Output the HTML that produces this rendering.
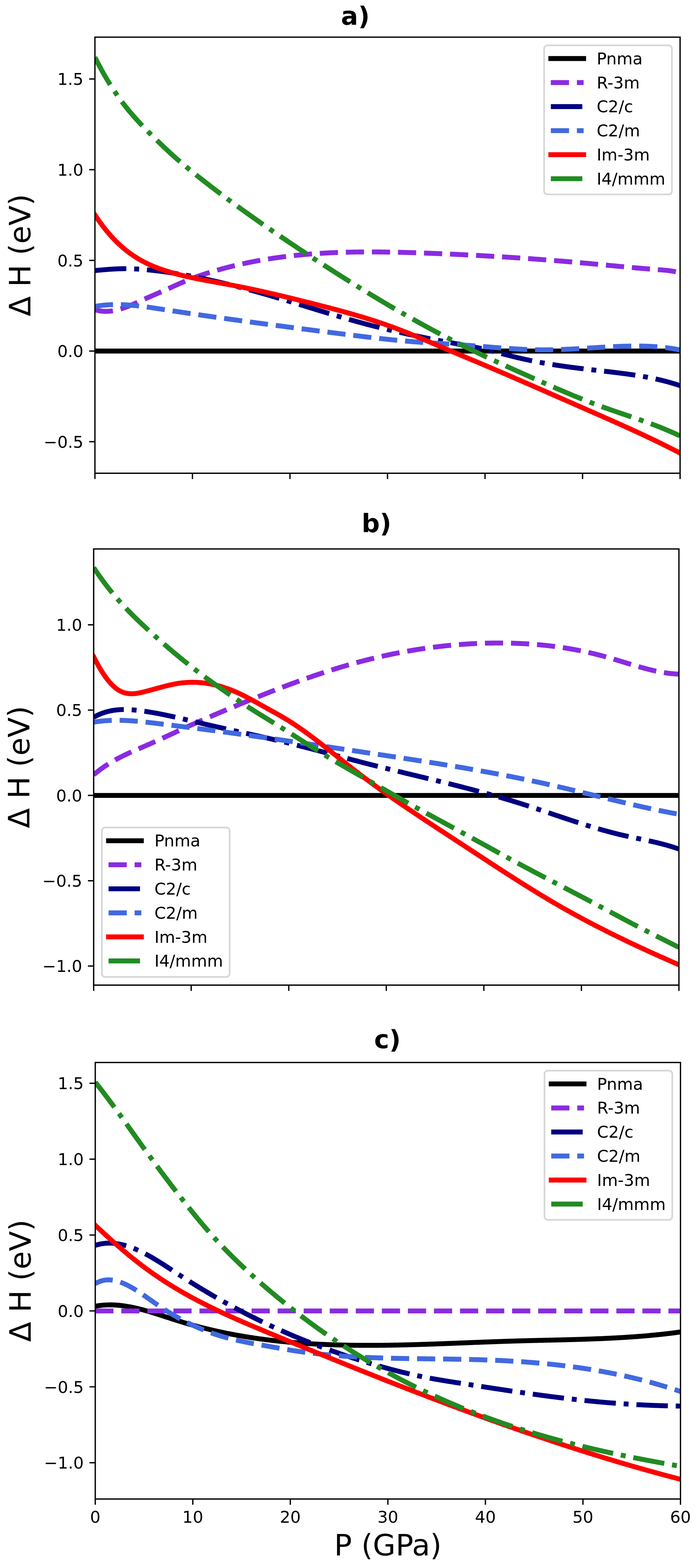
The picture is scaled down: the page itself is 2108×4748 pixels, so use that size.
<!DOCTYPE html><html><head><meta charset="utf-8"><title>Delta H vs P</title><style>html,body{margin:0;padding:0;background:#fff}svg{display:block}text{font-family:"DejaVu Sans","Liberation Sans",sans-serif}</style></head><body>
<svg width="2108" height="4748" viewBox="0 0 2108 4748">
<rect width="2108" height="4748" fill="#fff"/>
<defs><clipPath id="clipa"><rect x="287.50" y="112.50" width="1772.30" height="1320.50"/></clipPath><clipPath id="clipb"><rect x="283.70" y="1662.30" width="1772.60" height="1320.70"/></clipPath><clipPath id="clipc"><rect x="288.50" y="3217.30" width="1772.50" height="1321.80"/></clipPath></defs>
<g clip-path="url(#clipa)" fill="none" stroke-width="14.89" stroke-linejoin="round">
<path d="M287.50 1063.00 L2059.80 1063.00" stroke="#000000" stroke-linecap="square"/>
<path d="M287.50 937.67 L290.46 938.58 L293.42 939.40 L296.38 940.12 L299.34 940.75 L302.29 941.29 L305.25 941.74 L308.21 942.11 L311.17 942.40 L314.13 942.61 L317.09 942.74 L320.05 942.79 L323.01 942.77 L325.96 942.68 L328.92 942.51 L331.88 942.28 L334.84 941.98 L337.80 941.62 L340.76 941.19 L343.72 940.71 L346.68 940.16 L349.63 939.56 L352.59 938.91 L355.55 938.20 L358.51 937.45 L361.47 936.64 L364.43 935.79 L367.39 934.90 L370.35 933.96 L373.30 932.99 L376.26 931.98 L379.22 930.93 L382.18 929.84 L385.14 928.73 L388.10 927.58 L391.06 926.41 L394.02 925.21 L396.97 923.99 L399.93 922.75 L402.89 921.49 L405.85 920.21 L408.81 918.91 L411.77 917.60 L414.73 916.28 L417.69 914.95 L420.64 913.61 L423.60 912.27 L426.56 910.93 L429.52 909.58 L432.48 908.23 L435.44 906.89 L438.40 905.55 L441.36 904.22 L444.31 902.89 L447.27 901.57 L450.23 900.25 L453.19 898.94 L456.15 897.64 L459.11 896.33 L462.07 895.03 L465.03 893.74 L467.98 892.44 L470.94 891.15 L473.90 889.86 L476.86 888.56 L479.82 887.27 L482.78 885.98 L485.74 884.69 L488.70 883.39 L491.65 882.09 L494.61 880.79 L497.57 879.49 L500.53 878.19 L503.49 876.87 L506.45 875.56 L509.41 874.24 L512.37 872.91 L515.32 871.58 L518.28 870.24 L521.24 868.91 L524.20 867.57 L527.16 866.23 L530.12 864.89 L533.08 863.55 L536.04 862.22 L538.99 860.90 L541.95 859.58 L544.91 858.27 L547.87 856.97 L550.83 855.67 L553.79 854.40 L556.75 853.13 L559.71 851.88 L562.67 850.65 L565.62 849.43 L568.58 848.23 L571.54 847.04 L574.50 845.87 L577.46 844.72 L580.42 843.58 L583.38 842.45 L586.34 841.35 L589.29 840.25 L592.25 839.17 L595.21 838.10 L598.17 837.05 L601.13 836.01 L604.09 834.98 L607.05 833.96 L610.01 832.96 L612.96 831.97 L615.92 830.99 L618.88 830.02 L621.84 829.06 L624.80 828.12 L627.76 827.18 L630.72 826.26 L633.68 825.34 L636.63 824.43 L639.59 823.53 L642.55 822.64 L645.51 821.76 L648.47 820.89 L651.43 820.03 L654.39 819.17 L657.35 818.32 L660.30 817.48 L663.26 816.65 L666.22 815.83 L669.18 815.01 L672.14 814.20 L675.10 813.40 L678.06 812.61 L681.02 811.82 L683.97 811.05 L686.93 810.28 L689.89 809.51 L692.85 808.76 L695.81 808.01 L698.77 807.27 L701.73 806.54 L704.69 805.82 L707.64 805.10 L710.60 804.39 L713.56 803.69 L716.52 802.99 L719.48 802.31 L722.44 801.63 L725.40 800.95 L728.36 800.29 L731.31 799.63 L734.27 798.98 L737.23 798.33 L740.19 797.70 L743.15 797.07 L746.11 796.44 L749.07 795.83 L752.03 795.22 L754.98 794.61 L757.94 794.02 L760.90 793.43 L763.86 792.85 L766.82 792.27 L769.78 791.71 L772.74 791.14 L775.70 790.59 L778.65 790.04 L781.61 789.50 L784.57 788.97 L787.53 788.44 L790.49 787.92 L793.45 787.40 L796.41 786.89 L799.37 786.39 L802.33 785.89 L805.28 785.40 L808.24 784.92 L811.20 784.44 L814.16 783.97 L817.12 783.51 L820.08 783.05 L823.04 782.60 L826.00 782.15 L828.95 781.71 L831.91 781.28 L834.87 780.85 L837.83 780.43 L840.79 780.01 L843.75 779.60 L846.71 779.20 L849.67 778.80 L852.62 778.41 L855.58 778.02 L858.54 777.64 L861.50 777.27 L864.46 776.90 L867.42 776.53 L870.38 776.18 L873.34 775.82 L876.29 775.48 L879.25 775.14 L882.21 774.80 L885.17 774.47 L888.13 774.15 L891.09 773.83 L894.05 773.51 L897.01 773.20 L899.96 772.90 L902.92 772.60 L905.88 772.31 L908.84 772.02 L911.80 771.74 L914.76 771.46 L917.72 771.19 L920.68 770.92 L923.63 770.66 L926.59 770.40 L929.55 770.15 L932.51 769.90 L935.47 769.66 L938.43 769.42 L941.39 769.19 L944.35 768.96 L947.30 768.74 L950.26 768.52 L953.22 768.31 L956.18 768.10 L959.14 767.90 L962.10 767.70 L965.06 767.50 L968.02 767.31 L970.97 767.13 L973.93 766.94 L976.89 766.77 L979.85 766.59 L982.81 766.43 L985.77 766.26 L988.73 766.10 L991.69 765.95 L994.64 765.80 L997.60 765.65 L1000.56 765.51 L1003.52 765.37 L1006.48 765.23 L1009.44 765.10 L1012.40 764.98 L1015.36 764.86 L1018.31 764.74 L1021.27 764.62 L1024.23 764.51 L1027.19 764.41 L1030.15 764.31 L1033.11 764.21 L1036.07 764.11 L1039.03 764.02 L1041.98 763.93 L1044.94 763.85 L1047.90 763.77 L1050.86 763.69 L1053.82 763.62 L1056.78 763.55 L1059.74 763.48 L1062.70 763.42 L1065.66 763.36 L1068.61 763.31 L1071.57 763.26 L1074.53 763.21 L1077.49 763.16 L1080.45 763.12 L1083.41 763.08 L1086.37 763.05 L1089.33 763.01 L1092.28 762.98 L1095.24 762.96 L1098.20 762.94 L1101.16 762.92 L1104.12 762.90 L1107.08 762.89 L1110.04 762.87 L1113.00 762.87 L1115.95 762.86 L1118.91 762.86 L1121.87 762.86 L1124.83 762.86 L1127.79 762.87 L1130.75 762.88 L1133.71 762.89 L1136.67 762.90 L1139.62 762.92 L1142.58 762.94 L1145.54 762.96 L1148.50 762.99 L1151.46 763.02 L1154.42 763.04 L1157.38 763.08 L1160.34 763.11 L1163.29 763.15 L1166.25 763.19 L1169.21 763.23 L1172.17 763.27 L1175.13 763.32 L1178.09 763.37 L1181.05 763.42 L1184.01 763.47 L1186.96 763.52 L1189.92 763.58 L1192.88 763.64 L1195.84 763.70 L1198.80 763.76 L1201.76 763.83 L1204.72 763.90 L1207.68 763.96 L1210.63 764.03 L1213.59 764.11 L1216.55 764.18 L1219.51 764.26 L1222.47 764.33 L1225.43 764.41 L1228.39 764.49 L1231.35 764.58 L1234.30 764.66 L1237.26 764.74 L1240.22 764.83 L1243.18 764.92 L1246.14 765.01 L1249.10 765.10 L1252.06 765.19 L1255.02 765.29 L1257.97 765.38 L1260.93 765.48 L1263.89 765.58 L1266.85 765.68 L1269.81 765.78 L1272.77 765.88 L1275.73 765.98 L1278.69 766.09 L1281.64 766.19 L1284.60 766.30 L1287.56 766.40 L1290.52 766.51 L1293.48 766.62 L1296.44 766.73 L1299.40 766.84 L1302.36 766.95 L1305.32 767.06 L1308.27 767.18 L1311.23 767.29 L1314.19 767.41 L1317.15 767.52 L1320.11 767.64 L1323.07 767.76 L1326.03 767.88 L1328.99 768.00 L1331.94 768.12 L1334.90 768.24 L1337.86 768.36 L1340.82 768.48 L1343.78 768.61 L1346.74 768.73 L1349.70 768.86 L1352.66 768.99 L1355.61 769.12 L1358.57 769.25 L1361.53 769.38 L1364.49 769.51 L1367.45 769.64 L1370.41 769.77 L1373.37 769.91 L1376.33 770.04 L1379.28 770.18 L1382.24 770.31 L1385.20 770.45 L1388.16 770.59 L1391.12 770.73 L1394.08 770.87 L1397.04 771.01 L1400.00 771.15 L1402.95 771.30 L1405.91 771.44 L1408.87 771.59 L1411.83 771.73 L1414.79 771.88 L1417.75 772.03 L1420.71 772.18 L1423.67 772.33 L1426.62 772.48 L1429.58 772.63 L1432.54 772.79 L1435.50 772.94 L1438.46 773.09 L1441.42 773.25 L1444.38 773.41 L1447.34 773.56 L1450.29 773.72 L1453.25 773.88 L1456.21 774.04 L1459.17 774.21 L1462.13 774.37 L1465.09 774.53 L1468.05 774.70 L1471.01 774.86 L1473.96 775.03 L1476.92 775.20 L1479.88 775.36 L1482.84 775.53 L1485.80 775.70 L1488.76 775.88 L1491.72 776.05 L1494.68 776.22 L1497.63 776.40 L1500.59 776.57 L1503.55 776.75 L1506.51 776.92 L1509.47 777.10 L1512.43 777.28 L1515.39 777.46 L1518.35 777.64 L1521.30 777.82 L1524.26 778.01 L1527.22 778.19 L1530.18 778.38 L1533.14 778.56 L1536.10 778.75 L1539.06 778.94 L1542.02 779.13 L1544.97 779.32 L1547.93 779.51 L1550.89 779.70 L1553.85 779.89 L1556.81 780.08 L1559.77 780.28 L1562.73 780.47 L1565.69 780.67 L1568.65 780.87 L1571.60 781.07 L1574.56 781.27 L1577.52 781.47 L1580.48 781.67 L1583.44 781.87 L1586.40 782.08 L1589.36 782.28 L1592.32 782.49 L1595.27 782.69 L1598.23 782.90 L1601.19 783.11 L1604.15 783.32 L1607.11 783.53 L1610.07 783.74 L1613.03 783.95 L1615.99 784.16 L1618.94 784.38 L1621.90 784.59 L1624.86 784.81 L1627.82 785.03 L1630.78 785.25 L1633.74 785.47 L1636.70 785.69 L1639.66 785.91 L1642.61 786.13 L1645.57 786.35 L1648.53 786.58 L1651.49 786.80 L1654.45 787.03 L1657.41 787.26 L1660.37 787.48 L1663.33 787.71 L1666.28 787.94 L1669.24 788.18 L1672.20 788.41 L1675.16 788.64 L1678.12 788.87 L1681.08 789.11 L1684.04 789.35 L1687.00 789.58 L1689.95 789.82 L1692.91 790.06 L1695.87 790.30 L1698.83 790.54 L1701.79 790.79 L1704.75 791.03 L1707.71 791.27 L1710.67 791.52 L1713.62 791.76 L1716.58 792.01 L1719.54 792.26 L1722.50 792.51 L1725.46 792.76 L1728.42 793.01 L1731.38 793.26 L1734.34 793.52 L1737.29 793.77 L1740.25 794.03 L1743.21 794.28 L1746.17 794.54 L1749.13 794.80 L1752.09 795.06 L1755.05 795.32 L1758.01 795.58 L1760.96 795.84 L1763.92 796.11 L1766.88 796.37 L1769.84 796.64 L1772.80 796.90 L1775.76 797.17 L1778.72 797.44 L1781.68 797.71 L1784.63 797.98 L1787.59 798.25 L1790.55 798.52 L1793.51 798.80 L1796.47 799.07 L1799.43 799.35 L1802.39 799.62 L1805.35 799.90 L1808.31 800.18 L1811.26 800.45 L1814.22 800.73 L1817.18 801.01 L1820.14 801.29 L1823.10 801.57 L1826.06 801.85 L1829.02 802.13 L1831.98 802.41 L1834.93 802.69 L1837.89 802.97 L1840.85 803.26 L1843.81 803.54 L1846.77 803.82 L1849.73 804.10 L1852.69 804.38 L1855.65 804.66 L1858.60 804.94 L1861.56 805.22 L1864.52 805.50 L1867.48 805.78 L1870.44 806.06 L1873.40 806.34 L1876.36 806.62 L1879.32 806.90 L1882.27 807.17 L1885.23 807.45 L1888.19 807.73 L1891.15 808.00 L1894.11 808.27 L1897.07 808.55 L1900.03 808.82 L1902.99 809.09 L1905.94 809.36 L1908.90 809.63 L1911.86 809.90 L1914.82 810.17 L1917.78 810.43 L1920.74 810.70 L1923.70 810.96 L1926.66 811.22 L1929.61 811.48 L1932.57 811.74 L1935.53 812.00 L1938.49 812.25 L1941.45 812.51 L1944.41 812.76 L1947.37 813.01 L1950.33 813.26 L1953.28 813.51 L1956.24 813.75 L1959.20 813.99 L1962.16 814.23 L1965.12 814.47 L1968.08 814.71 L1971.04 814.94 L1974.00 815.18 L1976.95 815.41 L1979.91 815.64 L1982.87 815.86 L1985.83 816.08 L1988.79 816.31 L1991.75 816.52 L1994.71 816.74 L1997.67 816.95 L2000.62 817.17 L2003.58 817.39 L2006.54 817.61 L2009.50 817.85 L2012.46 818.10 L2015.42 818.37 L2018.38 818.66 L2021.34 818.97 L2024.29 819.32 L2027.25 819.69 L2030.21 820.09 L2033.17 820.54 L2036.13 821.02 L2039.09 821.55 L2042.05 822.13 L2045.01 822.75 L2047.96 823.43 L2050.92 824.17 L2053.88 824.97 L2056.84 825.83 L2059.80 826.76" stroke="#8a2be2" stroke-linecap="butt" stroke-dasharray="55.09,23.82"/>
<path d="M287.50 819.27 L290.46 818.98 L293.42 818.69 L296.38 818.41 L299.34 818.13 L302.29 817.86 L305.25 817.59 L308.21 817.32 L311.17 817.06 L314.13 816.81 L317.09 816.56 L320.05 816.32 L323.01 816.09 L325.96 815.87 L328.92 815.65 L331.88 815.44 L334.84 815.25 L337.80 815.06 L340.76 814.88 L343.72 814.71 L346.68 814.55 L349.63 814.40 L352.59 814.27 L355.55 814.14 L358.51 814.03 L361.47 813.93 L364.43 813.84 L367.39 813.77 L370.35 813.71 L373.30 813.67 L376.26 813.64 L379.22 813.63 L382.18 813.63 L385.14 813.64 L388.10 813.68 L391.06 813.72 L394.02 813.79 L396.97 813.87 L399.93 813.96 L402.89 814.06 L405.85 814.18 L408.81 814.32 L411.77 814.46 L414.73 814.62 L417.69 814.79 L420.64 814.98 L423.60 815.17 L426.56 815.38 L429.52 815.60 L432.48 815.83 L435.44 816.07 L438.40 816.32 L441.36 816.58 L444.31 816.84 L447.27 817.12 L450.23 817.41 L453.19 817.71 L456.15 818.01 L459.11 818.32 L462.07 818.64 L465.03 818.97 L467.98 819.30 L470.94 819.64 L473.90 819.99 L476.86 820.34 L479.82 820.70 L482.78 821.07 L485.74 821.44 L488.70 821.82 L491.65 822.21 L494.61 822.60 L497.57 823.00 L500.53 823.40 L503.49 823.81 L506.45 824.23 L509.41 824.65 L512.37 825.08 L515.32 825.52 L518.28 825.96 L521.24 826.40 L524.20 826.86 L527.16 827.32 L530.12 827.78 L533.08 828.25 L536.04 828.73 L538.99 829.21 L541.95 829.70 L544.91 830.19 L547.87 830.69 L550.83 831.20 L553.79 831.71 L556.75 832.22 L559.71 832.74 L562.67 833.27 L565.62 833.80 L568.58 834.34 L571.54 834.88 L574.50 835.43 L577.46 835.98 L580.42 836.54 L583.38 837.11 L586.34 837.68 L589.29 838.25 L592.25 838.83 L595.21 839.41 L598.17 840.00 L601.13 840.60 L604.09 841.20 L607.05 841.80 L610.01 842.41 L612.96 843.03 L615.92 843.64 L618.88 844.27 L621.84 844.90 L624.80 845.53 L627.76 846.17 L630.72 846.81 L633.68 847.46 L636.63 848.11 L639.59 848.76 L642.55 849.42 L645.51 850.09 L648.47 850.76 L651.43 851.43 L654.39 852.11 L657.35 852.79 L660.30 853.48 L663.26 854.17 L666.22 854.86 L669.18 855.56 L672.14 856.27 L675.10 856.97 L678.06 857.68 L681.02 858.40 L683.97 859.12 L686.93 859.84 L689.89 860.57 L692.85 861.30 L695.81 862.03 L698.77 862.77 L701.73 863.52 L704.69 864.26 L707.64 865.01 L710.60 865.76 L713.56 866.52 L716.52 867.28 L719.48 868.04 L722.44 868.81 L725.40 869.58 L728.36 870.36 L731.31 871.13 L734.27 871.92 L737.23 872.70 L740.19 873.49 L743.15 874.28 L746.11 875.07 L749.07 875.87 L752.03 876.67 L754.98 877.47 L757.94 878.28 L760.90 879.09 L763.86 879.90 L766.82 880.71 L769.78 881.53 L772.74 882.35 L775.70 883.18 L778.65 884.00 L781.61 884.83 L784.57 885.66 L787.53 886.50 L790.49 887.34 L793.45 888.18 L796.41 889.02 L799.37 889.86 L802.33 890.71 L805.28 891.56 L808.24 892.41 L811.20 893.27 L814.16 894.12 L817.12 894.98 L820.08 895.84 L823.04 896.71 L826.00 897.57 L828.95 898.44 L831.91 899.31 L834.87 900.19 L837.83 901.06 L840.79 901.94 L843.75 902.81 L846.71 903.69 L849.67 904.58 L852.62 905.46 L855.58 906.35 L858.54 907.23 L861.50 908.12 L864.46 909.01 L867.42 909.91 L870.38 910.80 L873.34 911.69 L876.29 912.59 L879.25 913.49 L882.21 914.38 L885.17 915.28 L888.13 916.18 L891.09 917.08 L894.05 917.99 L897.01 918.89 L899.96 919.79 L902.92 920.70 L905.88 921.60 L908.84 922.51 L911.80 923.41 L914.76 924.32 L917.72 925.23 L920.68 926.13 L923.63 927.04 L926.59 927.95 L929.55 928.85 L932.51 929.76 L935.47 930.67 L938.43 931.58 L941.39 932.48 L944.35 933.39 L947.30 934.30 L950.26 935.20 L953.22 936.11 L956.18 937.01 L959.14 937.92 L962.10 938.82 L965.06 939.72 L968.02 940.63 L970.97 941.53 L973.93 942.43 L976.89 943.33 L979.85 944.23 L982.81 945.12 L985.77 946.02 L988.73 946.91 L991.69 947.81 L994.64 948.70 L997.60 949.59 L1000.56 950.48 L1003.52 951.37 L1006.48 952.25 L1009.44 953.14 L1012.40 954.02 L1015.36 954.90 L1018.31 955.78 L1021.27 956.66 L1024.23 957.53 L1027.19 958.41 L1030.15 959.28 L1033.11 960.14 L1036.07 961.01 L1039.03 961.87 L1041.98 962.74 L1044.94 963.59 L1047.90 964.45 L1050.86 965.30 L1053.82 966.16 L1056.78 967.00 L1059.74 967.85 L1062.70 968.69 L1065.66 969.53 L1068.61 970.37 L1071.57 971.20 L1074.53 972.03 L1077.49 972.86 L1080.45 973.68 L1083.41 974.50 L1086.37 975.32 L1089.33 976.13 L1092.28 976.94 L1095.24 977.75 L1098.20 978.55 L1101.16 979.35 L1104.12 980.15 L1107.08 980.94 L1110.04 981.73 L1113.00 982.51 L1115.95 983.29 L1118.91 984.07 L1121.87 984.84 L1124.83 985.61 L1127.79 986.37 L1130.75 987.13 L1133.71 987.89 L1136.67 988.64 L1139.62 989.39 L1142.58 990.14 L1145.54 990.88 L1148.50 991.62 L1151.46 992.36 L1154.42 993.09 L1157.38 993.82 L1160.34 994.54 L1163.29 995.26 L1166.25 995.98 L1169.21 996.70 L1172.17 997.41 L1175.13 998.12 L1178.09 998.82 L1181.05 999.52 L1184.01 1000.22 L1186.96 1000.91 L1189.92 1001.61 L1192.88 1002.29 L1195.84 1002.98 L1198.80 1003.66 L1201.76 1004.34 L1204.72 1005.02 L1207.68 1005.69 L1210.63 1006.36 L1213.59 1007.02 L1216.55 1007.69 L1219.51 1008.35 L1222.47 1009.00 L1225.43 1009.66 L1228.39 1010.31 L1231.35 1010.96 L1234.30 1011.60 L1237.26 1012.25 L1240.22 1012.89 L1243.18 1013.52 L1246.14 1014.16 L1249.10 1014.79 L1252.06 1015.42 L1255.02 1016.05 L1257.97 1016.67 L1260.93 1017.29 L1263.89 1017.91 L1266.85 1018.52 L1269.81 1019.14 L1272.77 1019.75 L1275.73 1020.36 L1278.69 1020.96 L1281.64 1021.57 L1284.60 1022.17 L1287.56 1022.76 L1290.52 1023.36 L1293.48 1023.95 L1296.44 1024.54 L1299.40 1025.13 L1302.36 1025.72 L1305.32 1026.30 L1308.27 1026.88 L1311.23 1027.46 L1314.19 1028.04 L1317.15 1028.62 L1320.11 1029.19 L1323.07 1029.76 L1326.03 1030.33 L1328.99 1030.90 L1331.94 1031.46 L1334.90 1032.02 L1337.86 1032.58 L1340.82 1033.14 L1343.78 1033.70 L1346.74 1034.25 L1349.70 1034.81 L1352.66 1035.36 L1355.61 1035.90 L1358.57 1036.45 L1361.53 1037.00 L1364.49 1037.54 L1367.45 1038.08 L1370.41 1038.62 L1373.37 1039.16 L1376.33 1039.70 L1379.28 1040.23 L1382.24 1040.77 L1385.20 1041.31 L1388.16 1041.84 L1391.12 1042.38 L1394.08 1042.92 L1397.04 1043.46 L1400.00 1044.00 L1402.95 1044.54 L1405.91 1045.09 L1408.87 1045.64 L1411.83 1046.19 L1414.79 1046.74 L1417.75 1047.30 L1420.71 1047.86 L1423.67 1048.43 L1426.62 1049.01 L1429.58 1049.58 L1432.54 1050.17 L1435.50 1050.76 L1438.46 1051.36 L1441.42 1051.96 L1444.38 1052.57 L1447.34 1053.19 L1450.29 1053.81 L1453.25 1054.45 L1456.21 1055.09 L1459.17 1055.74 L1462.13 1056.40 L1465.09 1057.07 L1468.05 1057.75 L1471.01 1058.44 L1473.96 1059.15 L1476.92 1059.86 L1479.88 1060.58 L1482.84 1061.31 L1485.80 1062.04 L1488.76 1062.79 L1491.72 1063.54 L1494.68 1064.29 L1497.63 1065.05 L1500.59 1065.82 L1503.55 1066.59 L1506.51 1067.36 L1509.47 1068.14 L1512.43 1068.92 L1515.39 1069.69 L1518.35 1070.47 L1521.30 1071.25 L1524.26 1072.03 L1527.22 1072.81 L1530.18 1073.58 L1533.14 1074.35 L1536.10 1075.12 L1539.06 1075.89 L1542.02 1076.65 L1544.97 1077.40 L1547.93 1078.15 L1550.89 1078.89 L1553.85 1079.62 L1556.81 1080.35 L1559.77 1081.07 L1562.73 1081.79 L1565.69 1082.49 L1568.65 1083.19 L1571.60 1083.89 L1574.56 1084.57 L1577.52 1085.26 L1580.48 1085.93 L1583.44 1086.60 L1586.40 1087.26 L1589.36 1087.91 L1592.32 1088.56 L1595.27 1089.20 L1598.23 1089.83 L1601.19 1090.46 L1604.15 1091.08 L1607.11 1091.70 L1610.07 1092.31 L1613.03 1092.91 L1615.99 1093.51 L1618.94 1094.10 L1621.90 1094.68 L1624.86 1095.26 L1627.82 1095.83 L1630.78 1096.40 L1633.74 1096.96 L1636.70 1097.51 L1639.66 1098.06 L1642.61 1098.60 L1645.57 1099.14 L1648.53 1099.67 L1651.49 1100.19 L1654.45 1100.71 L1657.41 1101.22 L1660.37 1101.73 L1663.33 1102.23 L1666.28 1102.72 L1669.24 1103.21 L1672.20 1103.69 L1675.16 1104.17 L1678.12 1104.64 L1681.08 1105.11 L1684.04 1105.57 L1687.00 1106.03 L1689.95 1106.48 L1692.91 1106.92 L1695.87 1107.36 L1698.83 1107.80 L1701.79 1108.23 L1704.75 1108.65 L1707.71 1109.07 L1710.67 1109.49 L1713.62 1109.90 L1716.58 1110.31 L1719.54 1110.71 L1722.50 1111.11 L1725.46 1111.51 L1728.42 1111.90 L1731.38 1112.29 L1734.34 1112.68 L1737.29 1113.06 L1740.25 1113.44 L1743.21 1113.81 L1746.17 1114.19 L1749.13 1114.56 L1752.09 1114.92 L1755.05 1115.29 L1758.01 1115.65 L1760.96 1116.01 L1763.92 1116.37 L1766.88 1116.72 L1769.84 1117.08 L1772.80 1117.43 L1775.76 1117.78 L1778.72 1118.13 L1781.68 1118.47 L1784.63 1118.82 L1787.59 1119.16 L1790.55 1119.50 L1793.51 1119.85 L1796.47 1120.19 L1799.43 1120.53 L1802.39 1120.87 L1805.35 1121.21 L1808.31 1121.54 L1811.26 1121.88 L1814.22 1122.22 L1817.18 1122.56 L1820.14 1122.90 L1823.10 1123.23 L1826.06 1123.57 L1829.02 1123.91 L1831.98 1124.25 L1834.93 1124.59 L1837.89 1124.93 L1840.85 1125.27 L1843.81 1125.61 L1846.77 1125.96 L1849.73 1126.30 L1852.69 1126.65 L1855.65 1127.00 L1858.60 1127.35 L1861.56 1127.71 L1864.52 1128.06 L1867.48 1128.42 L1870.44 1128.78 L1873.40 1129.15 L1876.36 1129.52 L1879.32 1129.89 L1882.27 1130.27 L1885.23 1130.65 L1888.19 1131.03 L1891.15 1131.42 L1894.11 1131.82 L1897.07 1132.22 L1900.03 1132.62 L1902.99 1133.03 L1905.94 1133.44 L1908.90 1133.86 L1911.86 1134.29 L1914.82 1134.72 L1917.78 1135.16 L1920.74 1135.61 L1923.70 1136.06 L1926.66 1136.52 L1929.61 1136.98 L1932.57 1137.46 L1935.53 1137.94 L1938.49 1138.43 L1941.45 1138.92 L1944.41 1139.43 L1947.37 1139.94 L1950.33 1140.46 L1953.28 1140.99 L1956.24 1141.53 L1959.20 1142.08 L1962.16 1142.64 L1965.12 1143.21 L1968.08 1143.79 L1971.04 1144.37 L1974.00 1144.97 L1976.95 1145.58 L1979.91 1146.20 L1982.87 1146.83 L1985.83 1147.47 L1988.79 1148.13 L1991.75 1148.79 L1994.71 1149.47 L1997.67 1150.15 L2000.62 1150.85 L2003.58 1151.57 L2006.54 1152.29 L2009.50 1153.03 L2012.46 1153.78 L2015.42 1154.54 L2018.38 1155.32 L2021.34 1156.11 L2024.29 1156.92 L2027.25 1157.73 L2030.21 1158.57 L2033.17 1159.41 L2036.13 1160.28 L2039.09 1161.15 L2042.05 1162.04 L2045.01 1162.95 L2047.96 1163.87 L2050.92 1164.81 L2053.88 1165.77 L2056.84 1166.74 L2059.80 1167.72" stroke="#000080" stroke-linecap="butt" stroke-dasharray="95.30,23.82,14.89,23.82"/>
<path d="M287.50 927.86 L290.46 927.33 L293.42 926.83 L296.38 926.36 L299.34 925.92 L302.29 925.51 L305.25 925.12 L308.21 924.77 L311.17 924.43 L314.13 924.13 L317.09 923.85 L320.05 923.59 L323.01 923.36 L325.96 923.15 L328.92 922.97 L331.88 922.81 L334.84 922.67 L337.80 922.56 L340.76 922.47 L343.72 922.40 L346.68 922.35 L349.63 922.32 L352.59 922.31 L355.55 922.32 L358.51 922.34 L361.47 922.39 L364.43 922.46 L367.39 922.54 L370.35 922.64 L373.30 922.76 L376.26 922.89 L379.22 923.04 L382.18 923.21 L385.14 923.39 L388.10 923.59 L391.06 923.80 L394.02 924.02 L396.97 924.26 L399.93 924.51 L402.89 924.77 L405.85 925.05 L408.81 925.34 L411.77 925.64 L414.73 925.95 L417.69 926.27 L420.64 926.60 L423.60 926.95 L426.56 927.30 L429.52 927.66 L432.48 928.03 L435.44 928.41 L438.40 928.79 L441.36 929.18 L444.31 929.58 L447.27 929.99 L450.23 930.40 L453.19 930.82 L456.15 931.25 L459.11 931.68 L462.07 932.11 L465.03 932.55 L467.98 932.99 L470.94 933.44 L473.90 933.89 L476.86 934.34 L479.82 934.79 L482.78 935.24 L485.74 935.70 L488.70 936.16 L491.65 936.62 L494.61 937.07 L497.57 937.53 L500.53 937.99 L503.49 938.44 L506.45 938.90 L509.41 939.35 L512.37 939.81 L515.32 940.26 L518.28 940.71 L521.24 941.16 L524.20 941.61 L527.16 942.06 L530.12 942.51 L533.08 942.96 L536.04 943.40 L538.99 943.85 L541.95 944.30 L544.91 944.74 L547.87 945.18 L550.83 945.63 L553.79 946.07 L556.75 946.51 L559.71 946.95 L562.67 947.39 L565.62 947.83 L568.58 948.27 L571.54 948.71 L574.50 949.14 L577.46 949.58 L580.42 950.02 L583.38 950.45 L586.34 950.88 L589.29 951.32 L592.25 951.75 L595.21 952.18 L598.17 952.61 L601.13 953.04 L604.09 953.47 L607.05 953.90 L610.01 954.33 L612.96 954.76 L615.92 955.19 L618.88 955.61 L621.84 956.04 L624.80 956.46 L627.76 956.89 L630.72 957.31 L633.68 957.73 L636.63 958.16 L639.59 958.58 L642.55 959.00 L645.51 959.42 L648.47 959.84 L651.43 960.26 L654.39 960.68 L657.35 961.10 L660.30 961.51 L663.26 961.93 L666.22 962.35 L669.18 962.76 L672.14 963.18 L675.10 963.59 L678.06 964.01 L681.02 964.42 L683.97 964.83 L686.93 965.24 L689.89 965.66 L692.85 966.07 L695.81 966.48 L698.77 966.89 L701.73 967.30 L704.69 967.71 L707.64 968.11 L710.60 968.52 L713.56 968.93 L716.52 969.34 L719.48 969.74 L722.44 970.15 L725.40 970.55 L728.36 970.96 L731.31 971.36 L734.27 971.77 L737.23 972.17 L740.19 972.57 L743.15 972.98 L746.11 973.38 L749.07 973.78 L752.03 974.18 L754.98 974.58 L757.94 974.98 L760.90 975.38 L763.86 975.78 L766.82 976.18 L769.78 976.58 L772.74 976.97 L775.70 977.37 L778.65 977.77 L781.61 978.16 L784.57 978.56 L787.53 978.96 L790.49 979.35 L793.45 979.75 L796.41 980.14 L799.37 980.54 L802.33 980.93 L805.28 981.32 L808.24 981.72 L811.20 982.11 L814.16 982.50 L817.12 982.89 L820.08 983.29 L823.04 983.68 L826.00 984.07 L828.95 984.46 L831.91 984.85 L834.87 985.24 L837.83 985.63 L840.79 986.02 L843.75 986.41 L846.71 986.79 L849.67 987.18 L852.62 987.57 L855.58 987.96 L858.54 988.35 L861.50 988.73 L864.46 989.12 L867.42 989.51 L870.38 989.89 L873.34 990.28 L876.29 990.66 L879.25 991.05 L882.21 991.44 L885.17 991.82 L888.13 992.20 L891.09 992.59 L894.05 992.97 L897.01 993.36 L899.96 993.74 L902.92 994.12 L905.88 994.51 L908.84 994.89 L911.80 995.27 L914.76 995.66 L917.72 996.04 L920.68 996.42 L923.63 996.80 L926.59 997.19 L929.55 997.57 L932.51 997.95 L935.47 998.33 L938.43 998.71 L941.39 999.09 L944.35 999.47 L947.30 999.85 L950.26 1000.23 L953.22 1000.61 L956.18 1001.00 L959.14 1001.38 L962.10 1001.76 L965.06 1002.14 L968.02 1002.51 L970.97 1002.89 L973.93 1003.27 L976.89 1003.65 L979.85 1004.03 L982.81 1004.41 L985.77 1004.79 L988.73 1005.17 L991.69 1005.55 L994.64 1005.93 L997.60 1006.31 L1000.56 1006.69 L1003.52 1007.06 L1006.48 1007.44 L1009.44 1007.82 L1012.40 1008.20 L1015.36 1008.58 L1018.31 1008.95 L1021.27 1009.33 L1024.23 1009.71 L1027.19 1010.09 L1030.15 1010.46 L1033.11 1010.84 L1036.07 1011.21 L1039.03 1011.59 L1041.98 1011.96 L1044.94 1012.34 L1047.90 1012.71 L1050.86 1013.08 L1053.82 1013.45 L1056.78 1013.82 L1059.74 1014.19 L1062.70 1014.56 L1065.66 1014.93 L1068.61 1015.30 L1071.57 1015.67 L1074.53 1016.03 L1077.49 1016.40 L1080.45 1016.76 L1083.41 1017.12 L1086.37 1017.48 L1089.33 1017.85 L1092.28 1018.20 L1095.24 1018.56 L1098.20 1018.92 L1101.16 1019.27 L1104.12 1019.63 L1107.08 1019.98 L1110.04 1020.33 L1113.00 1020.68 L1115.95 1021.03 L1118.91 1021.37 L1121.87 1021.72 L1124.83 1022.06 L1127.79 1022.40 L1130.75 1022.74 L1133.71 1023.08 L1136.67 1023.42 L1139.62 1023.75 L1142.58 1024.09 L1145.54 1024.42 L1148.50 1024.74 L1151.46 1025.07 L1154.42 1025.40 L1157.38 1025.72 L1160.34 1026.04 L1163.29 1026.36 L1166.25 1026.67 L1169.21 1026.99 L1172.17 1027.30 L1175.13 1027.61 L1178.09 1027.92 L1181.05 1028.22 L1184.01 1028.53 L1186.96 1028.83 L1189.92 1029.12 L1192.88 1029.42 L1195.84 1029.71 L1198.80 1030.00 L1201.76 1030.29 L1204.72 1030.57 L1207.68 1030.85 L1210.63 1031.13 L1213.59 1031.41 L1216.55 1031.68 L1219.51 1031.96 L1222.47 1032.22 L1225.43 1032.49 L1228.39 1032.75 L1231.35 1033.01 L1234.30 1033.27 L1237.26 1033.52 L1240.22 1033.77 L1243.18 1034.01 L1246.14 1034.26 L1249.10 1034.50 L1252.06 1034.74 L1255.02 1034.97 L1257.97 1035.20 L1260.93 1035.43 L1263.89 1035.65 L1266.85 1035.87 L1269.81 1036.09 L1272.77 1036.30 L1275.73 1036.51 L1278.69 1036.72 L1281.64 1036.92 L1284.60 1037.12 L1287.56 1037.32 L1290.52 1037.52 L1293.48 1037.72 L1296.44 1037.91 L1299.40 1038.10 L1302.36 1038.29 L1305.32 1038.48 L1308.27 1038.66 L1311.23 1038.85 L1314.19 1039.03 L1317.15 1039.21 L1320.11 1039.40 L1323.07 1039.58 L1326.03 1039.76 L1328.99 1039.94 L1331.94 1040.12 L1334.90 1040.30 L1337.86 1040.47 L1340.82 1040.65 L1343.78 1040.83 L1346.74 1041.01 L1349.70 1041.19 L1352.66 1041.37 L1355.61 1041.55 L1358.57 1041.74 L1361.53 1041.92 L1364.49 1042.11 L1367.45 1042.29 L1370.41 1042.48 L1373.37 1042.67 L1376.33 1042.86 L1379.28 1043.05 L1382.24 1043.25 L1385.20 1043.44 L1388.16 1043.64 L1391.12 1043.84 L1394.08 1044.05 L1397.04 1044.26 L1400.00 1044.47 L1402.95 1044.68 L1405.91 1044.89 L1408.87 1045.11 L1411.83 1045.33 L1414.79 1045.55 L1417.75 1045.77 L1420.71 1046.00 L1423.67 1046.22 L1426.62 1046.45 L1429.58 1046.68 L1432.54 1046.91 L1435.50 1047.14 L1438.46 1047.38 L1441.42 1047.61 L1444.38 1047.85 L1447.34 1048.08 L1450.29 1048.32 L1453.25 1048.56 L1456.21 1048.79 L1459.17 1049.03 L1462.13 1049.27 L1465.09 1049.51 L1468.05 1049.74 L1471.01 1049.98 L1473.96 1050.22 L1476.92 1050.46 L1479.88 1050.69 L1482.84 1050.93 L1485.80 1051.16 L1488.76 1051.40 L1491.72 1051.63 L1494.68 1051.86 L1497.63 1052.09 L1500.59 1052.32 L1503.55 1052.55 L1506.51 1052.77 L1509.47 1053.00 L1512.43 1053.22 L1515.39 1053.44 L1518.35 1053.66 L1521.30 1053.87 L1524.26 1054.09 L1527.22 1054.30 L1530.18 1054.50 L1533.14 1054.71 L1536.10 1054.91 L1539.06 1055.11 L1542.02 1055.31 L1544.97 1055.50 L1547.93 1055.69 L1550.89 1055.88 L1553.85 1056.06 L1556.81 1056.24 L1559.77 1056.42 L1562.73 1056.59 L1565.69 1056.76 L1568.65 1056.92 L1571.60 1057.08 L1574.56 1057.24 L1577.52 1057.39 L1580.48 1057.54 L1583.44 1057.68 L1586.40 1057.81 L1589.36 1057.94 L1592.32 1058.07 L1595.27 1058.19 L1598.23 1058.31 L1601.19 1058.42 L1604.15 1058.52 L1607.11 1058.62 L1610.07 1058.72 L1613.03 1058.80 L1615.99 1058.89 L1618.94 1058.96 L1621.90 1059.03 L1624.86 1059.09 L1627.82 1059.15 L1630.78 1059.20 L1633.74 1059.24 L1636.70 1059.28 L1639.66 1059.31 L1642.61 1059.33 L1645.57 1059.34 L1648.53 1059.35 L1651.49 1059.35 L1654.45 1059.34 L1657.41 1059.33 L1660.37 1059.30 L1663.33 1059.27 L1666.28 1059.24 L1669.24 1059.19 L1672.20 1059.14 L1675.16 1059.08 L1678.12 1059.02 L1681.08 1058.95 L1684.04 1058.87 L1687.00 1058.79 L1689.95 1058.70 L1692.91 1058.61 L1695.87 1058.51 L1698.83 1058.41 L1701.79 1058.30 L1704.75 1058.18 L1707.71 1058.06 L1710.67 1057.94 L1713.62 1057.81 L1716.58 1057.68 L1719.54 1057.54 L1722.50 1057.40 L1725.46 1057.26 L1728.42 1057.11 L1731.38 1056.96 L1734.34 1056.80 L1737.29 1056.65 L1740.25 1056.48 L1743.21 1056.32 L1746.17 1056.16 L1749.13 1055.99 L1752.09 1055.82 L1755.05 1055.64 L1758.01 1055.47 L1760.96 1055.29 L1763.92 1055.12 L1766.88 1054.94 L1769.84 1054.76 L1772.80 1054.58 L1775.76 1054.39 L1778.72 1054.21 L1781.68 1054.03 L1784.63 1053.84 L1787.59 1053.66 L1790.55 1053.48 L1793.51 1053.29 L1796.47 1053.11 L1799.43 1052.93 L1802.39 1052.74 L1805.35 1052.56 L1808.31 1052.38 L1811.26 1052.20 L1814.22 1052.02 L1817.18 1051.85 L1820.14 1051.67 L1823.10 1051.50 L1826.06 1051.33 L1829.02 1051.16 L1831.98 1050.99 L1834.93 1050.82 L1837.89 1050.66 L1840.85 1050.50 L1843.81 1050.35 L1846.77 1050.20 L1849.73 1050.05 L1852.69 1049.90 L1855.65 1049.76 L1858.60 1049.62 L1861.56 1049.48 L1864.52 1049.35 L1867.48 1049.23 L1870.44 1049.11 L1873.40 1048.99 L1876.36 1048.88 L1879.32 1048.77 L1882.27 1048.67 L1885.23 1048.57 L1888.19 1048.48 L1891.15 1048.40 L1894.11 1048.32 L1897.07 1048.25 L1900.03 1048.18 L1902.99 1048.12 L1905.94 1048.06 L1908.90 1048.02 L1911.86 1047.98 L1914.82 1047.94 L1917.78 1047.92 L1920.74 1047.90 L1923.70 1047.89 L1926.66 1047.88 L1929.61 1047.89 L1932.57 1047.90 L1935.53 1047.92 L1938.49 1047.95 L1941.45 1047.98 L1944.41 1048.03 L1947.37 1048.09 L1950.33 1048.15 L1953.28 1048.22 L1956.24 1048.31 L1959.20 1048.40 L1962.16 1048.51 L1965.12 1048.62 L1968.08 1048.75 L1971.04 1048.89 L1974.00 1049.04 L1976.95 1049.20 L1979.91 1049.37 L1982.87 1049.56 L1985.83 1049.76 L1988.79 1049.97 L1991.75 1050.20 L1994.71 1050.44 L1997.67 1050.69 L2000.62 1050.96 L2003.58 1051.25 L2006.54 1051.54 L2009.50 1051.86 L2012.46 1052.19 L2015.42 1052.53 L2018.38 1052.89 L2021.34 1053.27 L2024.29 1053.67 L2027.25 1054.08 L2030.21 1054.51 L2033.17 1054.95 L2036.13 1055.42 L2039.09 1055.90 L2042.05 1056.40 L2045.01 1056.92 L2047.96 1057.46 L2050.92 1058.02 L2053.88 1058.60 L2056.84 1059.20 L2059.80 1059.82" stroke="#4169e1" stroke-linecap="butt" stroke-dasharray="55.09,23.82"/>
<path d="M287.50 650.69 L290.46 655.16 L293.42 659.56 L296.38 663.87 L299.34 668.11 L302.29 672.27 L305.25 676.35 L308.21 680.35 L311.17 684.28 L314.13 688.13 L317.09 691.91 L320.05 695.62 L323.01 699.25 L325.96 702.81 L328.92 706.31 L331.88 709.73 L334.84 713.08 L337.80 716.37 L340.76 719.59 L343.72 722.75 L346.68 725.84 L349.63 728.86 L352.59 731.83 L355.55 734.73 L358.51 737.57 L361.47 740.35 L364.43 743.07 L367.39 745.73 L370.35 748.33 L373.30 750.88 L376.26 753.37 L379.22 755.80 L382.18 758.19 L385.14 760.52 L388.10 762.79 L391.06 765.02 L394.02 767.19 L396.97 769.32 L399.93 771.40 L402.89 773.43 L405.85 775.41 L408.81 777.34 L411.77 779.24 L414.73 781.08 L417.69 782.89 L420.64 784.65 L423.60 786.37 L426.56 788.05 L429.52 789.69 L432.48 791.29 L435.44 792.86 L438.40 794.39 L441.36 795.88 L444.31 797.33 L447.27 798.76 L450.23 800.15 L453.19 801.50 L456.15 802.83 L459.11 804.12 L462.07 805.39 L465.03 806.63 L467.98 807.83 L470.94 809.02 L473.90 810.17 L476.86 811.30 L479.82 812.41 L482.78 813.49 L485.74 814.55 L488.70 815.59 L491.65 816.61 L494.61 817.61 L497.57 818.59 L500.53 819.55 L503.49 820.50 L506.45 821.43 L509.41 822.34 L512.37 823.24 L515.32 824.13 L518.28 825.00 L521.24 825.85 L524.20 826.70 L527.16 827.53 L530.12 828.35 L533.08 829.15 L536.04 829.95 L538.99 830.73 L541.95 831.50 L544.91 832.25 L547.87 833.00 L550.83 833.74 L553.79 834.46 L556.75 835.18 L559.71 835.88 L562.67 836.58 L565.62 837.26 L568.58 837.94 L571.54 838.61 L574.50 839.27 L577.46 839.92 L580.42 840.56 L583.38 841.19 L586.34 841.82 L589.29 842.44 L592.25 843.05 L595.21 843.66 L598.17 844.26 L601.13 844.85 L604.09 845.44 L607.05 846.03 L610.01 846.60 L612.96 847.18 L615.92 847.74 L618.88 848.31 L621.84 848.87 L624.80 849.42 L627.76 849.98 L630.72 850.52 L633.68 851.07 L636.63 851.61 L639.59 852.16 L642.55 852.69 L645.51 853.23 L648.47 853.77 L651.43 854.30 L654.39 854.83 L657.35 855.37 L660.30 855.90 L663.26 856.43 L666.22 856.96 L669.18 857.50 L672.14 858.03 L675.10 858.57 L678.06 859.10 L681.02 859.64 L683.97 860.18 L686.93 860.72 L689.89 861.26 L692.85 861.81 L695.81 862.36 L698.77 862.91 L701.73 863.47 L704.69 864.03 L707.64 864.59 L710.60 865.16 L713.56 865.73 L716.52 866.31 L719.48 866.88 L722.44 867.47 L725.40 868.05 L728.36 868.64 L731.31 869.23 L734.27 869.82 L737.23 870.42 L740.19 871.02 L743.15 871.63 L746.11 872.24 L749.07 872.85 L752.03 873.46 L754.98 874.08 L757.94 874.70 L760.90 875.32 L763.86 875.95 L766.82 876.58 L769.78 877.21 L772.74 877.84 L775.70 878.48 L778.65 879.12 L781.61 879.77 L784.57 880.41 L787.53 881.06 L790.49 881.71 L793.45 882.37 L796.41 883.03 L799.37 883.68 L802.33 884.35 L805.28 885.01 L808.24 885.68 L811.20 886.35 L814.16 887.02 L817.12 887.70 L820.08 888.37 L823.04 889.05 L826.00 889.74 L828.95 890.42 L831.91 891.11 L834.87 891.80 L837.83 892.49 L840.79 893.18 L843.75 893.88 L846.71 894.57 L849.67 895.27 L852.62 895.98 L855.58 896.68 L858.54 897.38 L861.50 898.09 L864.46 898.80 L867.42 899.51 L870.38 900.23 L873.34 900.94 L876.29 901.66 L879.25 902.38 L882.21 903.10 L885.17 903.82 L888.13 904.55 L891.09 905.27 L894.05 906.00 L897.01 906.73 L899.96 907.46 L902.92 908.19 L905.88 908.92 L908.84 909.66 L911.80 910.40 L914.76 911.13 L917.72 911.87 L920.68 912.61 L923.63 913.36 L926.59 914.10 L929.55 914.84 L932.51 915.59 L935.47 916.34 L938.43 917.08 L941.39 917.83 L944.35 918.58 L947.30 919.33 L950.26 920.09 L953.22 920.84 L956.18 921.59 L959.14 922.35 L962.10 923.11 L965.06 923.86 L968.02 924.62 L970.97 925.38 L973.93 926.14 L976.89 926.90 L979.85 927.67 L982.81 928.43 L985.77 929.20 L988.73 929.96 L991.69 930.73 L994.64 931.51 L997.60 932.28 L1000.56 933.05 L1003.52 933.83 L1006.48 934.61 L1009.44 935.39 L1012.40 936.18 L1015.36 936.96 L1018.31 937.75 L1021.27 938.55 L1024.23 939.34 L1027.19 940.14 L1030.15 940.94 L1033.11 941.74 L1036.07 942.55 L1039.03 943.36 L1041.98 944.17 L1044.94 944.98 L1047.90 945.80 L1050.86 946.63 L1053.82 947.45 L1056.78 948.28 L1059.74 949.12 L1062.70 949.95 L1065.66 950.80 L1068.61 951.64 L1071.57 952.49 L1074.53 953.35 L1077.49 954.20 L1080.45 955.07 L1083.41 955.93 L1086.37 956.80 L1089.33 957.68 L1092.28 958.56 L1095.24 959.45 L1098.20 960.34 L1101.16 961.23 L1104.12 962.13 L1107.08 963.04 L1110.04 963.95 L1113.00 964.86 L1115.95 965.79 L1118.91 966.71 L1121.87 967.64 L1124.83 968.58 L1127.79 969.53 L1130.75 970.48 L1133.71 971.43 L1136.67 972.39 L1139.62 973.36 L1142.58 974.34 L1145.54 975.32 L1148.50 976.30 L1151.46 977.30 L1154.42 978.30 L1157.38 979.30 L1160.34 980.31 L1163.29 981.33 L1166.25 982.36 L1169.21 983.39 L1172.17 984.44 L1175.13 985.48 L1178.09 986.54 L1181.05 987.60 L1184.01 988.67 L1186.96 989.75 L1189.92 990.83 L1192.88 991.93 L1195.84 993.02 L1198.80 994.13 L1201.76 995.24 L1204.72 996.36 L1207.68 997.49 L1210.63 998.62 L1213.59 999.76 L1216.55 1000.90 L1219.51 1002.05 L1222.47 1003.21 L1225.43 1004.37 L1228.39 1005.54 L1231.35 1006.71 L1234.30 1007.89 L1237.26 1009.07 L1240.22 1010.26 L1243.18 1011.45 L1246.14 1012.65 L1249.10 1013.85 L1252.06 1015.05 L1255.02 1016.26 L1257.97 1017.47 L1260.93 1018.69 L1263.89 1019.91 L1266.85 1021.13 L1269.81 1022.36 L1272.77 1023.59 L1275.73 1024.82 L1278.69 1026.06 L1281.64 1027.30 L1284.60 1028.54 L1287.56 1029.78 L1290.52 1031.02 L1293.48 1032.27 L1296.44 1033.52 L1299.40 1034.77 L1302.36 1036.02 L1305.32 1037.28 L1308.27 1038.53 L1311.23 1039.79 L1314.19 1041.04 L1317.15 1042.30 L1320.11 1043.56 L1323.07 1044.82 L1326.03 1046.08 L1328.99 1047.34 L1331.94 1048.60 L1334.90 1049.86 L1337.86 1051.12 L1340.82 1052.37 L1343.78 1053.63 L1346.74 1054.89 L1349.70 1056.15 L1352.66 1057.40 L1355.61 1058.66 L1358.57 1059.91 L1361.53 1061.16 L1364.49 1062.41 L1367.45 1063.66 L1370.41 1064.91 L1373.37 1066.16 L1376.33 1067.40 L1379.28 1068.65 L1382.24 1069.89 L1385.20 1071.14 L1388.16 1072.38 L1391.12 1073.63 L1394.08 1074.87 L1397.04 1076.11 L1400.00 1077.35 L1402.95 1078.59 L1405.91 1079.84 L1408.87 1081.08 L1411.83 1082.32 L1414.79 1083.56 L1417.75 1084.80 L1420.71 1086.04 L1423.67 1087.28 L1426.62 1088.52 L1429.58 1089.77 L1432.54 1091.01 L1435.50 1092.25 L1438.46 1093.49 L1441.42 1094.74 L1444.38 1095.98 L1447.34 1097.23 L1450.29 1098.47 L1453.25 1099.72 L1456.21 1100.96 L1459.17 1102.21 L1462.13 1103.46 L1465.09 1104.71 L1468.05 1105.96 L1471.01 1107.21 L1473.96 1108.46 L1476.92 1109.72 L1479.88 1110.97 L1482.84 1112.23 L1485.80 1113.48 L1488.76 1114.74 L1491.72 1116.00 L1494.68 1117.26 L1497.63 1118.52 L1500.59 1119.79 L1503.55 1121.05 L1506.51 1122.31 L1509.47 1123.58 L1512.43 1124.84 L1515.39 1126.11 L1518.35 1127.38 L1521.30 1128.65 L1524.26 1129.92 L1527.22 1131.19 L1530.18 1132.46 L1533.14 1133.73 L1536.10 1135.01 L1539.06 1136.28 L1542.02 1137.56 L1544.97 1138.83 L1547.93 1140.11 L1550.89 1141.39 L1553.85 1142.66 L1556.81 1143.94 L1559.77 1145.22 L1562.73 1146.50 L1565.69 1147.78 L1568.65 1149.07 L1571.60 1150.35 L1574.56 1151.63 L1577.52 1152.92 L1580.48 1154.20 L1583.44 1155.49 L1586.40 1156.77 L1589.36 1158.06 L1592.32 1159.35 L1595.27 1160.63 L1598.23 1161.92 L1601.19 1163.21 L1604.15 1164.50 L1607.11 1165.79 L1610.07 1167.08 L1613.03 1168.37 L1615.99 1169.66 L1618.94 1170.95 L1621.90 1172.24 L1624.86 1173.54 L1627.82 1174.83 L1630.78 1176.12 L1633.74 1177.42 L1636.70 1178.71 L1639.66 1180.01 L1642.61 1181.30 L1645.57 1182.60 L1648.53 1183.89 L1651.49 1185.19 L1654.45 1186.49 L1657.41 1187.78 L1660.37 1189.08 L1663.33 1190.38 L1666.28 1191.67 L1669.24 1192.97 L1672.20 1194.27 L1675.16 1195.57 L1678.12 1196.87 L1681.08 1198.16 L1684.04 1199.46 L1687.00 1200.76 L1689.95 1202.06 L1692.91 1203.36 L1695.87 1204.66 L1698.83 1205.96 L1701.79 1207.26 L1704.75 1208.56 L1707.71 1209.86 L1710.67 1211.16 L1713.62 1212.46 L1716.58 1213.75 L1719.54 1215.05 L1722.50 1216.35 L1725.46 1217.65 L1728.42 1218.95 L1731.38 1220.25 L1734.34 1221.55 L1737.29 1222.85 L1740.25 1224.15 L1743.21 1225.45 L1746.17 1226.75 L1749.13 1228.05 L1752.09 1229.35 L1755.05 1230.65 L1758.01 1231.94 L1760.96 1233.24 L1763.92 1234.54 L1766.88 1235.84 L1769.84 1237.14 L1772.80 1238.43 L1775.76 1239.73 L1778.72 1241.03 L1781.68 1242.33 L1784.63 1243.62 L1787.59 1244.92 L1790.55 1246.22 L1793.51 1247.52 L1796.47 1248.82 L1799.43 1250.11 L1802.39 1251.41 L1805.35 1252.71 L1808.31 1254.01 L1811.26 1255.31 L1814.22 1256.61 L1817.18 1257.92 L1820.14 1259.22 L1823.10 1260.52 L1826.06 1261.83 L1829.02 1263.13 L1831.98 1264.44 L1834.93 1265.74 L1837.89 1267.05 L1840.85 1268.36 L1843.81 1269.67 L1846.77 1270.98 L1849.73 1272.29 L1852.69 1273.61 L1855.65 1274.92 L1858.60 1276.24 L1861.56 1277.55 L1864.52 1278.87 L1867.48 1280.19 L1870.44 1281.52 L1873.40 1282.84 L1876.36 1284.17 L1879.32 1285.49 L1882.27 1286.82 L1885.23 1288.15 L1888.19 1289.48 L1891.15 1290.82 L1894.11 1292.16 L1897.07 1293.49 L1900.03 1294.83 L1902.99 1296.18 L1905.94 1297.52 L1908.90 1298.87 L1911.86 1300.22 L1914.82 1301.57 L1917.78 1302.92 L1920.74 1304.28 L1923.70 1305.64 L1926.66 1307.00 L1929.61 1308.37 L1932.57 1309.73 L1935.53 1311.10 L1938.49 1312.47 L1941.45 1313.85 L1944.41 1315.23 L1947.37 1316.61 L1950.33 1317.99 L1953.28 1319.38 L1956.24 1320.77 L1959.20 1322.16 L1962.16 1323.56 L1965.12 1324.96 L1968.08 1326.36 L1971.04 1327.77 L1974.00 1329.18 L1976.95 1330.60 L1979.91 1332.02 L1982.87 1333.44 L1985.83 1334.86 L1988.79 1336.29 L1991.75 1337.73 L1994.71 1339.17 L1997.67 1340.61 L2000.62 1342.06 L2003.58 1343.51 L2006.54 1344.97 L2009.50 1346.43 L2012.46 1347.89 L2015.42 1349.36 L2018.38 1350.84 L2021.34 1352.32 L2024.29 1353.80 L2027.25 1355.29 L2030.21 1356.79 L2033.17 1358.29 L2036.13 1359.80 L2039.09 1361.31 L2042.05 1362.82 L2045.01 1364.35 L2047.96 1365.87 L2050.92 1367.41 L2053.88 1368.95 L2056.84 1370.49 L2059.80 1372.04" stroke="#ff0000" stroke-linecap="square"/>
<path d="M287.50 173.29 L290.46 179.22 L293.42 185.06 L296.38 190.81 L299.34 196.48 L302.29 202.05 L305.25 207.54 L308.21 212.95 L311.17 218.28 L314.13 223.52 L317.09 228.68 L320.05 233.77 L323.01 238.77 L325.96 243.70 L328.92 248.56 L331.88 253.34 L334.84 258.06 L337.80 262.70 L340.76 267.27 L343.72 271.77 L346.68 276.21 L349.63 280.58 L352.59 284.89 L355.55 289.14 L358.51 293.32 L361.47 297.45 L364.43 301.52 L367.39 305.53 L370.35 309.49 L373.30 313.39 L376.26 317.24 L379.22 321.03 L382.18 324.78 L385.14 328.48 L388.10 332.13 L391.06 335.74 L394.02 339.30 L396.97 342.82 L399.93 346.29 L402.89 349.73 L405.85 353.12 L408.81 356.48 L411.77 359.81 L414.73 363.09 L417.69 366.35 L420.64 369.57 L423.60 372.76 L426.56 375.92 L429.52 379.05 L432.48 382.16 L435.44 385.24 L438.40 388.30 L441.36 391.33 L444.31 394.34 L447.27 397.34 L450.23 400.31 L453.19 403.27 L456.15 406.21 L459.11 409.13 L462.07 412.05 L465.03 414.95 L467.98 417.84 L470.94 420.72 L473.90 423.60 L476.86 426.46 L479.82 429.33 L482.78 432.18 L485.74 435.03 L488.70 437.87 L491.65 440.70 L494.61 443.53 L497.57 446.34 L500.53 449.14 L503.49 451.93 L506.45 454.70 L509.41 457.47 L512.37 460.21 L515.32 462.95 L518.28 465.66 L521.24 468.36 L524.20 471.04 L527.16 473.71 L530.12 476.35 L533.08 478.98 L536.04 481.58 L538.99 484.16 L541.95 486.73 L544.91 489.27 L547.87 491.79 L550.83 494.30 L553.79 496.79 L556.75 499.26 L559.71 501.72 L562.67 504.17 L565.62 506.61 L568.58 509.04 L571.54 511.46 L574.50 513.88 L577.46 516.28 L580.42 518.68 L583.38 521.08 L586.34 523.46 L589.29 525.84 L592.25 528.21 L595.21 530.58 L598.17 532.94 L601.13 535.29 L604.09 537.64 L607.05 539.98 L610.01 542.31 L612.96 544.64 L615.92 546.96 L618.88 549.27 L621.84 551.58 L624.80 553.88 L627.76 556.18 L630.72 558.47 L633.68 560.76 L636.63 563.03 L639.59 565.31 L642.55 567.58 L645.51 569.84 L648.47 572.10 L651.43 574.35 L654.39 576.60 L657.35 578.84 L660.30 581.08 L663.26 583.31 L666.22 585.54 L669.18 587.76 L672.14 589.98 L675.10 592.19 L678.06 594.40 L681.02 596.60 L683.97 598.80 L686.93 600.99 L689.89 603.18 L692.85 605.37 L695.81 607.55 L698.77 609.73 L701.73 611.90 L704.69 614.07 L707.64 616.24 L710.60 618.40 L713.56 620.56 L716.52 622.71 L719.48 624.86 L722.44 627.01 L725.40 629.15 L728.36 631.29 L731.31 633.42 L734.27 635.55 L737.23 637.68 L740.19 639.80 L743.15 641.92 L746.11 644.04 L749.07 646.15 L752.03 648.26 L754.98 650.36 L757.94 652.46 L760.90 654.56 L763.86 656.66 L766.82 658.75 L769.78 660.84 L772.74 662.92 L775.70 665.00 L778.65 667.08 L781.61 669.15 L784.57 671.22 L787.53 673.29 L790.49 675.35 L793.45 677.42 L796.41 679.47 L799.37 681.53 L802.33 683.58 L805.28 685.63 L808.24 687.68 L811.20 689.72 L814.16 691.76 L817.12 693.80 L820.08 695.83 L823.04 697.86 L826.00 699.89 L828.95 701.91 L831.91 703.94 L834.87 705.96 L837.83 707.97 L840.79 709.99 L843.75 712.00 L846.71 714.01 L849.67 716.02 L852.62 718.02 L855.58 720.02 L858.54 722.02 L861.50 724.02 L864.46 726.01 L867.42 728.00 L870.38 729.99 L873.34 731.98 L876.29 733.96 L879.25 735.95 L882.21 737.93 L885.17 739.90 L888.13 741.88 L891.09 743.85 L894.05 745.82 L897.01 747.79 L899.96 749.76 L902.92 751.72 L905.88 753.69 L908.84 755.65 L911.80 757.61 L914.76 759.56 L917.72 761.52 L920.68 763.47 L923.63 765.42 L926.59 767.37 L929.55 769.32 L932.51 771.26 L935.47 773.21 L938.43 775.15 L941.39 777.09 L944.35 779.03 L947.30 780.96 L950.26 782.90 L953.22 784.83 L956.18 786.76 L959.14 788.69 L962.10 790.61 L965.06 792.54 L968.02 794.46 L970.97 796.38 L973.93 798.30 L976.89 800.21 L979.85 802.13 L982.81 804.04 L985.77 805.95 L988.73 807.85 L991.69 809.76 L994.64 811.66 L997.60 813.56 L1000.56 815.46 L1003.52 817.36 L1006.48 819.25 L1009.44 821.14 L1012.40 823.03 L1015.36 824.92 L1018.31 826.80 L1021.27 828.69 L1024.23 830.57 L1027.19 832.45 L1030.15 834.32 L1033.11 836.19 L1036.07 838.07 L1039.03 839.93 L1041.98 841.80 L1044.94 843.66 L1047.90 845.53 L1050.86 847.38 L1053.82 849.24 L1056.78 851.09 L1059.74 852.95 L1062.70 854.80 L1065.66 856.64 L1068.61 858.49 L1071.57 860.33 L1074.53 862.17 L1077.49 864.00 L1080.45 865.84 L1083.41 867.67 L1086.37 869.50 L1089.33 871.32 L1092.28 873.15 L1095.24 874.97 L1098.20 876.78 L1101.16 878.60 L1104.12 880.41 L1107.08 882.22 L1110.04 884.03 L1113.00 885.83 L1115.95 887.64 L1118.91 889.43 L1121.87 891.23 L1124.83 893.02 L1127.79 894.81 L1130.75 896.60 L1133.71 898.39 L1136.67 900.17 L1139.62 901.95 L1142.58 903.73 L1145.54 905.50 L1148.50 907.27 L1151.46 909.04 L1154.42 910.80 L1157.38 912.56 L1160.34 914.32 L1163.29 916.08 L1166.25 917.83 L1169.21 919.58 L1172.17 921.33 L1175.13 923.07 L1178.09 924.81 L1181.05 926.55 L1184.01 928.28 L1186.96 930.02 L1189.92 931.74 L1192.88 933.47 L1195.84 935.19 L1198.80 936.91 L1201.76 938.63 L1204.72 940.34 L1207.68 942.05 L1210.63 943.76 L1213.59 945.46 L1216.55 947.16 L1219.51 948.86 L1222.47 950.55 L1225.43 952.24 L1228.39 953.93 L1231.35 955.61 L1234.30 957.29 L1237.26 958.97 L1240.22 960.64 L1243.18 962.31 L1246.14 963.98 L1249.10 965.64 L1252.06 967.30 L1255.02 968.96 L1257.97 970.61 L1260.93 972.26 L1263.89 973.91 L1266.85 975.55 L1269.81 977.19 L1272.77 978.82 L1275.73 980.46 L1278.69 982.09 L1281.64 983.71 L1284.60 985.33 L1287.56 986.95 L1290.52 988.57 L1293.48 990.18 L1296.44 991.78 L1299.40 993.39 L1302.36 994.99 L1305.32 996.58 L1308.27 998.18 L1311.23 999.77 L1314.19 1001.35 L1317.15 1002.93 L1320.11 1004.51 L1323.07 1006.09 L1326.03 1007.66 L1328.99 1009.22 L1331.94 1010.79 L1334.90 1012.35 L1337.86 1013.90 L1340.82 1015.45 L1343.78 1017.00 L1346.74 1018.55 L1349.70 1020.09 L1352.66 1021.62 L1355.61 1023.15 L1358.57 1024.68 L1361.53 1026.21 L1364.49 1027.73 L1367.45 1029.24 L1370.41 1030.76 L1373.37 1032.27 L1376.33 1033.77 L1379.28 1035.27 L1382.24 1036.77 L1385.20 1038.26 L1388.16 1039.75 L1391.12 1041.23 L1394.08 1042.71 L1397.04 1044.19 L1400.00 1045.66 L1402.95 1047.13 L1405.91 1048.60 L1408.87 1050.06 L1411.83 1051.51 L1414.79 1052.97 L1417.75 1054.42 L1420.71 1055.86 L1423.67 1057.31 L1426.62 1058.75 L1429.58 1060.18 L1432.54 1061.61 L1435.50 1063.04 L1438.46 1064.47 L1441.42 1065.89 L1444.38 1067.31 L1447.34 1068.73 L1450.29 1070.14 L1453.25 1071.55 L1456.21 1072.95 L1459.17 1074.36 L1462.13 1075.76 L1465.09 1077.16 L1468.05 1078.55 L1471.01 1079.94 L1473.96 1081.33 L1476.92 1082.72 L1479.88 1084.10 L1482.84 1085.48 L1485.80 1086.86 L1488.76 1088.24 L1491.72 1089.61 L1494.68 1090.98 L1497.63 1092.35 L1500.59 1093.72 L1503.55 1095.08 L1506.51 1096.44 L1509.47 1097.80 L1512.43 1099.16 L1515.39 1100.51 L1518.35 1101.87 L1521.30 1103.22 L1524.26 1104.57 L1527.22 1105.91 L1530.18 1107.26 L1533.14 1108.60 L1536.10 1109.94 L1539.06 1111.28 L1542.02 1112.62 L1544.97 1113.96 L1547.93 1115.29 L1550.89 1116.63 L1553.85 1117.96 L1556.81 1119.29 L1559.77 1120.62 L1562.73 1121.95 L1565.69 1123.27 L1568.65 1124.60 L1571.60 1125.92 L1574.56 1127.24 L1577.52 1128.57 L1580.48 1129.89 L1583.44 1131.21 L1586.40 1132.52 L1589.36 1133.84 L1592.32 1135.16 L1595.27 1136.48 L1598.23 1137.79 L1601.19 1139.10 L1604.15 1140.42 L1607.11 1141.73 L1610.07 1143.04 L1613.03 1144.36 L1615.99 1145.67 L1618.94 1146.98 L1621.90 1148.29 L1624.86 1149.60 L1627.82 1150.91 L1630.78 1152.21 L1633.74 1153.52 L1636.70 1154.83 L1639.66 1156.13 L1642.61 1157.44 L1645.57 1158.74 L1648.53 1160.04 L1651.49 1161.34 L1654.45 1162.64 L1657.41 1163.94 L1660.37 1165.23 L1663.33 1166.53 L1666.28 1167.82 L1669.24 1169.11 L1672.20 1170.40 L1675.16 1171.69 L1678.12 1172.97 L1681.08 1174.25 L1684.04 1175.53 L1687.00 1176.81 L1689.95 1178.08 L1692.91 1179.36 L1695.87 1180.63 L1698.83 1181.89 L1701.79 1183.16 L1704.75 1184.42 L1707.71 1185.68 L1710.67 1186.93 L1713.62 1188.18 L1716.58 1189.43 L1719.54 1190.68 L1722.50 1191.92 L1725.46 1193.16 L1728.42 1194.39 L1731.38 1195.63 L1734.34 1196.85 L1737.29 1198.08 L1740.25 1199.30 L1743.21 1200.51 L1746.17 1201.72 L1749.13 1202.93 L1752.09 1204.14 L1755.05 1205.33 L1758.01 1206.53 L1760.96 1207.72 L1763.92 1208.90 L1766.88 1210.08 L1769.84 1211.26 L1772.80 1212.43 L1775.76 1213.60 L1778.72 1214.76 L1781.68 1215.92 L1784.63 1217.07 L1787.59 1218.21 L1790.55 1219.35 L1793.51 1220.49 L1796.47 1221.62 L1799.43 1222.74 L1802.39 1223.86 L1805.35 1224.97 L1808.31 1226.08 L1811.26 1227.18 L1814.22 1228.27 L1817.18 1229.36 L1820.14 1230.44 L1823.10 1231.52 L1826.06 1232.59 L1829.02 1233.65 L1831.98 1234.71 L1834.93 1235.76 L1837.89 1236.81 L1840.85 1237.85 L1843.81 1238.89 L1846.77 1239.92 L1849.73 1240.95 L1852.69 1241.98 L1855.65 1243.00 L1858.60 1244.02 L1861.56 1245.04 L1864.52 1246.05 L1867.48 1247.06 L1870.44 1248.07 L1873.40 1249.08 L1876.36 1250.09 L1879.32 1251.09 L1882.27 1252.09 L1885.23 1253.10 L1888.19 1254.10 L1891.15 1255.10 L1894.11 1256.10 L1897.07 1257.10 L1900.03 1258.10 L1902.99 1259.11 L1905.94 1260.11 L1908.90 1261.11 L1911.86 1262.12 L1914.82 1263.13 L1917.78 1264.14 L1920.74 1265.15 L1923.70 1266.17 L1926.66 1267.18 L1929.61 1268.20 L1932.57 1269.23 L1935.53 1270.26 L1938.49 1271.29 L1941.45 1272.32 L1944.41 1273.36 L1947.37 1274.41 L1950.33 1275.46 L1953.28 1276.51 L1956.24 1277.57 L1959.20 1278.64 L1962.16 1279.71 L1965.12 1280.79 L1968.08 1281.87 L1971.04 1282.97 L1974.00 1284.06 L1976.95 1285.17 L1979.91 1286.28 L1982.87 1287.40 L1985.83 1288.53 L1988.79 1289.67 L1991.75 1290.82 L1994.71 1291.97 L1997.67 1293.13 L2000.62 1294.31 L2003.58 1295.49 L2006.54 1296.68 L2009.50 1297.89 L2012.46 1299.10 L2015.42 1300.32 L2018.38 1301.56 L2021.34 1302.81 L2024.29 1304.06 L2027.25 1305.33 L2030.21 1306.61 L2033.17 1307.91 L2036.13 1309.21 L2039.09 1310.53 L2042.05 1311.86 L2045.01 1313.21 L2047.96 1314.57 L2050.92 1315.94 L2053.88 1317.33 L2056.84 1318.73 L2059.80 1320.15" stroke="#228b22" stroke-linecap="butt" stroke-dasharray="95.30,23.82,14.89,23.82"/>
</g>
<rect x="287.50" y="112.50" width="1772.30" height="1320.50" fill="none" stroke="#000" stroke-width="3.97" stroke-linejoin="miter"/>
<path d="M287.50 1433.00 V1450.40 M582.88 1433.00 V1450.40 M878.27 1433.00 V1450.40 M1173.65 1433.00 V1450.40 M1469.03 1433.00 V1450.40 M1764.42 1433.00 V1450.40 M2059.80 1433.00 V1450.40 M287.50 1337.60 H270.10 M287.50 1063.00 H270.10 M287.50 788.40 H270.10 M287.50 513.80 H270.10 M287.50 239.20 H270.10" stroke="#000" stroke-width="3.97" fill="none"/>
<text x="252.70" y="1355.75" font-size="49.63" text-anchor="end">−0.5</text>
<text x="252.70" y="1081.15" font-size="49.63" text-anchor="end">0.0</text>
<text x="252.70" y="806.55" font-size="49.63" text-anchor="end">0.5</text>
<text x="252.70" y="531.95" font-size="49.63" text-anchor="end">1.0</text>
<text x="252.70" y="257.35" font-size="49.63" text-anchor="end">1.5</text>
<text transform="translate(92.10 772.75) rotate(-90)" font-size="89.3" text-anchor="middle">Δ H (eV)</text>
<text x="1076.30" y="74.60" font-size="76.8" font-weight="bold" text-anchor="middle">a)</text>
<rect x="1648.05" y="137.20" width="387.00" height="451.60" rx="9.93" ry="9.93" fill="#fff" fill-opacity="0.8" stroke="#ccc" stroke-opacity="0.8" stroke-width="4.96"/>
<path d="M1668.35 177.25 H1767.65" stroke="#000000" stroke-width="14.89" stroke-linecap="square" fill="none"/>
<text x="1807.20" y="194.80" font-size="49.63">Pnma</text>
<path d="M1668.35 250.03 H1767.65" stroke="#8a2be2" stroke-width="14.89" stroke-dasharray="55.09,23.82" fill="none"/>
<text x="1807.20" y="267.58" font-size="49.63">R-3m</text>
<path d="M1668.35 322.81 H1767.65" stroke="#000080" stroke-width="14.89" stroke-dasharray="95.30,23.82,14.89,23.82" fill="none"/>
<text x="1807.20" y="340.36" font-size="49.63">C2/c</text>
<path d="M1668.35 395.59 H1767.65" stroke="#4169e1" stroke-width="14.89" stroke-dasharray="55.09,23.82" fill="none"/>
<text x="1807.20" y="413.14" font-size="49.63">C2/m</text>
<path d="M1668.35 468.37 H1767.65" stroke="#ff0000" stroke-width="14.89" stroke-linecap="square" fill="none"/>
<text x="1807.20" y="485.92" font-size="49.63">Im-3m</text>
<path d="M1668.35 541.15 H1767.65" stroke="#228b22" stroke-width="14.89" stroke-dasharray="95.30,23.82,14.89,23.82" fill="none"/>
<text x="1807.20" y="558.70" font-size="49.63">I4/mmm</text>
<g clip-path="url(#clipb)" fill="none" stroke-width="14.89" stroke-linejoin="round">
<path d="M283.70 2408.60 L2056.30 2408.60" stroke="#000000" stroke-linecap="square"/>
<path d="M283.70 2346.03 L286.66 2343.54 L289.62 2341.10 L292.58 2338.71 L295.54 2336.36 L298.50 2334.06 L301.46 2331.81 L304.41 2329.61 L307.37 2327.45 L310.33 2325.33 L313.29 2323.25 L316.25 2321.21 L319.21 2319.22 L322.17 2317.26 L325.13 2315.34 L328.09 2313.45 L331.05 2311.60 L334.01 2309.79 L336.97 2308.01 L339.93 2306.26 L342.89 2304.54 L345.84 2302.85 L348.80 2301.19 L351.76 2299.56 L354.72 2297.96 L357.68 2296.38 L360.64 2294.83 L363.60 2293.30 L366.56 2291.79 L369.52 2290.31 L372.48 2288.85 L375.44 2287.40 L378.40 2285.98 L381.36 2284.57 L384.32 2283.18 L387.27 2281.80 L390.23 2280.44 L393.19 2279.09 L396.15 2277.76 L399.11 2276.43 L402.07 2275.12 L405.03 2273.81 L407.99 2272.52 L410.95 2271.23 L413.91 2269.94 L416.87 2268.66 L419.83 2267.39 L422.79 2266.12 L425.74 2264.85 L428.70 2263.58 L431.66 2262.31 L434.62 2261.04 L437.58 2259.76 L440.54 2258.48 L443.50 2257.20 L446.46 2255.92 L449.42 2254.62 L452.38 2253.32 L455.34 2252.02 L458.30 2250.71 L461.26 2249.39 L464.22 2248.07 L467.17 2246.75 L470.13 2245.42 L473.09 2244.08 L476.05 2242.75 L479.01 2241.40 L481.97 2240.06 L484.93 2238.71 L487.89 2237.36 L490.85 2236.00 L493.81 2234.64 L496.77 2233.28 L499.73 2231.92 L502.69 2230.56 L505.64 2229.19 L508.60 2227.82 L511.56 2226.45 L514.52 2225.08 L517.48 2223.71 L520.44 2222.34 L523.40 2220.97 L526.36 2219.60 L529.32 2218.23 L532.28 2216.85 L535.24 2215.48 L538.20 2214.11 L541.16 2212.74 L544.12 2211.38 L547.07 2210.01 L550.03 2208.64 L552.99 2207.28 L555.95 2205.92 L558.91 2204.56 L561.87 2203.20 L564.83 2201.85 L567.79 2200.50 L570.75 2199.15 L573.71 2197.81 L576.67 2196.47 L579.63 2195.13 L582.59 2193.80 L585.55 2192.48 L588.50 2191.15 L591.46 2189.83 L594.42 2188.52 L597.38 2187.21 L600.34 2185.91 L603.30 2184.60 L606.26 2183.31 L609.22 2182.01 L612.18 2180.72 L615.14 2179.44 L618.10 2178.15 L621.06 2176.87 L624.02 2175.60 L626.97 2174.32 L629.93 2173.05 L632.89 2171.78 L635.85 2170.51 L638.81 2169.25 L641.77 2167.98 L644.73 2166.72 L647.69 2165.46 L650.65 2164.21 L653.61 2162.95 L656.57 2161.70 L659.53 2160.44 L662.49 2159.19 L665.45 2157.94 L668.40 2156.69 L671.36 2155.44 L674.32 2154.19 L677.28 2152.94 L680.24 2151.70 L683.20 2150.45 L686.16 2149.21 L689.12 2147.97 L692.08 2146.72 L695.04 2145.48 L698.00 2144.24 L700.96 2143.01 L703.92 2141.77 L706.87 2140.54 L709.83 2139.30 L712.79 2138.07 L715.75 2136.84 L718.71 2135.61 L721.67 2134.38 L724.63 2133.15 L727.59 2131.93 L730.55 2130.71 L733.51 2129.48 L736.47 2128.26 L739.43 2127.05 L742.39 2125.83 L745.35 2124.61 L748.30 2123.40 L751.26 2122.19 L754.22 2120.98 L757.18 2119.77 L760.14 2118.57 L763.10 2117.36 L766.06 2116.16 L769.02 2114.96 L771.98 2113.77 L774.94 2112.57 L777.90 2111.38 L780.86 2110.19 L783.82 2109.00 L786.78 2107.81 L789.73 2106.63 L792.69 2105.45 L795.65 2104.27 L798.61 2103.09 L801.57 2101.91 L804.53 2100.74 L807.49 2099.57 L810.45 2098.40 L813.41 2097.24 L816.37 2096.07 L819.33 2094.91 L822.29 2093.76 L825.25 2092.60 L828.20 2091.45 L831.16 2090.30 L834.12 2089.15 L837.08 2088.01 L840.04 2086.87 L843.00 2085.73 L845.96 2084.59 L848.92 2083.46 L851.88 2082.33 L854.84 2081.20 L857.80 2080.08 L860.76 2078.96 L863.72 2077.84 L866.68 2076.73 L869.63 2075.61 L872.59 2074.51 L875.55 2073.40 L878.51 2072.30 L881.47 2071.20 L884.43 2070.10 L887.39 2069.01 L890.35 2067.92 L893.31 2066.84 L896.27 2065.75 L899.23 2064.67 L902.19 2063.60 L905.15 2062.53 L908.11 2061.46 L911.06 2060.39 L914.02 2059.33 L916.98 2058.27 L919.94 2057.22 L922.90 2056.17 L925.86 2055.12 L928.82 2054.08 L931.78 2053.04 L934.74 2052.01 L937.70 2050.97 L940.66 2049.95 L943.62 2048.92 L946.58 2047.90 L949.53 2046.89 L952.49 2045.87 L955.45 2044.87 L958.41 2043.86 L961.37 2042.86 L964.33 2041.87 L967.29 2040.88 L970.25 2039.89 L973.21 2038.91 L976.17 2037.93 L979.13 2036.95 L982.09 2035.98 L985.05 2035.02 L988.01 2034.06 L990.96 2033.10 L993.92 2032.15 L996.88 2031.20 L999.84 2030.25 L1002.80 2029.31 L1005.76 2028.38 L1008.72 2027.45 L1011.68 2026.53 L1014.64 2025.60 L1017.60 2024.69 L1020.56 2023.78 L1023.52 2022.87 L1026.48 2021.97 L1029.43 2021.07 L1032.39 2020.18 L1035.35 2019.29 L1038.31 2018.41 L1041.27 2017.53 L1044.23 2016.66 L1047.19 2015.79 L1050.15 2014.93 L1053.11 2014.07 L1056.07 2013.22 L1059.03 2012.38 L1061.99 2011.53 L1064.95 2010.70 L1067.91 2009.87 L1070.86 2009.04 L1073.82 2008.22 L1076.78 2007.40 L1079.74 2006.59 L1082.70 2005.79 L1085.66 2004.99 L1088.62 2004.20 L1091.58 2003.41 L1094.54 2002.62 L1097.50 2001.85 L1100.46 2001.07 L1103.42 2000.31 L1106.38 1999.55 L1109.34 1998.79 L1112.29 1998.04 L1115.25 1997.29 L1118.21 1996.55 L1121.17 1995.82 L1124.13 1995.09 L1127.09 1994.36 L1130.05 1993.65 L1133.01 1992.93 L1135.97 1992.22 L1138.93 1991.52 L1141.89 1990.83 L1144.85 1990.13 L1147.81 1989.45 L1150.76 1988.77 L1153.72 1988.09 L1156.68 1987.42 L1159.64 1986.76 L1162.60 1986.10 L1165.56 1985.44 L1168.52 1984.80 L1171.48 1984.15 L1174.44 1983.52 L1177.40 1982.88 L1180.36 1982.26 L1183.32 1981.64 L1186.28 1981.02 L1189.24 1980.41 L1192.19 1979.81 L1195.15 1979.21 L1198.11 1978.61 L1201.07 1978.02 L1204.03 1977.44 L1206.99 1976.86 L1209.95 1976.29 L1212.91 1975.73 L1215.87 1975.16 L1218.83 1974.61 L1221.79 1974.06 L1224.75 1973.51 L1227.71 1972.97 L1230.66 1972.44 L1233.62 1971.91 L1236.58 1971.39 L1239.54 1970.87 L1242.50 1970.36 L1245.46 1969.85 L1248.42 1969.35 L1251.38 1968.86 L1254.34 1968.37 L1257.30 1967.88 L1260.26 1967.41 L1263.22 1966.93 L1266.18 1966.46 L1269.14 1966.00 L1272.09 1965.55 L1275.05 1965.09 L1278.01 1964.65 L1280.97 1964.21 L1283.93 1963.77 L1286.89 1963.34 L1289.85 1962.92 L1292.81 1962.50 L1295.77 1962.09 L1298.73 1961.68 L1301.69 1961.28 L1304.65 1960.89 L1307.61 1960.50 L1310.57 1960.11 L1313.52 1959.73 L1316.48 1959.36 L1319.44 1958.99 L1322.40 1958.63 L1325.36 1958.27 L1328.32 1957.92 L1331.28 1957.57 L1334.24 1957.23 L1337.20 1956.90 L1340.16 1956.57 L1343.12 1956.25 L1346.08 1955.93 L1349.04 1955.61 L1351.99 1955.31 L1354.95 1955.01 L1357.91 1954.71 L1360.87 1954.42 L1363.83 1954.14 L1366.79 1953.86 L1369.75 1953.58 L1372.71 1953.32 L1375.67 1953.05 L1378.63 1952.80 L1381.59 1952.55 L1384.55 1952.30 L1387.51 1952.06 L1390.47 1951.83 L1393.42 1951.60 L1396.38 1951.38 L1399.34 1951.16 L1402.30 1950.95 L1405.26 1950.74 L1408.22 1950.54 L1411.18 1950.35 L1414.14 1950.16 L1417.10 1949.97 L1420.06 1949.80 L1423.02 1949.62 L1425.98 1949.46 L1428.94 1949.30 L1431.89 1949.14 L1434.85 1948.99 L1437.81 1948.85 L1440.77 1948.71 L1443.73 1948.58 L1446.69 1948.45 L1449.65 1948.33 L1452.61 1948.21 L1455.57 1948.10 L1458.53 1948.00 L1461.49 1947.90 L1464.45 1947.81 L1467.41 1947.72 L1470.37 1947.64 L1473.32 1947.56 L1476.28 1947.49 L1479.24 1947.43 L1482.20 1947.37 L1485.16 1947.32 L1488.12 1947.27 L1491.08 1947.23 L1494.04 1947.19 L1497.00 1947.16 L1499.96 1947.14 L1502.92 1947.12 L1505.88 1947.10 L1508.84 1947.10 L1511.80 1947.09 L1514.75 1947.10 L1517.71 1947.11 L1520.67 1947.13 L1523.63 1947.15 L1526.59 1947.18 L1529.55 1947.21 L1532.51 1947.25 L1535.47 1947.30 L1538.43 1947.35 L1541.39 1947.41 L1544.35 1947.47 L1547.31 1947.54 L1550.27 1947.62 L1553.22 1947.70 L1556.18 1947.79 L1559.14 1947.89 L1562.10 1947.99 L1565.06 1948.10 L1568.02 1948.21 L1570.98 1948.33 L1573.94 1948.46 L1576.90 1948.60 L1579.86 1948.74 L1582.82 1948.89 L1585.78 1949.04 L1588.74 1949.20 L1591.70 1949.37 L1594.65 1949.54 L1597.61 1949.72 L1600.57 1949.91 L1603.53 1950.11 L1606.49 1950.31 L1609.45 1950.52 L1612.41 1950.73 L1615.37 1950.95 L1618.33 1951.18 L1621.29 1951.42 L1624.25 1951.66 L1627.21 1951.91 L1630.17 1952.17 L1633.13 1952.43 L1636.08 1952.70 L1639.04 1952.98 L1642.00 1953.27 L1644.96 1953.56 L1647.92 1953.86 L1650.88 1954.17 L1653.84 1954.48 L1656.80 1954.80 L1659.76 1955.13 L1662.72 1955.47 L1665.68 1955.82 L1668.64 1956.17 L1671.60 1956.53 L1674.55 1956.89 L1677.51 1957.27 L1680.47 1957.65 L1683.43 1958.04 L1686.39 1958.44 L1689.35 1958.84 L1692.31 1959.26 L1695.27 1959.68 L1698.23 1960.11 L1701.19 1960.54 L1704.15 1960.99 L1707.11 1961.44 L1710.07 1961.90 L1713.03 1962.37 L1715.98 1962.84 L1718.94 1963.33 L1721.90 1963.82 L1724.86 1964.32 L1727.82 1964.83 L1730.78 1965.34 L1733.74 1965.87 L1736.70 1966.40 L1739.66 1966.94 L1742.62 1967.49 L1745.58 1968.05 L1748.54 1968.62 L1751.50 1969.19 L1754.45 1969.77 L1757.41 1970.36 L1760.37 1970.96 L1763.33 1971.57 L1766.29 1972.19 L1769.25 1972.81 L1772.21 1973.45 L1775.17 1974.09 L1778.13 1974.74 L1781.09 1975.40 L1784.05 1976.07 L1787.01 1976.75 L1789.97 1977.43 L1792.93 1978.13 L1795.88 1978.83 L1798.84 1979.54 L1801.80 1980.26 L1804.76 1980.99 L1807.72 1981.73 L1810.68 1982.48 L1813.64 1983.24 L1816.60 1984.01 L1819.56 1984.78 L1822.52 1985.57 L1825.48 1986.36 L1828.44 1987.16 L1831.40 1987.98 L1834.36 1988.80 L1837.31 1989.63 L1840.27 1990.47 L1843.23 1991.31 L1846.19 1992.17 L1849.15 1993.03 L1852.11 1993.90 L1855.07 1994.77 L1858.03 1995.65 L1860.99 1996.54 L1863.95 1997.43 L1866.91 1998.32 L1869.87 1999.22 L1872.83 2000.12 L1875.78 2001.02 L1878.74 2001.93 L1881.70 2002.84 L1884.66 2003.74 L1887.62 2004.65 L1890.58 2005.56 L1893.54 2006.47 L1896.50 2007.38 L1899.46 2008.28 L1902.42 2009.19 L1905.38 2010.09 L1908.34 2010.99 L1911.30 2011.89 L1914.26 2012.78 L1917.21 2013.66 L1920.17 2014.55 L1923.13 2015.43 L1926.09 2016.30 L1929.05 2017.16 L1932.01 2018.02 L1934.97 2018.87 L1937.93 2019.71 L1940.89 2020.55 L1943.85 2021.38 L1946.81 2022.19 L1949.77 2023.00 L1952.73 2023.80 L1955.68 2024.58 L1958.64 2025.36 L1961.60 2026.12 L1964.56 2026.87 L1967.52 2027.61 L1970.48 2028.33 L1973.44 2029.04 L1976.40 2029.74 L1979.36 2030.42 L1982.32 2031.08 L1985.28 2031.73 L1988.24 2032.37 L1991.20 2032.99 L1994.16 2033.59 L1997.11 2034.17 L2000.07 2034.73 L2003.03 2035.28 L2005.99 2035.80 L2008.95 2036.31 L2011.91 2036.79 L2014.87 2037.26 L2017.83 2037.70 L2020.79 2038.12 L2023.75 2038.52 L2026.71 2038.90 L2029.67 2039.25 L2032.63 2039.58 L2035.59 2039.89 L2038.54 2040.17 L2041.50 2040.42 L2044.46 2040.65 L2047.42 2040.86 L2050.38 2041.03 L2053.34 2041.18 L2056.30 2041.31" stroke="#8a2be2" stroke-linecap="butt" stroke-dasharray="55.09,23.82"/>
<path d="M283.70 2171.97 L286.66 2170.30 L289.62 2168.70 L292.58 2167.18 L295.54 2165.73 L298.50 2164.35 L301.46 2163.04 L304.41 2161.80 L307.37 2160.62 L310.33 2159.51 L313.29 2158.46 L316.25 2157.47 L319.21 2156.54 L322.17 2155.67 L325.13 2154.86 L328.09 2154.11 L331.05 2153.41 L334.01 2152.76 L336.97 2152.17 L339.93 2151.62 L342.89 2151.13 L345.84 2150.68 L348.80 2150.28 L351.76 2149.93 L354.72 2149.62 L357.68 2149.35 L360.64 2149.12 L363.60 2148.93 L366.56 2148.79 L369.52 2148.67 L372.48 2148.60 L375.44 2148.56 L378.40 2148.55 L381.36 2148.58 L384.32 2148.64 L387.27 2148.72 L390.23 2148.84 L393.19 2148.99 L396.15 2149.16 L399.11 2149.36 L402.07 2149.58 L405.03 2149.82 L407.99 2150.09 L410.95 2150.38 L413.91 2150.69 L416.87 2151.02 L419.83 2151.36 L422.79 2151.72 L425.74 2152.10 L428.70 2152.49 L431.66 2152.89 L434.62 2153.31 L437.58 2153.74 L440.54 2154.17 L443.50 2154.62 L446.46 2155.08 L449.42 2155.55 L452.38 2156.03 L455.34 2156.51 L458.30 2157.01 L461.26 2157.52 L464.22 2158.03 L467.17 2158.56 L470.13 2159.09 L473.09 2159.63 L476.05 2160.18 L479.01 2160.74 L481.97 2161.31 L484.93 2161.88 L487.89 2162.46 L490.85 2163.05 L493.81 2163.64 L496.77 2164.25 L499.73 2164.85 L502.69 2165.47 L505.64 2166.09 L508.60 2166.72 L511.56 2167.35 L514.52 2167.98 L517.48 2168.63 L520.44 2169.27 L523.40 2169.93 L526.36 2170.58 L529.32 2171.25 L532.28 2171.91 L535.24 2172.58 L538.20 2173.25 L541.16 2173.93 L544.12 2174.61 L547.07 2175.29 L550.03 2175.98 L552.99 2176.67 L555.95 2177.36 L558.91 2178.05 L561.87 2178.75 L564.83 2179.44 L567.79 2180.14 L570.75 2180.84 L573.71 2181.54 L576.67 2182.25 L579.63 2182.95 L582.59 2183.65 L585.55 2184.36 L588.50 2185.06 L591.46 2185.76 L594.42 2186.47 L597.38 2187.17 L600.34 2187.87 L603.30 2188.57 L606.26 2189.27 L609.22 2189.97 L612.18 2190.67 L615.14 2191.36 L618.10 2192.05 L621.06 2192.74 L624.02 2193.43 L626.97 2194.12 L629.93 2194.80 L632.89 2195.49 L635.85 2196.17 L638.81 2196.84 L641.77 2197.52 L644.73 2198.20 L647.69 2198.87 L650.65 2199.54 L653.61 2200.21 L656.57 2200.88 L659.53 2201.55 L662.49 2202.22 L665.45 2202.88 L668.40 2203.54 L671.36 2204.21 L674.32 2204.87 L677.28 2205.53 L680.24 2206.19 L683.20 2206.85 L686.16 2207.51 L689.12 2208.16 L692.08 2208.82 L695.04 2209.47 L698.00 2210.13 L700.96 2210.78 L703.92 2211.44 L706.87 2212.09 L709.83 2212.74 L712.79 2213.40 L715.75 2214.05 L718.71 2214.70 L721.67 2215.35 L724.63 2216.00 L727.59 2216.66 L730.55 2217.31 L733.51 2217.96 L736.47 2218.61 L739.43 2219.26 L742.39 2219.92 L745.35 2220.57 L748.30 2221.22 L751.26 2221.88 L754.22 2222.53 L757.18 2223.18 L760.14 2223.84 L763.10 2224.50 L766.06 2225.15 L769.02 2225.81 L771.98 2226.47 L774.94 2227.13 L777.90 2227.79 L780.86 2228.45 L783.82 2229.11 L786.78 2229.78 L789.73 2230.44 L792.69 2231.11 L795.65 2231.77 L798.61 2232.44 L801.57 2233.11 L804.53 2233.79 L807.49 2234.46 L810.45 2235.13 L813.41 2235.81 L816.37 2236.49 L819.33 2237.17 L822.29 2237.85 L825.25 2238.54 L828.20 2239.22 L831.16 2239.91 L834.12 2240.60 L837.08 2241.29 L840.04 2241.99 L843.00 2242.68 L845.96 2243.38 L848.92 2244.08 L851.88 2244.79 L854.84 2245.50 L857.80 2246.20 L860.76 2246.92 L863.72 2247.63 L866.68 2248.35 L869.63 2249.07 L872.59 2249.79 L875.55 2250.52 L878.51 2251.25 L881.47 2251.98 L884.43 2252.71 L887.39 2253.45 L890.35 2254.19 L893.31 2254.93 L896.27 2255.67 L899.23 2256.42 L902.19 2257.17 L905.15 2257.92 L908.11 2258.68 L911.06 2259.43 L914.02 2260.19 L916.98 2260.95 L919.94 2261.71 L922.90 2262.47 L925.86 2263.24 L928.82 2264.01 L931.78 2264.78 L934.74 2265.55 L937.70 2266.32 L940.66 2267.09 L943.62 2267.87 L946.58 2268.65 L949.53 2269.42 L952.49 2270.20 L955.45 2270.98 L958.41 2271.77 L961.37 2272.55 L964.33 2273.33 L967.29 2274.12 L970.25 2274.90 L973.21 2275.69 L976.17 2276.48 L979.13 2277.27 L982.09 2278.05 L985.05 2278.84 L988.01 2279.63 L990.96 2280.42 L993.92 2281.22 L996.88 2282.01 L999.84 2282.80 L1002.80 2283.59 L1005.76 2284.38 L1008.72 2285.17 L1011.68 2285.97 L1014.64 2286.76 L1017.60 2287.55 L1020.56 2288.34 L1023.52 2289.13 L1026.48 2289.92 L1029.43 2290.72 L1032.39 2291.51 L1035.35 2292.30 L1038.31 2293.09 L1041.27 2293.87 L1044.23 2294.66 L1047.19 2295.45 L1050.15 2296.24 L1053.11 2297.02 L1056.07 2297.81 L1059.03 2298.59 L1061.99 2299.38 L1064.95 2300.16 L1067.91 2300.94 L1070.86 2301.72 L1073.82 2302.50 L1076.78 2303.27 L1079.74 2304.05 L1082.70 2304.82 L1085.66 2305.60 L1088.62 2306.37 L1091.58 2307.14 L1094.54 2307.91 L1097.50 2308.67 L1100.46 2309.44 L1103.42 2310.20 L1106.38 2310.96 L1109.34 2311.72 L1112.29 2312.47 L1115.25 2313.23 L1118.21 2313.98 L1121.17 2314.73 L1124.13 2315.48 L1127.09 2316.23 L1130.05 2316.98 L1133.01 2317.72 L1135.97 2318.47 L1138.93 2319.21 L1141.89 2319.95 L1144.85 2320.69 L1147.81 2321.43 L1150.76 2322.16 L1153.72 2322.90 L1156.68 2323.63 L1159.64 2324.37 L1162.60 2325.10 L1165.56 2325.83 L1168.52 2326.56 L1171.48 2327.28 L1174.44 2328.01 L1177.40 2328.74 L1180.36 2329.46 L1183.32 2330.19 L1186.28 2330.91 L1189.24 2331.63 L1192.19 2332.35 L1195.15 2333.07 L1198.11 2333.80 L1201.07 2334.51 L1204.03 2335.23 L1206.99 2335.95 L1209.95 2336.67 L1212.91 2337.39 L1215.87 2338.10 L1218.83 2338.82 L1221.79 2339.53 L1224.75 2340.25 L1227.71 2340.96 L1230.66 2341.68 L1233.62 2342.39 L1236.58 2343.11 L1239.54 2343.82 L1242.50 2344.53 L1245.46 2345.25 L1248.42 2345.96 L1251.38 2346.67 L1254.34 2347.38 L1257.30 2348.10 L1260.26 2348.81 L1263.22 2349.52 L1266.18 2350.24 L1269.14 2350.95 L1272.09 2351.66 L1275.05 2352.38 L1278.01 2353.09 L1280.97 2353.81 L1283.93 2354.52 L1286.89 2355.24 L1289.85 2355.95 L1292.81 2356.67 L1295.77 2357.39 L1298.73 2358.10 L1301.69 2358.82 L1304.65 2359.54 L1307.61 2360.26 L1310.57 2360.98 L1313.52 2361.70 L1316.48 2362.42 L1319.44 2363.14 L1322.40 2363.86 L1325.36 2364.59 L1328.32 2365.31 L1331.28 2366.04 L1334.24 2366.76 L1337.20 2367.49 L1340.16 2368.22 L1343.12 2368.95 L1346.08 2369.68 L1349.04 2370.41 L1351.99 2371.14 L1354.95 2371.88 L1357.91 2372.61 L1360.87 2373.35 L1363.83 2374.09 L1366.79 2374.83 L1369.75 2375.57 L1372.71 2376.31 L1375.67 2377.06 L1378.63 2377.80 L1381.59 2378.55 L1384.55 2379.30 L1387.51 2380.05 L1390.47 2380.80 L1393.42 2381.55 L1396.38 2382.31 L1399.34 2383.07 L1402.30 2383.83 L1405.26 2384.59 L1408.22 2385.35 L1411.18 2386.12 L1414.14 2386.88 L1417.10 2387.65 L1420.06 2388.42 L1423.02 2389.20 L1425.98 2389.97 L1428.94 2390.75 L1431.89 2391.53 L1434.85 2392.31 L1437.81 2393.10 L1440.77 2393.88 L1443.73 2394.67 L1446.69 2395.46 L1449.65 2396.26 L1452.61 2397.05 L1455.57 2397.85 L1458.53 2398.65 L1461.49 2399.46 L1464.45 2400.26 L1467.41 2401.07 L1470.37 2401.88 L1473.32 2402.70 L1476.28 2403.52 L1479.24 2404.34 L1482.20 2405.16 L1485.16 2405.99 L1488.12 2406.82 L1491.08 2407.65 L1494.04 2408.48 L1497.00 2409.32 L1499.96 2410.16 L1502.92 2411.01 L1505.88 2411.85 L1508.84 2412.70 L1511.80 2413.56 L1514.75 2414.41 L1517.71 2415.27 L1520.67 2416.14 L1523.63 2417.01 L1526.59 2417.88 L1529.55 2418.75 L1532.51 2419.63 L1535.47 2420.51 L1538.43 2421.39 L1541.39 2422.28 L1544.35 2423.17 L1547.31 2424.07 L1550.27 2424.97 L1553.22 2425.87 L1556.18 2426.78 L1559.14 2427.69 L1562.10 2428.60 L1565.06 2429.52 L1568.02 2430.44 L1570.98 2431.37 L1573.94 2432.30 L1576.90 2433.23 L1579.86 2434.17 L1582.82 2435.11 L1585.78 2436.06 L1588.74 2437.01 L1591.70 2437.96 L1594.65 2438.91 L1597.61 2439.87 L1600.57 2440.83 L1603.53 2441.79 L1606.49 2442.76 L1609.45 2443.73 L1612.41 2444.70 L1615.37 2445.68 L1618.33 2446.65 L1621.29 2447.63 L1624.25 2448.61 L1627.21 2449.59 L1630.17 2450.58 L1633.13 2451.56 L1636.08 2452.55 L1639.04 2453.54 L1642.00 2454.53 L1644.96 2455.52 L1647.92 2456.51 L1650.88 2457.50 L1653.84 2458.50 L1656.80 2459.49 L1659.76 2460.49 L1662.72 2461.48 L1665.68 2462.48 L1668.64 2463.47 L1671.60 2464.47 L1674.55 2465.47 L1677.51 2466.46 L1680.47 2467.46 L1683.43 2468.45 L1686.39 2469.45 L1689.35 2470.44 L1692.31 2471.43 L1695.27 2472.43 L1698.23 2473.42 L1701.19 2474.41 L1704.15 2475.40 L1707.11 2476.39 L1710.07 2477.37 L1713.03 2478.36 L1715.98 2479.34 L1718.94 2480.32 L1721.90 2481.30 L1724.86 2482.28 L1727.82 2483.26 L1730.78 2484.23 L1733.74 2485.20 L1736.70 2486.17 L1739.66 2487.14 L1742.62 2488.10 L1745.58 2489.06 L1748.54 2490.02 L1751.50 2490.97 L1754.45 2491.92 L1757.41 2492.87 L1760.37 2493.81 L1763.33 2494.75 L1766.29 2495.69 L1769.25 2496.62 L1772.21 2497.55 L1775.17 2498.48 L1778.13 2499.40 L1781.09 2500.31 L1784.05 2501.23 L1787.01 2502.13 L1789.97 2503.04 L1792.93 2503.94 L1795.88 2504.83 L1798.84 2505.72 L1801.80 2506.60 L1804.76 2507.48 L1807.72 2508.35 L1810.68 2509.22 L1813.64 2510.08 L1816.60 2510.94 L1819.56 2511.79 L1822.52 2512.63 L1825.48 2513.47 L1828.44 2514.30 L1831.40 2515.13 L1834.36 2515.95 L1837.31 2516.76 L1840.27 2517.57 L1843.23 2518.37 L1846.19 2519.16 L1849.15 2519.95 L1852.11 2520.72 L1855.07 2521.50 L1858.03 2522.26 L1860.99 2523.02 L1863.95 2523.76 L1866.91 2524.51 L1869.87 2525.24 L1872.83 2525.96 L1875.78 2526.68 L1878.74 2527.39 L1881.70 2528.09 L1884.66 2528.78 L1887.62 2529.47 L1890.58 2530.14 L1893.54 2530.81 L1896.50 2531.47 L1899.46 2532.13 L1902.42 2532.77 L1905.38 2533.42 L1908.34 2534.05 L1911.30 2534.69 L1914.26 2535.32 L1917.21 2535.94 L1920.17 2536.56 L1923.13 2537.18 L1926.09 2537.80 L1929.05 2538.42 L1932.01 2539.03 L1934.97 2539.65 L1937.93 2540.27 L1940.89 2540.88 L1943.85 2541.50 L1946.81 2542.12 L1949.77 2542.74 L1952.73 2543.37 L1955.68 2544.00 L1958.64 2544.63 L1961.60 2545.26 L1964.56 2545.91 L1967.52 2546.55 L1970.48 2547.20 L1973.44 2547.86 L1976.40 2548.53 L1979.36 2549.20 L1982.32 2549.89 L1985.28 2550.58 L1988.24 2551.28 L1991.20 2551.99 L1994.16 2552.71 L1997.11 2553.44 L2000.07 2554.18 L2003.03 2554.93 L2005.99 2555.70 L2008.95 2556.48 L2011.91 2557.27 L2014.87 2558.07 L2017.83 2558.89 L2020.79 2559.73 L2023.75 2560.58 L2026.71 2561.45 L2029.67 2562.33 L2032.63 2563.23 L2035.59 2564.15 L2038.54 2565.08 L2041.50 2566.04 L2044.46 2567.01 L2047.42 2568.00 L2050.38 2569.02 L2053.34 2570.05 L2056.30 2571.10" stroke="#000080" stroke-linecap="butt" stroke-dasharray="95.30,23.82,14.89,23.82"/>
<path d="M283.70 2186.75 L286.66 2186.26 L289.62 2185.79 L292.58 2185.35 L295.54 2184.93 L298.50 2184.54 L301.46 2184.17 L304.41 2183.82 L307.37 2183.50 L310.33 2183.20 L313.29 2182.92 L316.25 2182.66 L319.21 2182.42 L322.17 2182.21 L325.13 2182.01 L328.09 2181.84 L331.05 2181.68 L334.01 2181.55 L336.97 2181.43 L339.93 2181.33 L342.89 2181.25 L345.84 2181.19 L348.80 2181.14 L351.76 2181.12 L354.72 2181.11 L357.68 2181.11 L360.64 2181.14 L363.60 2181.18 L366.56 2181.23 L369.52 2181.30 L372.48 2181.38 L375.44 2181.48 L378.40 2181.59 L381.36 2181.71 L384.32 2181.85 L387.27 2182.00 L390.23 2182.17 L393.19 2182.34 L396.15 2182.53 L399.11 2182.73 L402.07 2182.94 L405.03 2183.16 L407.99 2183.39 L410.95 2183.63 L413.91 2183.88 L416.87 2184.14 L419.83 2184.41 L422.79 2184.68 L425.74 2184.97 L428.70 2185.26 L431.66 2185.56 L434.62 2185.86 L437.58 2186.18 L440.54 2186.49 L443.50 2186.82 L446.46 2187.15 L449.42 2187.48 L452.38 2187.82 L455.34 2188.17 L458.30 2188.52 L461.26 2188.87 L464.22 2189.22 L467.17 2189.58 L470.13 2189.94 L473.09 2190.30 L476.05 2190.67 L479.01 2191.03 L481.97 2191.40 L484.93 2191.77 L487.89 2192.14 L490.85 2192.50 L493.81 2192.87 L496.77 2193.24 L499.73 2193.61 L502.69 2193.98 L505.64 2194.35 L508.60 2194.72 L511.56 2195.09 L514.52 2195.46 L517.48 2195.83 L520.44 2196.20 L523.40 2196.57 L526.36 2196.94 L529.32 2197.31 L532.28 2197.68 L535.24 2198.05 L538.20 2198.42 L541.16 2198.80 L544.12 2199.17 L547.07 2199.54 L550.03 2199.92 L552.99 2200.29 L555.95 2200.66 L558.91 2201.04 L561.87 2201.41 L564.83 2201.79 L567.79 2202.16 L570.75 2202.54 L573.71 2202.92 L576.67 2203.29 L579.63 2203.67 L582.59 2204.05 L585.55 2204.43 L588.50 2204.81 L591.46 2205.18 L594.42 2205.56 L597.38 2205.94 L600.34 2206.32 L603.30 2206.70 L606.26 2207.09 L609.22 2207.47 L612.18 2207.85 L615.14 2208.23 L618.10 2208.62 L621.06 2209.00 L624.02 2209.38 L626.97 2209.77 L629.93 2210.15 L632.89 2210.54 L635.85 2210.93 L638.81 2211.31 L641.77 2211.70 L644.73 2212.09 L647.69 2212.48 L650.65 2212.87 L653.61 2213.25 L656.57 2213.65 L659.53 2214.04 L662.49 2214.43 L665.45 2214.82 L668.40 2215.21 L671.36 2215.61 L674.32 2216.00 L677.28 2216.39 L680.24 2216.79 L683.20 2217.19 L686.16 2217.58 L689.12 2217.98 L692.08 2218.38 L695.04 2218.78 L698.00 2219.17 L700.96 2219.57 L703.92 2219.97 L706.87 2220.38 L709.83 2220.78 L712.79 2221.18 L715.75 2221.58 L718.71 2221.99 L721.67 2222.39 L724.63 2222.80 L727.59 2223.20 L730.55 2223.61 L733.51 2224.02 L736.47 2224.42 L739.43 2224.83 L742.39 2225.24 L745.35 2225.65 L748.30 2226.06 L751.26 2226.47 L754.22 2226.88 L757.18 2227.29 L760.14 2227.71 L763.10 2228.12 L766.06 2228.53 L769.02 2228.95 L771.98 2229.36 L774.94 2229.78 L777.90 2230.19 L780.86 2230.61 L783.82 2231.03 L786.78 2231.44 L789.73 2231.86 L792.69 2232.28 L795.65 2232.70 L798.61 2233.12 L801.57 2233.54 L804.53 2233.96 L807.49 2234.38 L810.45 2234.80 L813.41 2235.22 L816.37 2235.65 L819.33 2236.07 L822.29 2236.49 L825.25 2236.92 L828.20 2237.34 L831.16 2237.76 L834.12 2238.19 L837.08 2238.61 L840.04 2239.04 L843.00 2239.47 L845.96 2239.89 L848.92 2240.32 L851.88 2240.75 L854.84 2241.18 L857.80 2241.61 L860.76 2242.03 L863.72 2242.46 L866.68 2242.89 L869.63 2243.32 L872.59 2243.75 L875.55 2244.18 L878.51 2244.62 L881.47 2245.05 L884.43 2245.48 L887.39 2245.91 L890.35 2246.34 L893.31 2246.78 L896.27 2247.21 L899.23 2247.64 L902.19 2248.08 L905.15 2248.51 L908.11 2248.95 L911.06 2249.38 L914.02 2249.82 L916.98 2250.25 L919.94 2250.69 L922.90 2251.12 L925.86 2251.56 L928.82 2252.00 L931.78 2252.43 L934.74 2252.87 L937.70 2253.31 L940.66 2253.75 L943.62 2254.18 L946.58 2254.62 L949.53 2255.06 L952.49 2255.50 L955.45 2255.94 L958.41 2256.38 L961.37 2256.82 L964.33 2257.26 L967.29 2257.70 L970.25 2258.14 L973.21 2258.58 L976.17 2259.02 L979.13 2259.46 L982.09 2259.90 L985.05 2260.34 L988.01 2260.78 L990.96 2261.22 L993.92 2261.66 L996.88 2262.10 L999.84 2262.55 L1002.80 2262.99 L1005.76 2263.43 L1008.72 2263.87 L1011.68 2264.31 L1014.64 2264.76 L1017.60 2265.20 L1020.56 2265.64 L1023.52 2266.09 L1026.48 2266.53 L1029.43 2266.97 L1032.39 2267.41 L1035.35 2267.86 L1038.31 2268.30 L1041.27 2268.74 L1044.23 2269.19 L1047.19 2269.63 L1050.15 2270.07 L1053.11 2270.52 L1056.07 2270.96 L1059.03 2271.41 L1061.99 2271.85 L1064.95 2272.29 L1067.91 2272.74 L1070.86 2273.18 L1073.82 2273.63 L1076.78 2274.07 L1079.74 2274.51 L1082.70 2274.96 L1085.66 2275.40 L1088.62 2275.85 L1091.58 2276.29 L1094.54 2276.73 L1097.50 2277.18 L1100.46 2277.62 L1103.42 2278.06 L1106.38 2278.51 L1109.34 2278.95 L1112.29 2279.40 L1115.25 2279.84 L1118.21 2280.28 L1121.17 2280.73 L1124.13 2281.17 L1127.09 2281.62 L1130.05 2282.06 L1133.01 2282.50 L1135.97 2282.95 L1138.93 2283.39 L1141.89 2283.84 L1144.85 2284.28 L1147.81 2284.73 L1150.76 2285.17 L1153.72 2285.62 L1156.68 2286.06 L1159.64 2286.51 L1162.60 2286.95 L1165.56 2287.40 L1168.52 2287.85 L1171.48 2288.29 L1174.44 2288.74 L1177.40 2289.19 L1180.36 2289.63 L1183.32 2290.08 L1186.28 2290.53 L1189.24 2290.98 L1192.19 2291.43 L1195.15 2291.87 L1198.11 2292.32 L1201.07 2292.77 L1204.03 2293.22 L1206.99 2293.67 L1209.95 2294.13 L1212.91 2294.58 L1215.87 2295.03 L1218.83 2295.48 L1221.79 2295.93 L1224.75 2296.39 L1227.71 2296.84 L1230.66 2297.29 L1233.62 2297.75 L1236.58 2298.20 L1239.54 2298.66 L1242.50 2299.12 L1245.46 2299.57 L1248.42 2300.03 L1251.38 2300.49 L1254.34 2300.95 L1257.30 2301.41 L1260.26 2301.87 L1263.22 2302.33 L1266.18 2302.79 L1269.14 2303.25 L1272.09 2303.71 L1275.05 2304.18 L1278.01 2304.64 L1280.97 2305.11 L1283.93 2305.57 L1286.89 2306.04 L1289.85 2306.50 L1292.81 2306.97 L1295.77 2307.44 L1298.73 2307.91 L1301.69 2308.38 L1304.65 2308.85 L1307.61 2309.32 L1310.57 2309.80 L1313.52 2310.27 L1316.48 2310.74 L1319.44 2311.22 L1322.40 2311.70 L1325.36 2312.17 L1328.32 2312.65 L1331.28 2313.13 L1334.24 2313.61 L1337.20 2314.09 L1340.16 2314.57 L1343.12 2315.05 L1346.08 2315.54 L1349.04 2316.02 L1351.99 2316.51 L1354.95 2317.00 L1357.91 2317.48 L1360.87 2317.97 L1363.83 2318.46 L1366.79 2318.95 L1369.75 2319.45 L1372.71 2319.94 L1375.67 2320.43 L1378.63 2320.93 L1381.59 2321.43 L1384.55 2321.92 L1387.51 2322.42 L1390.47 2322.92 L1393.42 2323.43 L1396.38 2323.93 L1399.34 2324.43 L1402.30 2324.94 L1405.26 2325.44 L1408.22 2325.95 L1411.18 2326.46 L1414.14 2326.97 L1417.10 2327.48 L1420.06 2328.00 L1423.02 2328.51 L1425.98 2329.03 L1428.94 2329.54 L1431.89 2330.06 L1434.85 2330.58 L1437.81 2331.10 L1440.77 2331.62 L1443.73 2332.15 L1446.69 2332.67 L1449.65 2333.20 L1452.61 2333.73 L1455.57 2334.26 L1458.53 2334.79 L1461.49 2335.32 L1464.45 2335.86 L1467.41 2336.39 L1470.37 2336.93 L1473.32 2337.47 L1476.28 2338.01 L1479.24 2338.55 L1482.20 2339.09 L1485.16 2339.64 L1488.12 2340.19 L1491.08 2340.73 L1494.04 2341.28 L1497.00 2341.84 L1499.96 2342.39 L1502.92 2342.94 L1505.88 2343.50 L1508.84 2344.06 L1511.80 2344.62 L1514.75 2345.18 L1517.71 2345.74 L1520.67 2346.31 L1523.63 2346.88 L1526.59 2347.45 L1529.55 2348.02 L1532.51 2348.59 L1535.47 2349.16 L1538.43 2349.74 L1541.39 2350.32 L1544.35 2350.90 L1547.31 2351.48 L1550.27 2352.06 L1553.22 2352.65 L1556.18 2353.23 L1559.14 2353.82 L1562.10 2354.41 L1565.06 2355.01 L1568.02 2355.60 L1570.98 2356.20 L1573.94 2356.80 L1576.90 2357.40 L1579.86 2358.00 L1582.82 2358.61 L1585.78 2359.21 L1588.74 2359.82 L1591.70 2360.43 L1594.65 2361.05 L1597.61 2361.66 L1600.57 2362.28 L1603.53 2362.90 L1606.49 2363.52 L1609.45 2364.14 L1612.41 2364.77 L1615.37 2365.40 L1618.33 2366.03 L1621.29 2366.66 L1624.25 2367.29 L1627.21 2367.93 L1630.17 2368.57 L1633.13 2369.21 L1636.08 2369.85 L1639.04 2370.50 L1642.00 2371.14 L1644.96 2371.79 L1647.92 2372.45 L1650.88 2373.10 L1653.84 2373.76 L1656.80 2374.42 L1659.76 2375.08 L1662.72 2375.74 L1665.68 2376.41 L1668.64 2377.08 L1671.60 2377.75 L1674.55 2378.42 L1677.51 2379.10 L1680.47 2379.78 L1683.43 2380.46 L1686.39 2381.14 L1689.35 2381.83 L1692.31 2382.51 L1695.27 2383.20 L1698.23 2383.89 L1701.19 2384.59 L1704.15 2385.28 L1707.11 2385.98 L1710.07 2386.68 L1713.03 2387.38 L1715.98 2388.08 L1718.94 2388.79 L1721.90 2389.49 L1724.86 2390.20 L1727.82 2390.91 L1730.78 2391.62 L1733.74 2392.33 L1736.70 2393.04 L1739.66 2393.76 L1742.62 2394.47 L1745.58 2395.19 L1748.54 2395.91 L1751.50 2396.63 L1754.45 2397.35 L1757.41 2398.07 L1760.37 2398.79 L1763.33 2399.51 L1766.29 2400.23 L1769.25 2400.96 L1772.21 2401.68 L1775.17 2402.41 L1778.13 2403.13 L1781.09 2403.86 L1784.05 2404.59 L1787.01 2405.31 L1789.97 2406.04 L1792.93 2406.77 L1795.88 2407.49 L1798.84 2408.22 L1801.80 2408.95 L1804.76 2409.68 L1807.72 2410.40 L1810.68 2411.13 L1813.64 2411.86 L1816.60 2412.58 L1819.56 2413.31 L1822.52 2414.04 L1825.48 2414.76 L1828.44 2415.49 L1831.40 2416.21 L1834.36 2416.94 L1837.31 2417.66 L1840.27 2418.39 L1843.23 2419.11 L1846.19 2419.83 L1849.15 2420.55 L1852.11 2421.27 L1855.07 2421.99 L1858.03 2422.71 L1860.99 2423.43 L1863.95 2424.14 L1866.91 2424.86 L1869.87 2425.57 L1872.83 2426.28 L1875.78 2426.99 L1878.74 2427.70 L1881.70 2428.41 L1884.66 2429.12 L1887.62 2429.82 L1890.58 2430.52 L1893.54 2431.23 L1896.50 2431.93 L1899.46 2432.62 L1902.42 2433.32 L1905.38 2434.01 L1908.34 2434.71 L1911.30 2435.40 L1914.26 2436.08 L1917.21 2436.77 L1920.17 2437.45 L1923.13 2438.14 L1926.09 2438.81 L1929.05 2439.49 L1932.01 2440.17 L1934.97 2440.84 L1937.93 2441.51 L1940.89 2442.17 L1943.85 2442.84 L1946.81 2443.50 L1949.77 2444.16 L1952.73 2444.81 L1955.68 2445.47 L1958.64 2446.12 L1961.60 2446.76 L1964.56 2447.41 L1967.52 2448.05 L1970.48 2448.69 L1973.44 2449.32 L1976.40 2449.95 L1979.36 2450.58 L1982.32 2451.20 L1985.28 2451.82 L1988.24 2452.44 L1991.20 2453.06 L1994.16 2453.67 L1997.11 2454.27 L2000.07 2454.88 L2003.03 2455.47 L2005.99 2456.07 L2008.95 2456.66 L2011.91 2457.25 L2014.87 2457.83 L2017.83 2458.41 L2020.79 2458.99 L2023.75 2459.56 L2026.71 2460.12 L2029.67 2460.69 L2032.63 2461.24 L2035.59 2461.80 L2038.54 2462.35 L2041.50 2462.89 L2044.46 2463.43 L2047.42 2463.97 L2050.38 2464.50 L2053.34 2465.02 L2056.30 2465.55" stroke="#4169e1" stroke-linecap="butt" stroke-dasharray="55.09,23.82"/>
<path d="M283.70 1988.71 L286.66 1994.54 L289.62 2000.24 L292.58 2005.80 L295.54 2011.23 L298.50 2016.52 L301.46 2021.67 L304.41 2026.67 L307.37 2031.52 L310.33 2036.22 L313.29 2040.76 L316.25 2045.14 L319.21 2049.36 L322.17 2053.42 L325.13 2057.31 L328.09 2061.03 L331.05 2064.58 L334.01 2067.96 L336.97 2071.17 L339.93 2074.20 L342.89 2077.07 L345.84 2079.77 L348.80 2082.29 L351.76 2084.64 L354.72 2086.82 L357.68 2088.82 L360.64 2090.65 L363.60 2092.31 L366.56 2093.80 L369.52 2095.12 L372.48 2096.28 L375.44 2097.30 L378.40 2098.17 L381.36 2098.89 L384.32 2099.49 L387.27 2099.96 L390.23 2100.31 L393.19 2100.55 L396.15 2100.67 L399.11 2100.70 L402.07 2100.63 L405.03 2100.47 L407.99 2100.23 L410.95 2099.91 L413.91 2099.53 L416.87 2099.07 L419.83 2098.56 L422.79 2098.00 L425.74 2097.39 L428.70 2096.74 L431.66 2096.06 L434.62 2095.35 L437.58 2094.63 L440.54 2093.88 L443.50 2093.12 L446.46 2092.35 L449.42 2091.57 L452.38 2090.78 L455.34 2089.98 L458.30 2089.17 L461.26 2088.36 L464.22 2087.54 L467.17 2086.73 L470.13 2085.90 L473.09 2085.08 L476.05 2084.26 L479.01 2083.44 L481.97 2082.63 L484.93 2081.82 L487.89 2081.02 L490.85 2080.22 L493.81 2079.43 L496.77 2078.66 L499.73 2077.89 L502.69 2077.14 L505.64 2076.40 L508.60 2075.68 L511.56 2074.98 L514.52 2074.29 L517.48 2073.62 L520.44 2072.98 L523.40 2072.35 L526.36 2071.75 L529.32 2071.18 L532.28 2070.63 L535.24 2070.11 L538.20 2069.62 L541.16 2069.16 L544.12 2068.73 L547.07 2068.33 L550.03 2067.96 L552.99 2067.63 L555.95 2067.33 L558.91 2067.05 L561.87 2066.82 L564.83 2066.61 L567.79 2066.43 L570.75 2066.29 L573.71 2066.17 L576.67 2066.09 L579.63 2066.04 L582.59 2066.02 L585.55 2066.03 L588.50 2066.07 L591.46 2066.15 L594.42 2066.25 L597.38 2066.38 L600.34 2066.55 L603.30 2066.74 L606.26 2066.97 L609.22 2067.22 L612.18 2067.51 L615.14 2067.83 L618.10 2068.17 L621.06 2068.55 L624.02 2068.95 L626.97 2069.39 L629.93 2069.85 L632.89 2070.35 L635.85 2070.87 L638.81 2071.43 L641.77 2072.01 L644.73 2072.62 L647.69 2073.26 L650.65 2073.93 L653.61 2074.63 L656.57 2075.36 L659.53 2076.12 L662.49 2076.90 L665.45 2077.72 L668.40 2078.56 L671.36 2079.43 L674.32 2080.33 L677.28 2081.26 L680.24 2082.22 L683.20 2083.20 L686.16 2084.21 L689.12 2085.25 L692.08 2086.32 L695.04 2087.42 L698.00 2088.54 L700.96 2089.69 L703.92 2090.87 L706.87 2092.08 L709.83 2093.31 L712.79 2094.58 L715.75 2095.86 L718.71 2097.18 L721.67 2098.52 L724.63 2099.89 L727.59 2101.29 L730.55 2102.71 L733.51 2104.15 L736.47 2105.62 L739.43 2107.10 L742.39 2108.61 L745.35 2110.13 L748.30 2111.67 L751.26 2113.23 L754.22 2114.80 L757.18 2116.39 L760.14 2117.99 L763.10 2119.60 L766.06 2121.21 L769.02 2122.84 L771.98 2124.48 L774.94 2126.12 L777.90 2127.77 L780.86 2129.42 L783.82 2131.07 L786.78 2132.72 L789.73 2134.38 L792.69 2136.03 L795.65 2137.68 L798.61 2139.33 L801.57 2140.97 L804.53 2142.61 L807.49 2144.24 L810.45 2145.87 L813.41 2147.50 L816.37 2149.13 L819.33 2150.76 L822.29 2152.39 L825.25 2154.02 L828.20 2155.66 L831.16 2157.30 L834.12 2158.95 L837.08 2160.60 L840.04 2162.26 L843.00 2163.93 L845.96 2165.62 L848.92 2167.31 L851.88 2169.01 L854.84 2170.73 L857.80 2172.47 L860.76 2174.22 L863.72 2175.98 L866.68 2177.76 L869.63 2179.57 L872.59 2181.39 L875.55 2183.23 L878.51 2185.10 L881.47 2186.98 L884.43 2188.88 L887.39 2190.81 L890.35 2192.75 L893.31 2194.71 L896.27 2196.68 L899.23 2198.68 L902.19 2200.69 L905.15 2202.72 L908.11 2204.76 L911.06 2206.82 L914.02 2208.89 L916.98 2210.99 L919.94 2213.09 L922.90 2215.21 L925.86 2217.34 L928.82 2219.49 L931.78 2221.65 L934.74 2223.82 L937.70 2226.00 L940.66 2228.20 L943.62 2230.40 L946.58 2232.62 L949.53 2234.85 L952.49 2237.08 L955.45 2239.33 L958.41 2241.59 L961.37 2243.85 L964.33 2246.13 L967.29 2248.41 L970.25 2250.70 L973.21 2252.99 L976.17 2255.30 L979.13 2257.61 L982.09 2259.92 L985.05 2262.24 L988.01 2264.57 L990.96 2266.90 L993.92 2269.24 L996.88 2271.58 L999.84 2273.92 L1002.80 2276.26 L1005.76 2278.61 L1008.72 2280.96 L1011.68 2283.32 L1014.64 2285.67 L1017.60 2288.03 L1020.56 2290.38 L1023.52 2292.74 L1026.48 2295.09 L1029.43 2297.45 L1032.39 2299.80 L1035.35 2302.16 L1038.31 2304.51 L1041.27 2306.86 L1044.23 2309.20 L1047.19 2311.54 L1050.15 2313.88 L1053.11 2316.22 L1056.07 2318.55 L1059.03 2320.88 L1061.99 2323.20 L1064.95 2325.52 L1067.91 2327.83 L1070.86 2330.13 L1073.82 2332.43 L1076.78 2334.72 L1079.74 2337.00 L1082.70 2339.27 L1085.66 2341.54 L1088.62 2343.80 L1091.58 2346.06 L1094.54 2348.30 L1097.50 2350.54 L1100.46 2352.78 L1103.42 2355.00 L1106.38 2357.22 L1109.34 2359.44 L1112.29 2361.64 L1115.25 2363.84 L1118.21 2366.04 L1121.17 2368.22 L1124.13 2370.41 L1127.09 2372.58 L1130.05 2374.75 L1133.01 2376.91 L1135.97 2379.07 L1138.93 2381.22 L1141.89 2383.37 L1144.85 2385.51 L1147.81 2387.64 L1150.76 2389.77 L1153.72 2391.89 L1156.68 2394.01 L1159.64 2396.12 L1162.60 2398.23 L1165.56 2400.33 L1168.52 2402.43 L1171.48 2404.52 L1174.44 2406.61 L1177.40 2408.69 L1180.36 2410.77 L1183.32 2412.84 L1186.28 2414.91 L1189.24 2416.97 L1192.19 2419.03 L1195.15 2421.09 L1198.11 2423.14 L1201.07 2425.18 L1204.03 2427.23 L1206.99 2429.26 L1209.95 2431.30 L1212.91 2433.33 L1215.87 2435.35 L1218.83 2437.38 L1221.79 2439.40 L1224.75 2441.41 L1227.71 2443.42 L1230.66 2445.43 L1233.62 2447.44 L1236.58 2449.44 L1239.54 2451.44 L1242.50 2453.43 L1245.46 2455.43 L1248.42 2457.42 L1251.38 2459.40 L1254.34 2461.39 L1257.30 2463.37 L1260.26 2465.34 L1263.22 2467.32 L1266.18 2469.29 L1269.14 2471.26 L1272.09 2473.23 L1275.05 2475.20 L1278.01 2477.16 L1280.97 2479.12 L1283.93 2481.08 L1286.89 2483.04 L1289.85 2485.00 L1292.81 2486.95 L1295.77 2488.90 L1298.73 2490.85 L1301.69 2492.80 L1304.65 2494.75 L1307.61 2496.70 L1310.57 2498.64 L1313.52 2500.59 L1316.48 2502.53 L1319.44 2504.47 L1322.40 2506.41 L1325.36 2508.35 L1328.32 2510.29 L1331.28 2512.22 L1334.24 2514.16 L1337.20 2516.10 L1340.16 2518.03 L1343.12 2519.97 L1346.08 2521.90 L1349.04 2523.83 L1351.99 2525.77 L1354.95 2527.70 L1357.91 2529.64 L1360.87 2531.57 L1363.83 2533.50 L1366.79 2535.44 L1369.75 2537.37 L1372.71 2539.30 L1375.67 2541.24 L1378.63 2543.17 L1381.59 2545.11 L1384.55 2547.04 L1387.51 2548.98 L1390.47 2550.92 L1393.42 2552.86 L1396.38 2554.79 L1399.34 2556.73 L1402.30 2558.67 L1405.26 2560.61 L1408.22 2562.56 L1411.18 2564.50 L1414.14 2566.44 L1417.10 2568.38 L1420.06 2570.32 L1423.02 2572.27 L1425.98 2574.21 L1428.94 2576.15 L1431.89 2578.10 L1434.85 2580.04 L1437.81 2581.98 L1440.77 2583.92 L1443.73 2585.87 L1446.69 2587.81 L1449.65 2589.75 L1452.61 2591.69 L1455.57 2593.63 L1458.53 2595.57 L1461.49 2597.51 L1464.45 2599.45 L1467.41 2601.39 L1470.37 2603.33 L1473.32 2605.26 L1476.28 2607.20 L1479.24 2609.14 L1482.20 2611.07 L1485.16 2613.00 L1488.12 2614.93 L1491.08 2616.87 L1494.04 2618.80 L1497.00 2620.72 L1499.96 2622.65 L1502.92 2624.58 L1505.88 2626.50 L1508.84 2628.42 L1511.80 2630.34 L1514.75 2632.26 L1517.71 2634.18 L1520.67 2636.09 L1523.63 2638.01 L1526.59 2639.92 L1529.55 2641.83 L1532.51 2643.74 L1535.47 2645.64 L1538.43 2647.55 L1541.39 2649.45 L1544.35 2651.35 L1547.31 2653.24 L1550.27 2655.14 L1553.22 2657.03 L1556.18 2658.92 L1559.14 2660.81 L1562.10 2662.69 L1565.06 2664.57 L1568.02 2666.45 L1570.98 2668.33 L1573.94 2670.20 L1576.90 2672.07 L1579.86 2673.94 L1582.82 2675.80 L1585.78 2677.66 L1588.74 2679.52 L1591.70 2681.37 L1594.65 2683.22 L1597.61 2685.07 L1600.57 2686.92 L1603.53 2688.76 L1606.49 2690.60 L1609.45 2692.43 L1612.41 2694.26 L1615.37 2696.09 L1618.33 2697.91 L1621.29 2699.73 L1624.25 2701.54 L1627.21 2703.35 L1630.17 2705.16 L1633.13 2706.96 L1636.08 2708.76 L1639.04 2710.56 L1642.00 2712.35 L1644.96 2714.13 L1647.92 2715.92 L1650.88 2717.69 L1653.84 2719.47 L1656.80 2721.23 L1659.76 2723.00 L1662.72 2724.76 L1665.68 2726.51 L1668.64 2728.26 L1671.60 2730.00 L1674.55 2731.74 L1677.51 2733.48 L1680.47 2735.21 L1683.43 2736.93 L1686.39 2738.65 L1689.35 2740.37 L1692.31 2742.08 L1695.27 2743.78 L1698.23 2745.48 L1701.19 2747.17 L1704.15 2748.86 L1707.11 2750.54 L1710.07 2752.22 L1713.03 2753.89 L1715.98 2755.56 L1718.94 2757.22 L1721.90 2758.88 L1724.86 2760.53 L1727.82 2762.18 L1730.78 2763.82 L1733.74 2765.46 L1736.70 2767.09 L1739.66 2768.72 L1742.62 2770.34 L1745.58 2771.96 L1748.54 2773.57 L1751.50 2775.18 L1754.45 2776.78 L1757.41 2778.38 L1760.37 2779.98 L1763.33 2781.57 L1766.29 2783.15 L1769.25 2784.73 L1772.21 2786.31 L1775.17 2787.88 L1778.13 2789.45 L1781.09 2791.01 L1784.05 2792.57 L1787.01 2794.13 L1789.97 2795.68 L1792.93 2797.22 L1795.88 2798.77 L1798.84 2800.30 L1801.80 2801.84 L1804.76 2803.37 L1807.72 2804.89 L1810.68 2806.41 L1813.64 2807.93 L1816.60 2809.44 L1819.56 2810.95 L1822.52 2812.46 L1825.48 2813.96 L1828.44 2815.45 L1831.40 2816.95 L1834.36 2818.44 L1837.31 2819.92 L1840.27 2821.41 L1843.23 2822.88 L1846.19 2824.36 L1849.15 2825.83 L1852.11 2827.30 L1855.07 2828.76 L1858.03 2830.22 L1860.99 2831.68 L1863.95 2833.13 L1866.91 2834.58 L1869.87 2836.03 L1872.83 2837.47 L1875.78 2838.91 L1878.74 2840.34 L1881.70 2841.78 L1884.66 2843.20 L1887.62 2844.63 L1890.58 2846.05 L1893.54 2847.47 L1896.50 2848.89 L1899.46 2850.30 L1902.42 2851.71 L1905.38 2853.12 L1908.34 2854.52 L1911.30 2855.92 L1914.26 2857.32 L1917.21 2858.72 L1920.17 2860.11 L1923.13 2861.50 L1926.09 2862.89 L1929.05 2864.27 L1932.01 2865.65 L1934.97 2867.03 L1937.93 2868.40 L1940.89 2869.78 L1943.85 2871.15 L1946.81 2872.51 L1949.77 2873.88 L1952.73 2875.24 L1955.68 2876.60 L1958.64 2877.96 L1961.60 2879.31 L1964.56 2880.66 L1967.52 2882.01 L1970.48 2883.36 L1973.44 2884.70 L1976.40 2886.05 L1979.36 2887.39 L1982.32 2888.72 L1985.28 2890.06 L1988.24 2891.39 L1991.20 2892.73 L1994.16 2894.05 L1997.11 2895.38 L2000.07 2896.71 L2003.03 2898.03 L2005.99 2899.35 L2008.95 2900.67 L2011.91 2901.99 L2014.87 2903.30 L2017.83 2904.61 L2020.79 2905.93 L2023.75 2907.24 L2026.71 2908.54 L2029.67 2909.85 L2032.63 2911.15 L2035.59 2912.46 L2038.54 2913.76 L2041.50 2915.06 L2044.46 2916.35 L2047.42 2917.65 L2050.38 2918.95 L2053.34 2920.24 L2056.30 2921.53" stroke="#ff0000" stroke-linecap="square"/>
<path d="M283.70 1718.53 L286.66 1723.02 L289.62 1727.45 L292.58 1731.83 L295.54 1736.15 L298.50 1740.42 L301.46 1744.63 L304.41 1748.79 L307.37 1752.91 L310.33 1756.97 L313.29 1760.98 L316.25 1764.95 L319.21 1768.87 L322.17 1772.74 L325.13 1776.57 L328.09 1780.35 L331.05 1784.08 L334.01 1787.78 L336.97 1791.43 L339.93 1795.04 L342.89 1798.62 L345.84 1802.15 L348.80 1805.64 L351.76 1809.10 L354.72 1812.52 L357.68 1815.90 L360.64 1819.25 L363.60 1822.56 L366.56 1825.85 L369.52 1829.10 L372.48 1832.31 L375.44 1835.50 L378.40 1838.66 L381.36 1841.79 L384.32 1844.89 L387.27 1847.96 L390.23 1851.01 L393.19 1854.04 L396.15 1857.04 L399.11 1860.01 L402.07 1862.96 L405.03 1865.90 L407.99 1868.81 L410.95 1871.70 L413.91 1874.57 L416.87 1877.42 L419.83 1880.26 L422.79 1883.08 L425.74 1885.89 L428.70 1888.68 L431.66 1891.46 L434.62 1894.22 L437.58 1896.97 L440.54 1899.71 L443.50 1902.45 L446.46 1905.17 L449.42 1907.88 L452.38 1910.59 L455.34 1913.29 L458.30 1915.98 L461.26 1918.66 L464.22 1921.34 L467.17 1924.01 L470.13 1926.67 L473.09 1929.32 L476.05 1931.96 L479.01 1934.60 L481.97 1937.23 L484.93 1939.85 L487.89 1942.46 L490.85 1945.06 L493.81 1947.65 L496.77 1950.24 L499.73 1952.82 L502.69 1955.38 L505.64 1957.94 L508.60 1960.49 L511.56 1963.03 L514.52 1965.57 L517.48 1968.09 L520.44 1970.60 L523.40 1973.11 L526.36 1975.60 L529.32 1978.09 L532.28 1980.57 L535.24 1983.03 L538.20 1985.49 L541.16 1987.94 L544.12 1990.38 L547.07 1992.81 L550.03 1995.22 L552.99 1997.63 L555.95 2000.03 L558.91 2002.42 L561.87 2004.80 L564.83 2007.16 L567.79 2009.52 L570.75 2011.87 L573.71 2014.21 L576.67 2016.53 L579.63 2018.85 L582.59 2021.15 L585.55 2023.45 L588.50 2025.74 L591.46 2028.01 L594.42 2030.28 L597.38 2032.54 L600.34 2034.79 L603.30 2037.03 L606.26 2039.26 L609.22 2041.49 L612.18 2043.70 L615.14 2045.91 L618.10 2048.11 L621.06 2050.30 L624.02 2052.48 L626.97 2054.65 L629.93 2056.82 L632.89 2058.98 L635.85 2061.13 L638.81 2063.28 L641.77 2065.42 L644.73 2067.55 L647.69 2069.67 L650.65 2071.79 L653.61 2073.90 L656.57 2076.01 L659.53 2078.11 L662.49 2080.20 L665.45 2082.29 L668.40 2084.38 L671.36 2086.45 L674.32 2088.52 L677.28 2090.59 L680.24 2092.65 L683.20 2094.71 L686.16 2096.76 L689.12 2098.81 L692.08 2100.85 L695.04 2102.89 L698.00 2104.93 L700.96 2106.96 L703.92 2108.98 L706.87 2111.00 L709.83 2113.02 L712.79 2115.03 L715.75 2117.03 L718.71 2119.03 L721.67 2121.02 L724.63 2123.01 L727.59 2124.99 L730.55 2126.96 L733.51 2128.93 L736.47 2130.89 L739.43 2132.84 L742.39 2134.78 L745.35 2136.71 L748.30 2138.64 L751.26 2140.55 L754.22 2142.46 L757.18 2144.36 L760.14 2146.25 L763.10 2148.13 L766.06 2150.01 L769.02 2151.88 L771.98 2153.74 L774.94 2155.60 L777.90 2157.45 L780.86 2159.30 L783.82 2161.14 L786.78 2162.98 L789.73 2164.81 L792.69 2166.64 L795.65 2168.47 L798.61 2170.29 L801.57 2172.12 L804.53 2173.94 L807.49 2175.76 L810.45 2177.57 L813.41 2179.39 L816.37 2181.21 L819.33 2183.03 L822.29 2184.85 L825.25 2186.67 L828.20 2188.49 L831.16 2190.32 L834.12 2192.14 L837.08 2193.97 L840.04 2195.80 L843.00 2197.64 L845.96 2199.48 L848.92 2201.32 L851.88 2203.16 L854.84 2205.01 L857.80 2206.86 L860.76 2208.72 L863.72 2210.58 L866.68 2212.45 L869.63 2214.31 L872.59 2216.19 L875.55 2218.06 L878.51 2219.94 L881.47 2221.82 L884.43 2223.70 L887.39 2225.58 L890.35 2227.47 L893.31 2229.35 L896.27 2231.24 L899.23 2233.13 L902.19 2235.02 L905.15 2236.91 L908.11 2238.80 L911.06 2240.69 L914.02 2242.58 L916.98 2244.47 L919.94 2246.36 L922.90 2248.25 L925.86 2250.14 L928.82 2252.02 L931.78 2253.91 L934.74 2255.79 L937.70 2257.67 L940.66 2259.55 L943.62 2261.42 L946.58 2263.30 L949.53 2265.16 L952.49 2267.03 L955.45 2268.89 L958.41 2270.75 L961.37 2272.60 L964.33 2274.45 L967.29 2276.30 L970.25 2278.14 L973.21 2279.97 L976.17 2281.80 L979.13 2283.63 L982.09 2285.44 L985.05 2287.26 L988.01 2289.06 L990.96 2290.86 L993.92 2292.65 L996.88 2294.44 L999.84 2296.22 L1002.80 2297.99 L1005.76 2299.76 L1008.72 2301.52 L1011.68 2303.27 L1014.64 2305.02 L1017.60 2306.77 L1020.56 2308.51 L1023.52 2310.24 L1026.48 2311.97 L1029.43 2313.70 L1032.39 2315.42 L1035.35 2317.14 L1038.31 2318.86 L1041.27 2320.57 L1044.23 2322.28 L1047.19 2323.98 L1050.15 2325.68 L1053.11 2327.38 L1056.07 2329.08 L1059.03 2330.78 L1061.99 2332.47 L1064.95 2334.16 L1067.91 2335.85 L1070.86 2337.54 L1073.82 2339.23 L1076.78 2340.92 L1079.74 2342.61 L1082.70 2344.30 L1085.66 2345.98 L1088.62 2347.67 L1091.58 2349.36 L1094.54 2351.05 L1097.50 2352.73 L1100.46 2354.42 L1103.42 2356.12 L1106.38 2357.81 L1109.34 2359.50 L1112.29 2361.20 L1115.25 2362.89 L1118.21 2364.59 L1121.17 2366.29 L1124.13 2367.98 L1127.09 2369.68 L1130.05 2371.38 L1133.01 2373.08 L1135.97 2374.78 L1138.93 2376.48 L1141.89 2378.18 L1144.85 2379.88 L1147.81 2381.58 L1150.76 2383.28 L1153.72 2384.98 L1156.68 2386.68 L1159.64 2388.37 L1162.60 2390.07 L1165.56 2391.77 L1168.52 2393.47 L1171.48 2395.16 L1174.44 2396.86 L1177.40 2398.55 L1180.36 2400.25 L1183.32 2401.94 L1186.28 2403.63 L1189.24 2405.32 L1192.19 2407.01 L1195.15 2408.70 L1198.11 2410.38 L1201.07 2412.07 L1204.03 2413.75 L1206.99 2415.43 L1209.95 2417.11 L1212.91 2418.79 L1215.87 2420.46 L1218.83 2422.13 L1221.79 2423.81 L1224.75 2425.47 L1227.71 2427.14 L1230.66 2428.80 L1233.62 2430.46 L1236.58 2432.12 L1239.54 2433.78 L1242.50 2435.43 L1245.46 2437.08 L1248.42 2438.73 L1251.38 2440.37 L1254.34 2442.02 L1257.30 2443.66 L1260.26 2445.29 L1263.22 2446.93 L1266.18 2448.56 L1269.14 2450.19 L1272.09 2451.82 L1275.05 2453.45 L1278.01 2455.08 L1280.97 2456.70 L1283.93 2458.32 L1286.89 2459.94 L1289.85 2461.56 L1292.81 2463.18 L1295.77 2464.79 L1298.73 2466.41 L1301.69 2468.02 L1304.65 2469.63 L1307.61 2471.24 L1310.57 2472.85 L1313.52 2474.46 L1316.48 2476.07 L1319.44 2477.68 L1322.40 2479.29 L1325.36 2480.89 L1328.32 2482.50 L1331.28 2484.11 L1334.24 2485.71 L1337.20 2487.32 L1340.16 2488.92 L1343.12 2490.53 L1346.08 2492.13 L1349.04 2493.74 L1351.99 2495.34 L1354.95 2496.95 L1357.91 2498.56 L1360.87 2500.16 L1363.83 2501.77 L1366.79 2503.38 L1369.75 2504.99 L1372.71 2506.60 L1375.67 2508.21 L1378.63 2509.82 L1381.59 2511.43 L1384.55 2513.04 L1387.51 2514.66 L1390.47 2516.27 L1393.42 2517.89 L1396.38 2519.51 L1399.34 2521.13 L1402.30 2522.75 L1405.26 2524.37 L1408.22 2525.99 L1411.18 2527.61 L1414.14 2529.24 L1417.10 2530.86 L1420.06 2532.49 L1423.02 2534.12 L1425.98 2535.75 L1428.94 2537.37 L1431.89 2539.00 L1434.85 2540.63 L1437.81 2542.26 L1440.77 2543.89 L1443.73 2545.52 L1446.69 2547.16 L1449.65 2548.79 L1452.61 2550.42 L1455.57 2552.05 L1458.53 2553.68 L1461.49 2555.31 L1464.45 2556.95 L1467.41 2558.58 L1470.37 2560.21 L1473.32 2561.84 L1476.28 2563.47 L1479.24 2565.10 L1482.20 2566.73 L1485.16 2568.36 L1488.12 2569.99 L1491.08 2571.62 L1494.04 2573.25 L1497.00 2574.87 L1499.96 2576.50 L1502.92 2578.12 L1505.88 2579.75 L1508.84 2581.37 L1511.80 2583.00 L1514.75 2584.62 L1517.71 2586.24 L1520.67 2587.86 L1523.63 2589.48 L1526.59 2591.09 L1529.55 2592.71 L1532.51 2594.32 L1535.47 2595.94 L1538.43 2597.55 L1541.39 2599.16 L1544.35 2600.76 L1547.31 2602.37 L1550.27 2603.98 L1553.22 2605.58 L1556.18 2607.18 L1559.14 2608.78 L1562.10 2610.38 L1565.06 2611.97 L1568.02 2613.56 L1570.98 2615.15 L1573.94 2616.74 L1576.90 2618.33 L1579.86 2619.91 L1582.82 2621.50 L1585.78 2623.08 L1588.74 2624.66 L1591.70 2626.23 L1594.65 2627.81 L1597.61 2629.38 L1600.57 2630.95 L1603.53 2632.52 L1606.49 2634.09 L1609.45 2635.66 L1612.41 2637.22 L1615.37 2638.79 L1618.33 2640.35 L1621.29 2641.91 L1624.25 2643.47 L1627.21 2645.03 L1630.17 2646.59 L1633.13 2648.14 L1636.08 2649.70 L1639.04 2651.25 L1642.00 2652.81 L1644.96 2654.36 L1647.92 2655.91 L1650.88 2657.46 L1653.84 2659.01 L1656.80 2660.56 L1659.76 2662.11 L1662.72 2663.65 L1665.68 2665.20 L1668.64 2666.75 L1671.60 2668.29 L1674.55 2669.84 L1677.51 2671.39 L1680.47 2672.93 L1683.43 2674.47 L1686.39 2676.02 L1689.35 2677.56 L1692.31 2679.11 L1695.27 2680.65 L1698.23 2682.19 L1701.19 2683.74 L1704.15 2685.28 L1707.11 2686.83 L1710.07 2688.37 L1713.03 2689.91 L1715.98 2691.46 L1718.94 2693.00 L1721.90 2694.55 L1724.86 2696.09 L1727.82 2697.64 L1730.78 2699.19 L1733.74 2700.73 L1736.70 2702.28 L1739.66 2703.83 L1742.62 2705.38 L1745.58 2706.93 L1748.54 2708.48 L1751.50 2710.03 L1754.45 2711.58 L1757.41 2713.14 L1760.37 2714.69 L1763.33 2716.25 L1766.29 2717.80 L1769.25 2719.36 L1772.21 2720.92 L1775.17 2722.48 L1778.13 2724.04 L1781.09 2725.60 L1784.05 2727.17 L1787.01 2728.73 L1789.97 2730.30 L1792.93 2731.87 L1795.88 2733.44 L1798.84 2735.01 L1801.80 2736.58 L1804.76 2738.16 L1807.72 2739.73 L1810.68 2741.31 L1813.64 2742.89 L1816.60 2744.47 L1819.56 2746.05 L1822.52 2747.63 L1825.48 2749.21 L1828.44 2750.79 L1831.40 2752.38 L1834.36 2753.96 L1837.31 2755.54 L1840.27 2757.13 L1843.23 2758.71 L1846.19 2760.30 L1849.15 2761.88 L1852.11 2763.46 L1855.07 2765.05 L1858.03 2766.63 L1860.99 2768.21 L1863.95 2769.79 L1866.91 2771.37 L1869.87 2772.95 L1872.83 2774.53 L1875.78 2776.11 L1878.74 2777.69 L1881.70 2779.26 L1884.66 2780.84 L1887.62 2782.41 L1890.58 2783.98 L1893.54 2785.55 L1896.50 2787.12 L1899.46 2788.68 L1902.42 2790.25 L1905.38 2791.81 L1908.34 2793.37 L1911.30 2794.93 L1914.26 2796.48 L1917.21 2798.03 L1920.17 2799.58 L1923.13 2801.13 L1926.09 2802.67 L1929.05 2804.21 L1932.01 2805.75 L1934.97 2807.29 L1937.93 2808.82 L1940.89 2810.35 L1943.85 2811.87 L1946.81 2813.40 L1949.77 2814.92 L1952.73 2816.43 L1955.68 2817.95 L1958.64 2819.46 L1961.60 2820.97 L1964.56 2822.48 L1967.52 2823.99 L1970.48 2825.50 L1973.44 2827.00 L1976.40 2828.50 L1979.36 2830.00 L1982.32 2831.50 L1985.28 2833.00 L1988.24 2834.50 L1991.20 2835.99 L1994.16 2837.49 L1997.11 2838.98 L2000.07 2840.48 L2003.03 2841.97 L2005.99 2843.47 L2008.95 2844.96 L2011.91 2846.45 L2014.87 2847.95 L2017.83 2849.44 L2020.79 2850.93 L2023.75 2852.43 L2026.71 2853.92 L2029.67 2855.42 L2032.63 2856.91 L2035.59 2858.41 L2038.54 2859.91 L2041.50 2861.41 L2044.46 2862.91 L2047.42 2864.41 L2050.38 2865.92 L2053.34 2867.42 L2056.30 2868.93" stroke="#228b22" stroke-linecap="butt" stroke-dasharray="95.30,23.82,14.89,23.82"/>
</g>
<rect x="283.70" y="1662.30" width="1772.60" height="1320.70" fill="none" stroke="#000" stroke-width="3.97" stroke-linejoin="miter"/>
<path d="M283.70 2983.00 V3000.40 M579.13 2983.00 V3000.40 M874.57 2983.00 V3000.40 M1170.00 2983.00 V3000.40 M1465.43 2983.00 V3000.40 M1760.87 2983.00 V3000.40 M2056.30 2983.00 V3000.40 M283.70 2925.20 H266.30 M283.70 2666.90 H266.30 M283.70 2408.60 H266.30 M283.70 2150.30 H266.30 M283.70 1892.00 H266.30" stroke="#000" stroke-width="3.97" fill="none"/>
<text x="248.90" y="2943.35" font-size="49.63" text-anchor="end">−1.0</text>
<text x="248.90" y="2685.05" font-size="49.63" text-anchor="end">−0.5</text>
<text x="248.90" y="2426.75" font-size="49.63" text-anchor="end">0.0</text>
<text x="248.90" y="2168.45" font-size="49.63" text-anchor="end">0.5</text>
<text x="248.90" y="1910.15" font-size="49.63" text-anchor="end">1.0</text>
<text transform="translate(88.50 2322.65) rotate(-90)" font-size="89.3" text-anchor="middle">Δ H (eV)</text>
<text x="1140.30" y="1611.10" font-size="76.8" font-weight="bold" text-anchor="middle">b)</text>
<rect x="308.50" y="2505.80" width="387.00" height="452.40" rx="9.93" ry="9.93" fill="#fff" fill-opacity="0.8" stroke="#ccc" stroke-opacity="0.8" stroke-width="4.96"/>
<path d="M328.80 2545.85 H428.10" stroke="#000000" stroke-width="14.89" stroke-linecap="square" fill="none"/>
<text x="467.65" y="2563.40" font-size="49.63">Pnma</text>
<path d="M328.80 2618.63 H428.10" stroke="#8a2be2" stroke-width="14.89" stroke-dasharray="55.09,23.82" fill="none"/>
<text x="467.65" y="2636.18" font-size="49.63">R-3m</text>
<path d="M328.80 2691.41 H428.10" stroke="#000080" stroke-width="14.89" stroke-dasharray="95.30,23.82,14.89,23.82" fill="none"/>
<text x="467.65" y="2708.96" font-size="49.63">C2/c</text>
<path d="M328.80 2764.19 H428.10" stroke="#4169e1" stroke-width="14.89" stroke-dasharray="55.09,23.82" fill="none"/>
<text x="467.65" y="2781.74" font-size="49.63">C2/m</text>
<path d="M328.80 2836.97 H428.10" stroke="#ff0000" stroke-width="14.89" stroke-linecap="square" fill="none"/>
<text x="467.65" y="2854.52" font-size="49.63">Im-3m</text>
<path d="M328.80 2909.75 H428.10" stroke="#228b22" stroke-width="14.89" stroke-dasharray="95.30,23.82,14.89,23.82" fill="none"/>
<text x="467.65" y="2927.30" font-size="49.63">I4/mmm</text>
<g clip-path="url(#clipc)" fill="none" stroke-width="14.89" stroke-linejoin="round">
<path d="M288.50 3955.43 L291.46 3954.88 L294.42 3954.38 L297.38 3953.91 L300.34 3953.48 L303.30 3953.09 L306.25 3952.74 L309.21 3952.43 L312.17 3952.16 L315.13 3951.92 L318.09 3951.72 L321.05 3951.56 L324.01 3951.43 L326.97 3951.34 L329.93 3951.28 L332.89 3951.26 L335.85 3951.27 L338.80 3951.31 L341.76 3951.39 L344.72 3951.49 L347.68 3951.63 L350.64 3951.80 L353.60 3951.99 L356.56 3952.22 L359.52 3952.48 L362.48 3952.76 L365.44 3953.07 L368.40 3953.41 L371.35 3953.78 L374.31 3954.17 L377.27 3954.58 L380.23 3955.02 L383.19 3955.49 L386.15 3955.98 L389.11 3956.49 L392.07 3957.02 L395.03 3957.58 L397.99 3958.16 L400.95 3958.75 L403.90 3959.37 L406.86 3960.01 L409.82 3960.67 L412.78 3961.34 L415.74 3962.04 L418.70 3962.75 L421.66 3963.47 L424.62 3964.22 L427.58 3964.98 L430.54 3965.75 L433.50 3966.54 L436.45 3967.34 L439.41 3968.16 L442.37 3968.99 L445.33 3969.83 L448.29 3970.68 L451.25 3971.54 L454.21 3972.42 L457.17 3973.30 L460.13 3974.19 L463.09 3975.10 L466.05 3976.01 L469.01 3976.92 L471.96 3977.85 L474.92 3978.78 L477.88 3979.72 L480.84 3980.66 L483.80 3981.61 L486.76 3982.56 L489.72 3983.51 L492.68 3984.47 L495.64 3985.43 L498.60 3986.39 L501.56 3987.36 L504.51 3988.32 L507.47 3989.28 L510.43 3990.25 L513.39 3991.21 L516.35 3992.17 L519.31 3993.13 L522.27 3994.09 L525.23 3995.04 L528.19 3995.99 L531.15 3996.94 L534.11 3997.88 L537.06 3998.81 L540.02 3999.74 L542.98 4000.66 L545.94 4001.58 L548.90 4002.49 L551.86 4003.39 L554.82 4004.28 L557.78 4005.16 L560.74 4006.04 L563.70 4006.92 L566.66 4007.78 L569.61 4008.64 L572.57 4009.49 L575.53 4010.33 L578.49 4011.17 L581.45 4012.00 L584.41 4012.82 L587.37 4013.63 L590.33 4014.44 L593.29 4015.24 L596.25 4016.04 L599.21 4016.83 L602.16 4017.61 L605.12 4018.38 L608.08 4019.15 L611.04 4019.91 L614.00 4020.67 L616.96 4021.41 L619.92 4022.15 L622.88 4022.89 L625.84 4023.62 L628.80 4024.34 L631.76 4025.05 L634.71 4025.76 L637.67 4026.46 L640.63 4027.16 L643.59 4027.85 L646.55 4028.53 L649.51 4029.21 L652.47 4029.88 L655.43 4030.54 L658.39 4031.20 L661.35 4031.85 L664.31 4032.49 L667.26 4033.13 L670.22 4033.76 L673.18 4034.39 L676.14 4035.01 L679.10 4035.63 L682.06 4036.23 L685.02 4036.84 L687.98 4037.43 L690.94 4038.02 L693.90 4038.60 L696.86 4039.18 L699.81 4039.76 L702.77 4040.32 L705.73 4040.88 L708.69 4041.44 L711.65 4041.98 L714.61 4042.53 L717.57 4043.06 L720.53 4043.60 L723.49 4044.12 L726.45 4044.64 L729.41 4045.16 L732.36 4045.67 L735.32 4046.17 L738.28 4046.67 L741.24 4047.16 L744.20 4047.64 L747.16 4048.13 L750.12 4048.60 L753.08 4049.07 L756.04 4049.54 L759.00 4050.00 L761.96 4050.45 L764.91 4050.90 L767.87 4051.34 L770.83 4051.78 L773.79 4052.21 L776.75 4052.64 L779.71 4053.06 L782.67 4053.48 L785.63 4053.89 L788.59 4054.30 L791.55 4054.70 L794.51 4055.10 L797.46 4055.49 L800.42 4055.88 L803.38 4056.26 L806.34 4056.64 L809.30 4057.01 L812.26 4057.37 L815.22 4057.74 L818.18 4058.09 L821.14 4058.45 L824.10 4058.79 L827.06 4059.14 L830.02 4059.48 L832.97 4059.81 L835.93 4060.14 L838.89 4060.46 L841.85 4060.78 L844.81 4061.10 L847.77 4061.41 L850.73 4061.71 L853.69 4062.01 L856.65 4062.31 L859.61 4062.60 L862.57 4062.89 L865.52 4063.17 L868.48 4063.45 L871.44 4063.73 L874.40 4064.00 L877.36 4064.26 L880.32 4064.52 L883.28 4064.78 L886.24 4065.03 L889.20 4065.28 L892.16 4065.53 L895.12 4065.77 L898.07 4066.00 L901.03 4066.23 L903.99 4066.46 L906.95 4066.69 L909.91 4066.91 L912.87 4067.12 L915.83 4067.33 L918.79 4067.54 L921.75 4067.75 L924.71 4067.95 L927.67 4068.14 L930.62 4068.34 L933.58 4068.52 L936.54 4068.71 L939.50 4068.89 L942.46 4069.07 L945.42 4069.24 L948.38 4069.41 L951.34 4069.58 L954.30 4069.74 L957.26 4069.90 L960.22 4070.05 L963.17 4070.21 L966.13 4070.35 L969.09 4070.50 L972.05 4070.64 L975.01 4070.78 L977.97 4070.91 L980.93 4071.04 L983.89 4071.17 L986.85 4071.30 L989.81 4071.42 L992.77 4071.54 L995.72 4071.65 L998.68 4071.76 L1001.64 4071.87 L1004.60 4071.97 L1007.56 4072.07 L1010.52 4072.17 L1013.48 4072.27 L1016.44 4072.36 L1019.40 4072.45 L1022.36 4072.54 L1025.32 4072.62 L1028.27 4072.70 L1031.23 4072.78 L1034.19 4072.85 L1037.15 4072.92 L1040.11 4072.99 L1043.07 4073.05 L1046.03 4073.12 L1048.99 4073.17 L1051.95 4073.23 L1054.91 4073.28 L1057.87 4073.34 L1060.82 4073.38 L1063.78 4073.43 L1066.74 4073.47 L1069.70 4073.51 L1072.66 4073.55 L1075.62 4073.58 L1078.58 4073.62 L1081.54 4073.64 L1084.50 4073.67 L1087.46 4073.70 L1090.42 4073.72 L1093.37 4073.74 L1096.33 4073.75 L1099.29 4073.77 L1102.25 4073.78 L1105.21 4073.79 L1108.17 4073.79 L1111.13 4073.80 L1114.09 4073.80 L1117.05 4073.80 L1120.01 4073.80 L1122.97 4073.79 L1125.92 4073.79 L1128.88 4073.78 L1131.84 4073.77 L1134.80 4073.75 L1137.76 4073.74 L1140.72 4073.72 L1143.68 4073.70 L1146.64 4073.68 L1149.60 4073.65 L1152.56 4073.63 L1155.52 4073.60 L1158.47 4073.57 L1161.43 4073.53 L1164.39 4073.50 L1167.35 4073.46 L1170.31 4073.43 L1173.27 4073.38 L1176.23 4073.34 L1179.19 4073.30 L1182.15 4073.25 L1185.11 4073.21 L1188.07 4073.16 L1191.03 4073.11 L1193.98 4073.05 L1196.94 4073.00 L1199.90 4072.94 L1202.86 4072.88 L1205.82 4072.83 L1208.78 4072.76 L1211.74 4072.70 L1214.70 4072.64 L1217.66 4072.57 L1220.62 4072.50 L1223.58 4072.44 L1226.53 4072.37 L1229.49 4072.29 L1232.45 4072.22 L1235.41 4072.15 L1238.37 4072.07 L1241.33 4071.99 L1244.29 4071.91 L1247.25 4071.83 L1250.21 4071.75 L1253.17 4071.67 L1256.13 4071.59 L1259.08 4071.50 L1262.04 4071.42 L1265.00 4071.33 L1267.96 4071.24 L1270.92 4071.15 L1273.88 4071.06 L1276.84 4070.97 L1279.80 4070.87 L1282.76 4070.78 L1285.72 4070.69 L1288.68 4070.59 L1291.63 4070.49 L1294.59 4070.40 L1297.55 4070.30 L1300.51 4070.20 L1303.47 4070.10 L1306.43 4070.00 L1309.39 4069.89 L1312.35 4069.79 L1315.31 4069.69 L1318.27 4069.58 L1321.23 4069.48 L1324.18 4069.37 L1327.14 4069.26 L1330.10 4069.16 L1333.06 4069.05 L1336.02 4068.94 L1338.98 4068.83 L1341.94 4068.72 L1344.90 4068.61 L1347.86 4068.50 L1350.82 4068.39 L1353.78 4068.28 L1356.73 4068.17 L1359.69 4068.05 L1362.65 4067.94 L1365.61 4067.83 L1368.57 4067.71 L1371.53 4067.60 L1374.49 4067.48 L1377.45 4067.37 L1380.41 4067.25 L1383.37 4067.14 L1386.33 4067.02 L1389.28 4066.91 L1392.24 4066.79 L1395.20 4066.67 L1398.16 4066.56 L1401.12 4066.44 L1404.08 4066.33 L1407.04 4066.21 L1410.00 4066.09 L1412.96 4065.98 L1415.92 4065.86 L1418.88 4065.74 L1421.83 4065.63 L1424.79 4065.51 L1427.75 4065.39 L1430.71 4065.28 L1433.67 4065.16 L1436.63 4065.05 L1439.59 4064.93 L1442.55 4064.82 L1445.51 4064.70 L1448.47 4064.59 L1451.43 4064.47 L1454.38 4064.36 L1457.34 4064.24 L1460.30 4064.13 L1463.26 4064.02 L1466.22 4063.90 L1469.18 4063.79 L1472.14 4063.68 L1475.10 4063.57 L1478.06 4063.46 L1481.02 4063.35 L1483.98 4063.24 L1486.93 4063.13 L1489.89 4063.02 L1492.85 4062.91 L1495.81 4062.80 L1498.77 4062.70 L1501.73 4062.59 L1504.69 4062.48 L1507.65 4062.38 L1510.61 4062.27 L1513.57 4062.17 L1516.53 4062.07 L1519.48 4061.97 L1522.44 4061.87 L1525.40 4061.77 L1528.36 4061.67 L1531.32 4061.57 L1534.28 4061.47 L1537.24 4061.38 L1540.20 4061.28 L1543.16 4061.19 L1546.12 4061.09 L1549.08 4061.00 L1552.04 4060.91 L1554.99 4060.82 L1557.95 4060.73 L1560.91 4060.64 L1563.87 4060.56 L1566.83 4060.47 L1569.79 4060.39 L1572.75 4060.30 L1575.71 4060.22 L1578.67 4060.14 L1581.63 4060.06 L1584.59 4059.98 L1587.54 4059.90 L1590.50 4059.82 L1593.46 4059.75 L1596.42 4059.67 L1599.38 4059.59 L1602.34 4059.52 L1605.30 4059.44 L1608.26 4059.37 L1611.22 4059.30 L1614.18 4059.22 L1617.14 4059.15 L1620.09 4059.08 L1623.05 4059.01 L1626.01 4058.94 L1628.97 4058.87 L1631.93 4058.80 L1634.89 4058.73 L1637.85 4058.66 L1640.81 4058.59 L1643.77 4058.52 L1646.73 4058.45 L1649.69 4058.38 L1652.64 4058.31 L1655.60 4058.24 L1658.56 4058.17 L1661.52 4058.11 L1664.48 4058.04 L1667.44 4057.97 L1670.40 4057.90 L1673.36 4057.83 L1676.32 4057.76 L1679.28 4057.69 L1682.24 4057.62 L1685.19 4057.55 L1688.15 4057.48 L1691.11 4057.41 L1694.07 4057.33 L1697.03 4057.26 L1699.99 4057.19 L1702.95 4057.12 L1705.91 4057.04 L1708.87 4056.97 L1711.83 4056.89 L1714.79 4056.82 L1717.74 4056.74 L1720.70 4056.66 L1723.66 4056.58 L1726.62 4056.51 L1729.58 4056.43 L1732.54 4056.35 L1735.50 4056.26 L1738.46 4056.18 L1741.42 4056.10 L1744.38 4056.01 L1747.34 4055.93 L1750.29 4055.84 L1753.25 4055.75 L1756.21 4055.66 L1759.17 4055.57 L1762.13 4055.48 L1765.09 4055.39 L1768.05 4055.29 L1771.01 4055.20 L1773.97 4055.10 L1776.93 4055.00 L1779.89 4054.90 L1782.84 4054.80 L1785.80 4054.70 L1788.76 4054.59 L1791.72 4054.49 L1794.68 4054.38 L1797.64 4054.27 L1800.60 4054.16 L1803.56 4054.04 L1806.52 4053.93 L1809.48 4053.81 L1812.44 4053.69 L1815.39 4053.57 L1818.35 4053.45 L1821.31 4053.33 L1824.27 4053.20 L1827.23 4053.07 L1830.19 4052.94 L1833.15 4052.81 L1836.11 4052.67 L1839.07 4052.53 L1842.03 4052.40 L1844.99 4052.25 L1847.94 4052.11 L1850.90 4051.96 L1853.86 4051.81 L1856.82 4051.66 L1859.78 4051.51 L1862.74 4051.35 L1865.70 4051.20 L1868.66 4051.03 L1871.62 4050.87 L1874.58 4050.70 L1877.54 4050.54 L1880.49 4050.36 L1883.45 4050.19 L1886.41 4050.01 L1889.37 4049.83 L1892.33 4049.65 L1895.29 4049.46 L1898.25 4049.27 L1901.21 4049.08 L1904.17 4048.89 L1907.13 4048.69 L1910.09 4048.49 L1913.05 4048.29 L1916.00 4048.08 L1918.96 4047.87 L1921.92 4047.66 L1924.88 4047.44 L1927.84 4047.22 L1930.80 4047.00 L1933.76 4046.77 L1936.72 4046.54 L1939.68 4046.31 L1942.64 4046.07 L1945.60 4045.83 L1948.55 4045.59 L1951.51 4045.34 L1954.47 4045.09 L1957.43 4044.83 L1960.39 4044.57 L1963.35 4044.31 L1966.31 4044.05 L1969.27 4043.78 L1972.23 4043.50 L1975.19 4043.23 L1978.15 4042.95 L1981.10 4042.66 L1984.06 4042.37 L1987.02 4042.08 L1989.98 4041.78 L1992.94 4041.48 L1995.90 4041.18 L1998.86 4040.87 L2001.82 4040.55 L2004.78 4040.24 L2007.74 4039.91 L2010.70 4039.59 L2013.65 4039.26 L2016.61 4038.92 L2019.57 4038.58 L2022.53 4038.23 L2025.49 4037.88 L2028.45 4037.52 L2031.41 4037.16 L2034.37 4036.79 L2037.33 4036.42 L2040.29 4036.04 L2043.25 4035.66 L2046.20 4035.27 L2049.16 4034.87 L2052.12 4034.47 L2055.08 4034.06 L2058.04 4033.64 L2061.00 4033.22" stroke="#000000" stroke-linecap="square"/>
<path d="M288.50 3969.60 L2061.00 3969.60" stroke="#8a2be2" stroke-linecap="butt" stroke-dasharray="55.09,23.82"/>
<path d="M288.50 3770.98 L291.46 3770.06 L294.42 3769.22 L297.38 3768.44 L300.34 3767.74 L303.30 3767.10 L306.25 3766.53 L309.21 3766.03 L312.17 3765.60 L315.13 3765.23 L318.09 3764.92 L321.05 3764.67 L324.01 3764.49 L326.97 3764.37 L329.93 3764.31 L332.89 3764.31 L335.85 3764.37 L338.80 3764.48 L341.76 3764.65 L344.72 3764.88 L347.68 3765.16 L350.64 3765.50 L353.60 3765.89 L356.56 3766.33 L359.52 3766.83 L362.48 3767.37 L365.44 3767.97 L368.40 3768.61 L371.35 3769.30 L374.31 3770.04 L377.27 3770.82 L380.23 3771.65 L383.19 3772.52 L386.15 3773.44 L389.11 3774.39 L392.07 3775.39 L395.03 3776.43 L397.99 3777.52 L400.95 3778.63 L403.90 3779.79 L406.86 3780.99 L409.82 3782.22 L412.78 3783.48 L415.74 3784.78 L418.70 3786.11 L421.66 3787.48 L424.62 3788.88 L427.58 3790.31 L430.54 3791.76 L433.50 3793.25 L436.45 3794.77 L439.41 3796.31 L442.37 3797.88 L445.33 3799.47 L448.29 3801.09 L451.25 3802.73 L454.21 3804.39 L457.17 3806.08 L460.13 3807.79 L463.09 3809.52 L466.05 3811.26 L469.01 3813.03 L471.96 3814.81 L474.92 3816.61 L477.88 3818.42 L480.84 3820.25 L483.80 3822.09 L486.76 3823.95 L489.72 3825.81 L492.68 3827.69 L495.64 3829.58 L498.60 3831.48 L501.56 3833.38 L504.51 3835.29 L507.47 3837.21 L510.43 3839.14 L513.39 3841.07 L516.35 3843.00 L519.31 3844.94 L522.27 3846.88 L525.23 3848.82 L528.19 3850.76 L531.15 3852.70 L534.11 3854.63 L537.06 3856.57 L540.02 3858.50 L542.98 3860.43 L545.94 3862.35 L548.90 3864.27 L551.86 3866.18 L554.82 3868.08 L557.78 3869.98 L560.74 3871.87 L563.70 3873.76 L566.66 3875.64 L569.61 3877.52 L572.57 3879.38 L575.53 3881.25 L578.49 3883.10 L581.45 3884.95 L584.41 3886.80 L587.37 3888.64 L590.33 3890.47 L593.29 3892.29 L596.25 3894.11 L599.21 3895.93 L602.16 3897.74 L605.12 3899.54 L608.08 3901.33 L611.04 3903.12 L614.00 3904.91 L616.96 3906.69 L619.92 3908.46 L622.88 3910.22 L625.84 3911.98 L628.80 3913.74 L631.76 3915.49 L634.71 3917.23 L637.67 3918.97 L640.63 3920.70 L643.59 3922.42 L646.55 3924.14 L649.51 3925.85 L652.47 3927.56 L655.43 3929.26 L658.39 3930.95 L661.35 3932.64 L664.31 3934.33 L667.26 3936.00 L670.22 3937.67 L673.18 3939.34 L676.14 3941.00 L679.10 3942.65 L682.06 3944.30 L685.02 3945.94 L687.98 3947.58 L690.94 3949.21 L693.90 3950.83 L696.86 3952.45 L699.81 3954.06 L702.77 3955.67 L705.73 3957.27 L708.69 3958.86 L711.65 3960.45 L714.61 3962.03 L717.57 3963.61 L720.53 3965.18 L723.49 3966.75 L726.45 3968.31 L729.41 3969.86 L732.36 3971.41 L735.32 3972.95 L738.28 3974.49 L741.24 3976.02 L744.20 3977.54 L747.16 3979.06 L750.12 3980.58 L753.08 3982.08 L756.04 3983.59 L759.00 3985.08 L761.96 3986.57 L764.91 3988.06 L767.87 3989.53 L770.83 3991.01 L773.79 3992.47 L776.75 3993.94 L779.71 3995.39 L782.67 3996.84 L785.63 3998.28 L788.59 3999.72 L791.55 4001.16 L794.51 4002.58 L797.46 4004.00 L800.42 4005.42 L803.38 4006.83 L806.34 4008.23 L809.30 4009.63 L812.26 4011.02 L815.22 4012.41 L818.18 4013.79 L821.14 4015.17 L824.10 4016.54 L827.06 4017.90 L830.02 4019.26 L832.97 4020.61 L835.93 4021.96 L838.89 4023.30 L841.85 4024.64 L844.81 4025.97 L847.77 4027.29 L850.73 4028.61 L853.69 4029.92 L856.65 4031.23 L859.61 4032.54 L862.57 4033.83 L865.52 4035.13 L868.48 4036.41 L871.44 4037.69 L874.40 4038.97 L877.36 4040.24 L880.32 4041.50 L883.28 4042.76 L886.24 4044.02 L889.20 4045.27 L892.16 4046.51 L895.12 4047.75 L898.07 4048.99 L901.03 4050.21 L903.99 4051.44 L906.95 4052.66 L909.91 4053.87 L912.87 4055.08 L915.83 4056.28 L918.79 4057.48 L921.75 4058.67 L924.71 4059.86 L927.67 4061.04 L930.62 4062.22 L933.58 4063.39 L936.54 4064.56 L939.50 4065.72 L942.46 4066.88 L945.42 4068.03 L948.38 4069.18 L951.34 4070.33 L954.30 4071.46 L957.26 4072.60 L960.22 4073.73 L963.17 4074.85 L966.13 4075.97 L969.09 4077.08 L972.05 4078.20 L975.01 4079.30 L977.97 4080.40 L980.93 4081.50 L983.89 4082.59 L986.85 4083.68 L989.81 4084.76 L992.77 4085.84 L995.72 4086.91 L998.68 4087.98 L1001.64 4089.04 L1004.60 4090.10 L1007.56 4091.16 L1010.52 4092.21 L1013.48 4093.25 L1016.44 4094.29 L1019.40 4095.33 L1022.36 4096.36 L1025.32 4097.39 L1028.27 4098.42 L1031.23 4099.44 L1034.19 4100.45 L1037.15 4101.46 L1040.11 4102.47 L1043.07 4103.47 L1046.03 4104.47 L1048.99 4105.47 L1051.95 4106.46 L1054.91 4107.44 L1057.87 4108.43 L1060.82 4109.40 L1063.78 4110.38 L1066.74 4111.35 L1069.70 4112.31 L1072.66 4113.27 L1075.62 4114.23 L1078.58 4115.19 L1081.54 4116.14 L1084.50 4117.08 L1087.46 4118.02 L1090.42 4118.96 L1093.37 4119.89 L1096.33 4120.82 L1099.29 4121.75 L1102.25 4122.67 L1105.21 4123.59 L1108.17 4124.50 L1111.13 4125.41 L1114.09 4126.31 L1117.05 4127.21 L1120.01 4128.10 L1122.97 4129.00 L1125.92 4129.88 L1128.88 4130.76 L1131.84 4131.64 L1134.80 4132.51 L1137.76 4133.38 L1140.72 4134.24 L1143.68 4135.10 L1146.64 4135.96 L1149.60 4136.80 L1152.56 4137.65 L1155.52 4138.49 L1158.47 4139.32 L1161.43 4140.15 L1164.39 4140.98 L1167.35 4141.79 L1170.31 4142.61 L1173.27 4143.42 L1176.23 4144.22 L1179.19 4145.02 L1182.15 4145.82 L1185.11 4146.60 L1188.07 4147.39 L1191.03 4148.17 L1193.98 4148.94 L1196.94 4149.71 L1199.90 4150.47 L1202.86 4151.22 L1205.82 4151.97 L1208.78 4152.72 L1211.74 4153.46 L1214.70 4154.19 L1217.66 4154.92 L1220.62 4155.65 L1223.58 4156.36 L1226.53 4157.08 L1229.49 4157.78 L1232.45 4158.48 L1235.41 4159.18 L1238.37 4159.86 L1241.33 4160.55 L1244.29 4161.22 L1247.25 4161.89 L1250.21 4162.56 L1253.17 4163.22 L1256.13 4163.87 L1259.08 4164.51 L1262.04 4165.15 L1265.00 4165.79 L1267.96 4166.42 L1270.92 4167.04 L1273.88 4167.65 L1276.84 4168.26 L1279.80 4168.86 L1282.76 4169.46 L1285.72 4170.05 L1288.68 4170.63 L1291.63 4171.21 L1294.59 4171.77 L1297.55 4172.34 L1300.51 4172.90 L1303.47 4173.45 L1306.43 4173.99 L1309.39 4174.53 L1312.35 4175.07 L1315.31 4175.60 L1318.27 4176.12 L1321.23 4176.64 L1324.18 4177.15 L1327.14 4177.67 L1330.10 4178.17 L1333.06 4178.67 L1336.02 4179.17 L1338.98 4179.67 L1341.94 4180.16 L1344.90 4180.65 L1347.86 4181.13 L1350.82 4181.61 L1353.78 4182.09 L1356.73 4182.57 L1359.69 4183.04 L1362.65 4183.51 L1365.61 4183.98 L1368.57 4184.45 L1371.53 4184.92 L1374.49 4185.38 L1377.45 4185.85 L1380.41 4186.31 L1383.37 4186.77 L1386.33 4187.23 L1389.28 4187.69 L1392.24 4188.15 L1395.20 4188.61 L1398.16 4189.07 L1401.12 4189.53 L1404.08 4189.99 L1407.04 4190.46 L1410.00 4190.92 L1412.96 4191.38 L1415.92 4191.84 L1418.88 4192.30 L1421.83 4192.76 L1424.79 4193.22 L1427.75 4193.68 L1430.71 4194.14 L1433.67 4194.60 L1436.63 4195.06 L1439.59 4195.51 L1442.55 4195.97 L1445.51 4196.43 L1448.47 4196.89 L1451.43 4197.35 L1454.38 4197.81 L1457.34 4198.27 L1460.30 4198.72 L1463.26 4199.18 L1466.22 4199.64 L1469.18 4200.09 L1472.14 4200.55 L1475.10 4201.00 L1478.06 4201.46 L1481.02 4201.91 L1483.98 4202.37 L1486.93 4202.82 L1489.89 4203.27 L1492.85 4203.72 L1495.81 4204.18 L1498.77 4204.63 L1501.73 4205.08 L1504.69 4205.53 L1507.65 4205.98 L1510.61 4206.42 L1513.57 4206.87 L1516.53 4207.32 L1519.48 4207.76 L1522.44 4208.21 L1525.40 4208.65 L1528.36 4209.10 L1531.32 4209.54 L1534.28 4209.98 L1537.24 4210.42 L1540.20 4210.86 L1543.16 4211.30 L1546.12 4211.74 L1549.08 4212.18 L1552.04 4212.62 L1554.99 4213.05 L1557.95 4213.48 L1560.91 4213.92 L1563.87 4214.35 L1566.83 4214.78 L1569.79 4215.21 L1572.75 4215.64 L1575.71 4216.07 L1578.67 4216.50 L1581.63 4216.92 L1584.59 4217.35 L1587.54 4217.77 L1590.50 4218.19 L1593.46 4218.61 L1596.42 4219.03 L1599.38 4219.45 L1602.34 4219.86 L1605.30 4220.28 L1608.26 4220.69 L1611.22 4221.11 L1614.18 4221.52 L1617.14 4221.93 L1620.09 4222.34 L1623.05 4222.74 L1626.01 4223.15 L1628.97 4223.55 L1631.93 4223.95 L1634.89 4224.35 L1637.85 4224.75 L1640.81 4225.15 L1643.77 4225.55 L1646.73 4225.94 L1649.69 4226.33 L1652.64 4226.73 L1655.60 4227.12 L1658.56 4227.50 L1661.52 4227.89 L1664.48 4228.27 L1667.44 4228.66 L1670.40 4229.04 L1673.36 4229.41 L1676.32 4229.79 L1679.28 4230.17 L1682.24 4230.54 L1685.19 4230.91 L1688.15 4231.28 L1691.11 4231.65 L1694.07 4232.01 L1697.03 4232.38 L1699.99 4232.74 L1702.95 4233.10 L1705.91 4233.45 L1708.87 4233.81 L1711.83 4234.16 L1714.79 4234.51 L1717.74 4234.86 L1720.70 4235.21 L1723.66 4235.56 L1726.62 4235.90 L1729.58 4236.24 L1732.54 4236.58 L1735.50 4236.91 L1738.46 4237.25 L1741.42 4237.58 L1744.38 4237.91 L1747.34 4238.23 L1750.29 4238.56 L1753.25 4238.88 L1756.21 4239.20 L1759.17 4239.52 L1762.13 4239.83 L1765.09 4240.14 L1768.05 4240.45 L1771.01 4240.76 L1773.97 4241.07 L1776.93 4241.37 L1779.89 4241.67 L1782.84 4241.97 L1785.80 4242.26 L1788.76 4242.55 L1791.72 4242.84 L1794.68 4243.13 L1797.64 4243.41 L1800.60 4243.69 L1803.56 4243.97 L1806.52 4244.25 L1809.48 4244.52 L1812.44 4244.79 L1815.39 4245.06 L1818.35 4245.33 L1821.31 4245.59 L1824.27 4245.85 L1827.23 4246.11 L1830.19 4246.37 L1833.15 4246.62 L1836.11 4246.87 L1839.07 4247.11 L1842.03 4247.36 L1844.99 4247.60 L1847.94 4247.84 L1850.90 4248.08 L1853.86 4248.31 L1856.82 4248.54 L1859.78 4248.77 L1862.74 4248.99 L1865.70 4249.22 L1868.66 4249.44 L1871.62 4249.65 L1874.58 4249.87 L1877.54 4250.08 L1880.49 4250.29 L1883.45 4250.49 L1886.41 4250.70 L1889.37 4250.90 L1892.33 4251.10 L1895.29 4251.29 L1898.25 4251.48 L1901.21 4251.67 L1904.17 4251.86 L1907.13 4252.05 L1910.09 4252.23 L1913.05 4252.41 L1916.00 4252.58 L1918.96 4252.75 L1921.92 4252.92 L1924.88 4253.09 L1927.84 4253.26 L1930.80 4253.42 L1933.76 4253.58 L1936.72 4253.73 L1939.68 4253.89 L1942.64 4254.04 L1945.60 4254.18 L1948.55 4254.33 L1951.51 4254.47 L1954.47 4254.61 L1957.43 4254.74 L1960.39 4254.88 L1963.35 4255.01 L1966.31 4255.14 L1969.27 4255.26 L1972.23 4255.38 L1975.19 4255.50 L1978.15 4255.62 L1981.10 4255.73 L1984.06 4255.84 L1987.02 4255.95 L1989.98 4256.05 L1992.94 4256.15 L1995.90 4256.25 L1998.86 4256.35 L2001.82 4256.44 L2004.78 4256.53 L2007.74 4256.62 L2010.70 4256.70 L2013.65 4256.78 L2016.61 4256.86 L2019.57 4256.93 L2022.53 4257.00 L2025.49 4257.07 L2028.45 4257.14 L2031.41 4257.20 L2034.37 4257.26 L2037.33 4257.32 L2040.29 4257.37 L2043.25 4257.43 L2046.20 4257.47 L2049.16 4257.52 L2052.12 4257.56 L2055.08 4257.60 L2058.04 4257.64 L2061.00 4257.67" stroke="#000080" stroke-linecap="butt" stroke-dasharray="95.30,23.82,14.89,23.82"/>
<path d="M288.50 3887.05 L291.46 3885.32 L294.42 3883.75 L297.38 3882.32 L300.34 3881.04 L303.30 3879.91 L306.25 3878.91 L309.21 3878.05 L312.17 3877.32 L315.13 3876.72 L318.09 3876.24 L321.05 3875.89 L324.01 3875.65 L326.97 3875.53 L329.93 3875.52 L332.89 3875.62 L335.85 3875.82 L338.80 3876.12 L341.76 3876.52 L344.72 3877.01 L347.68 3877.60 L350.64 3878.27 L353.60 3879.02 L356.56 3879.85 L359.52 3880.76 L362.48 3881.74 L365.44 3882.78 L368.40 3883.90 L371.35 3885.08 L374.31 3886.32 L377.27 3887.62 L380.23 3888.98 L383.19 3890.40 L386.15 3891.87 L389.11 3893.39 L392.07 3894.96 L395.03 3896.58 L397.99 3898.24 L400.95 3899.94 L403.90 3901.68 L406.86 3903.46 L409.82 3905.28 L412.78 3907.13 L415.74 3909.02 L418.70 3910.93 L421.66 3912.87 L424.62 3914.83 L427.58 3916.81 L430.54 3918.82 L433.50 3920.84 L436.45 3922.88 L439.41 3924.94 L442.37 3927.00 L445.33 3929.08 L448.29 3931.16 L451.25 3933.25 L454.21 3935.34 L457.17 3937.43 L460.13 3939.52 L463.09 3941.60 L466.05 3943.68 L469.01 3945.75 L471.96 3947.81 L474.92 3949.85 L477.88 3951.89 L480.84 3953.90 L483.80 3955.90 L486.76 3957.88 L489.72 3959.84 L492.68 3961.78 L495.64 3963.70 L498.60 3965.61 L501.56 3967.50 L504.51 3969.37 L507.47 3971.22 L510.43 3973.06 L513.39 3974.88 L516.35 3976.68 L519.31 3978.46 L522.27 3980.22 L525.23 3981.97 L528.19 3983.69 L531.15 3985.41 L534.11 3987.10 L537.06 3988.77 L540.02 3990.43 L542.98 3992.07 L545.94 3993.69 L548.90 3995.30 L551.86 3996.88 L554.82 3998.45 L557.78 4000.00 L560.74 4001.54 L563.70 4003.05 L566.66 4004.55 L569.61 4006.03 L572.57 4007.49 L575.53 4008.94 L578.49 4010.37 L581.45 4011.78 L584.41 4013.17 L587.37 4014.55 L590.33 4015.91 L593.29 4017.25 L596.25 4018.57 L599.21 4019.88 L602.16 4021.16 L605.12 4022.44 L608.08 4023.69 L611.04 4024.93 L614.00 4026.14 L616.96 4027.35 L619.92 4028.53 L622.88 4029.70 L625.84 4030.85 L628.80 4031.98 L631.76 4033.10 L634.71 4034.19 L637.67 4035.27 L640.63 4036.34 L643.59 4037.38 L646.55 4038.41 L649.51 4039.43 L652.47 4040.42 L655.43 4041.40 L658.39 4042.36 L661.35 4043.30 L664.31 4044.23 L667.26 4045.14 L670.22 4046.03 L673.18 4046.91 L676.14 4047.77 L679.10 4048.62 L682.06 4049.45 L685.02 4050.26 L687.98 4051.06 L690.94 4051.85 L693.90 4052.62 L696.86 4053.38 L699.81 4054.13 L702.77 4054.86 L705.73 4055.59 L708.69 4056.30 L711.65 4056.99 L714.61 4057.68 L717.57 4058.36 L720.53 4059.02 L723.49 4059.68 L726.45 4060.33 L729.41 4060.96 L732.36 4061.59 L735.32 4062.21 L738.28 4062.82 L741.24 4063.43 L744.20 4064.02 L747.16 4064.61 L750.12 4065.19 L753.08 4065.77 L756.04 4066.34 L759.00 4066.90 L761.96 4067.46 L764.91 4068.01 L767.87 4068.56 L770.83 4069.11 L773.79 4069.65 L776.75 4070.18 L779.71 4070.72 L782.67 4071.25 L785.63 4071.78 L788.59 4072.30 L791.55 4072.83 L794.51 4073.35 L797.46 4073.87 L800.42 4074.40 L803.38 4074.92 L806.34 4075.44 L809.30 4075.96 L812.26 4076.49 L815.22 4077.01 L818.18 4077.54 L821.14 4078.06 L824.10 4078.59 L827.06 4079.12 L830.02 4079.65 L832.97 4080.19 L835.93 4080.72 L838.89 4081.25 L841.85 4081.78 L844.81 4082.31 L847.77 4082.84 L850.73 4083.36 L853.69 4083.88 L856.65 4084.40 L859.61 4084.92 L862.57 4085.43 L865.52 4085.94 L868.48 4086.44 L871.44 4086.94 L874.40 4087.43 L877.36 4087.92 L880.32 4088.40 L883.28 4088.88 L886.24 4089.34 L889.20 4089.81 L892.16 4090.26 L895.12 4090.71 L898.07 4091.16 L901.03 4091.60 L903.99 4092.03 L906.95 4092.46 L909.91 4092.88 L912.87 4093.29 L915.83 4093.70 L918.79 4094.11 L921.75 4094.51 L924.71 4094.90 L927.67 4095.29 L930.62 4095.67 L933.58 4096.05 L936.54 4096.42 L939.50 4096.78 L942.46 4097.15 L945.42 4097.50 L948.38 4097.85 L951.34 4098.20 L954.30 4098.54 L957.26 4098.87 L960.22 4099.20 L963.17 4099.53 L966.13 4099.85 L969.09 4100.16 L972.05 4100.47 L975.01 4100.78 L977.97 4101.08 L980.93 4101.37 L983.89 4101.67 L986.85 4101.95 L989.81 4102.23 L992.77 4102.51 L995.72 4102.78 L998.68 4103.05 L1001.64 4103.32 L1004.60 4103.58 L1007.56 4103.83 L1010.52 4104.08 L1013.48 4104.33 L1016.44 4104.57 L1019.40 4104.81 L1022.36 4105.04 L1025.32 4105.27 L1028.27 4105.50 L1031.23 4105.72 L1034.19 4105.94 L1037.15 4106.15 L1040.11 4106.36 L1043.07 4106.57 L1046.03 4106.77 L1048.99 4106.97 L1051.95 4107.17 L1054.91 4107.36 L1057.87 4107.55 L1060.82 4107.73 L1063.78 4107.91 L1066.74 4108.09 L1069.70 4108.26 L1072.66 4108.43 L1075.62 4108.60 L1078.58 4108.76 L1081.54 4108.92 L1084.50 4109.08 L1087.46 4109.24 L1090.42 4109.39 L1093.37 4109.53 L1096.33 4109.68 L1099.29 4109.82 L1102.25 4109.96 L1105.21 4110.10 L1108.17 4110.23 L1111.13 4110.36 L1114.09 4110.48 L1117.05 4110.61 L1120.01 4110.73 L1122.97 4110.85 L1125.92 4110.97 L1128.88 4111.08 L1131.84 4111.19 L1134.80 4111.30 L1137.76 4111.41 L1140.72 4111.51 L1143.68 4111.61 L1146.64 4111.71 L1149.60 4111.81 L1152.56 4111.90 L1155.52 4111.99 L1158.47 4112.08 L1161.43 4112.17 L1164.39 4112.26 L1167.35 4112.34 L1170.31 4112.42 L1173.27 4112.50 L1176.23 4112.58 L1179.19 4112.65 L1182.15 4112.73 L1185.11 4112.80 L1188.07 4112.87 L1191.03 4112.94 L1193.98 4113.01 L1196.94 4113.07 L1199.90 4113.14 L1202.86 4113.20 L1205.82 4113.26 L1208.78 4113.32 L1211.74 4113.38 L1214.70 4113.44 L1217.66 4113.49 L1220.62 4113.54 L1223.58 4113.60 L1226.53 4113.65 L1229.49 4113.70 L1232.45 4113.75 L1235.41 4113.80 L1238.37 4113.84 L1241.33 4113.89 L1244.29 4113.94 L1247.25 4113.98 L1250.21 4114.02 L1253.17 4114.07 L1256.13 4114.11 L1259.08 4114.15 L1262.04 4114.19 L1265.00 4114.23 L1267.96 4114.27 L1270.92 4114.31 L1273.88 4114.35 L1276.84 4114.39 L1279.80 4114.42 L1282.76 4114.46 L1285.72 4114.50 L1288.68 4114.53 L1291.63 4114.57 L1294.59 4114.60 L1297.55 4114.64 L1300.51 4114.68 L1303.47 4114.71 L1306.43 4114.75 L1309.39 4114.78 L1312.35 4114.82 L1315.31 4114.85 L1318.27 4114.89 L1321.23 4114.92 L1324.18 4114.96 L1327.14 4115.00 L1330.10 4115.03 L1333.06 4115.07 L1336.02 4115.11 L1338.98 4115.15 L1341.94 4115.18 L1344.90 4115.22 L1347.86 4115.26 L1350.82 4115.30 L1353.78 4115.34 L1356.73 4115.38 L1359.69 4115.42 L1362.65 4115.47 L1365.61 4115.51 L1368.57 4115.56 L1371.53 4115.60 L1374.49 4115.65 L1377.45 4115.69 L1380.41 4115.74 L1383.37 4115.79 L1386.33 4115.84 L1389.28 4115.89 L1392.24 4115.94 L1395.20 4116.00 L1398.16 4116.05 L1401.12 4116.11 L1404.08 4116.17 L1407.04 4116.23 L1410.00 4116.29 L1412.96 4116.35 L1415.92 4116.41 L1418.88 4116.48 L1421.83 4116.55 L1424.79 4116.61 L1427.75 4116.68 L1430.71 4116.76 L1433.67 4116.83 L1436.63 4116.90 L1439.59 4116.98 L1442.55 4117.06 L1445.51 4117.14 L1448.47 4117.23 L1451.43 4117.31 L1454.38 4117.40 L1457.34 4117.49 L1460.30 4117.58 L1463.26 4117.67 L1466.22 4117.77 L1469.18 4117.87 L1472.14 4117.97 L1475.10 4118.07 L1478.06 4118.18 L1481.02 4118.29 L1483.98 4118.40 L1486.93 4118.51 L1489.89 4118.62 L1492.85 4118.74 L1495.81 4118.86 L1498.77 4118.98 L1501.73 4119.11 L1504.69 4119.24 L1507.65 4119.37 L1510.61 4119.50 L1513.57 4119.64 L1516.53 4119.78 L1519.48 4119.92 L1522.44 4120.06 L1525.40 4120.21 L1528.36 4120.36 L1531.32 4120.51 L1534.28 4120.66 L1537.24 4120.82 L1540.20 4120.98 L1543.16 4121.15 L1546.12 4121.31 L1549.08 4121.48 L1552.04 4121.65 L1554.99 4121.83 L1557.95 4122.01 L1560.91 4122.19 L1563.87 4122.37 L1566.83 4122.56 L1569.79 4122.75 L1572.75 4122.94 L1575.71 4123.14 L1578.67 4123.34 L1581.63 4123.54 L1584.59 4123.75 L1587.54 4123.96 L1590.50 4124.17 L1593.46 4124.39 L1596.42 4124.61 L1599.38 4124.83 L1602.34 4125.05 L1605.30 4125.28 L1608.26 4125.51 L1611.22 4125.75 L1614.18 4125.99 L1617.14 4126.23 L1620.09 4126.48 L1623.05 4126.72 L1626.01 4126.98 L1628.97 4127.23 L1631.93 4127.49 L1634.89 4127.76 L1637.85 4128.02 L1640.81 4128.29 L1643.77 4128.57 L1646.73 4128.84 L1649.69 4129.12 L1652.64 4129.41 L1655.60 4129.70 L1658.56 4129.99 L1661.52 4130.29 L1664.48 4130.59 L1667.44 4130.89 L1670.40 4131.20 L1673.36 4131.51 L1676.32 4131.82 L1679.28 4132.14 L1682.24 4132.46 L1685.19 4132.79 L1688.15 4133.12 L1691.11 4133.45 L1694.07 4133.79 L1697.03 4134.13 L1699.99 4134.48 L1702.95 4134.83 L1705.91 4135.19 L1708.87 4135.54 L1711.83 4135.91 L1714.79 4136.27 L1717.74 4136.64 L1720.70 4137.02 L1723.66 4137.40 L1726.62 4137.78 L1729.58 4138.17 L1732.54 4138.56 L1735.50 4138.96 L1738.46 4139.36 L1741.42 4139.76 L1744.38 4140.17 L1747.34 4140.58 L1750.29 4141.00 L1753.25 4141.42 L1756.21 4141.85 L1759.17 4142.28 L1762.13 4142.72 L1765.09 4143.16 L1768.05 4143.60 L1771.01 4144.05 L1773.97 4144.50 L1776.93 4144.96 L1779.89 4145.42 L1782.84 4145.89 L1785.80 4146.36 L1788.76 4146.84 L1791.72 4147.32 L1794.68 4147.81 L1797.64 4148.30 L1800.60 4148.79 L1803.56 4149.29 L1806.52 4149.80 L1809.48 4150.31 L1812.44 4150.82 L1815.39 4151.34 L1818.35 4151.87 L1821.31 4152.39 L1824.27 4152.93 L1827.23 4153.47 L1830.19 4154.01 L1833.15 4154.56 L1836.11 4155.11 L1839.07 4155.67 L1842.03 4156.24 L1844.99 4156.81 L1847.94 4157.38 L1850.90 4157.96 L1853.86 4158.54 L1856.82 4159.13 L1859.78 4159.73 L1862.74 4160.33 L1865.70 4160.93 L1868.66 4161.54 L1871.62 4162.16 L1874.58 4162.78 L1877.54 4163.41 L1880.49 4164.04 L1883.45 4164.67 L1886.41 4165.32 L1889.37 4165.96 L1892.33 4166.62 L1895.29 4167.28 L1898.25 4167.94 L1901.21 4168.61 L1904.17 4169.28 L1907.13 4169.96 L1910.09 4170.65 L1913.05 4171.34 L1916.00 4172.04 L1918.96 4172.74 L1921.92 4173.45 L1924.88 4174.16 L1927.84 4174.88 L1930.80 4175.61 L1933.76 4176.34 L1936.72 4177.08 L1939.68 4177.82 L1942.64 4178.57 L1945.60 4179.32 L1948.55 4180.08 L1951.51 4180.85 L1954.47 4181.62 L1957.43 4182.40 L1960.39 4183.18 L1963.35 4183.97 L1966.31 4184.76 L1969.27 4185.56 L1972.23 4186.37 L1975.19 4187.19 L1978.15 4188.00 L1981.10 4188.83 L1984.06 4189.66 L1987.02 4190.50 L1989.98 4191.34 L1992.94 4192.19 L1995.90 4193.05 L1998.86 4193.91 L2001.82 4194.78 L2004.78 4195.65 L2007.74 4196.53 L2010.70 4197.42 L2013.65 4198.31 L2016.61 4199.21 L2019.57 4200.12 L2022.53 4201.03 L2025.49 4201.95 L2028.45 4202.88 L2031.41 4203.81 L2034.37 4204.74 L2037.33 4205.69 L2040.29 4206.64 L2043.25 4207.60 L2046.20 4208.56 L2049.16 4209.53 L2052.12 4210.51 L2055.08 4211.49 L2058.04 4212.48 L2061.00 4213.48" stroke="#4169e1" stroke-linecap="butt" stroke-dasharray="55.09,23.82"/>
<path d="M288.50 3710.27 L291.46 3713.06 L294.42 3715.84 L297.38 3718.61 L300.34 3721.37 L303.30 3724.12 L306.25 3726.87 L309.21 3729.61 L312.17 3732.34 L315.13 3735.06 L318.09 3737.77 L321.05 3740.47 L324.01 3743.16 L326.97 3745.84 L329.93 3748.51 L332.89 3751.18 L335.85 3753.83 L338.80 3756.47 L341.76 3759.10 L344.72 3761.72 L347.68 3764.33 L350.64 3766.93 L353.60 3769.52 L356.56 3772.10 L359.52 3774.66 L362.48 3777.22 L365.44 3779.76 L368.40 3782.29 L371.35 3784.81 L374.31 3787.32 L377.27 3789.81 L380.23 3792.29 L383.19 3794.76 L386.15 3797.22 L389.11 3799.67 L392.07 3802.10 L395.03 3804.52 L397.99 3806.92 L400.95 3809.32 L403.90 3811.70 L406.86 3814.06 L409.82 3816.41 L412.78 3818.75 L415.74 3821.07 L418.70 3823.38 L421.66 3825.68 L424.62 3827.96 L427.58 3830.22 L430.54 3832.47 L433.50 3834.71 L436.45 3836.93 L439.41 3839.14 L442.37 3841.33 L445.33 3843.50 L448.29 3845.66 L451.25 3847.80 L454.21 3849.93 L457.17 3852.04 L460.13 3854.14 L463.09 3856.23 L466.05 3858.30 L469.01 3860.35 L471.96 3862.39 L474.92 3864.42 L477.88 3866.43 L480.84 3868.43 L483.80 3870.41 L486.76 3872.38 L489.72 3874.34 L492.68 3876.28 L495.64 3878.21 L498.60 3880.13 L501.56 3882.04 L504.51 3883.93 L507.47 3885.81 L510.43 3887.67 L513.39 3889.53 L516.35 3891.37 L519.31 3893.20 L522.27 3895.02 L525.23 3896.83 L528.19 3898.62 L531.15 3900.40 L534.11 3902.17 L537.06 3903.93 L540.02 3905.68 L542.98 3907.42 L545.94 3909.15 L548.90 3910.87 L551.86 3912.57 L554.82 3914.27 L557.78 3915.95 L560.74 3917.63 L563.70 3919.29 L566.66 3920.95 L569.61 3922.60 L572.57 3924.23 L575.53 3925.86 L578.49 3927.48 L581.45 3929.08 L584.41 3930.68 L587.37 3932.27 L590.33 3933.86 L593.29 3935.43 L596.25 3936.99 L599.21 3938.55 L602.16 3940.10 L605.12 3941.64 L608.08 3943.17 L611.04 3944.69 L614.00 3946.20 L616.96 3947.71 L619.92 3949.21 L622.88 3950.70 L625.84 3952.19 L628.80 3953.67 L631.76 3955.14 L634.71 3956.60 L637.67 3958.05 L640.63 3959.50 L643.59 3960.95 L646.55 3962.38 L649.51 3963.81 L652.47 3965.23 L655.43 3966.65 L658.39 3968.06 L661.35 3969.46 L664.31 3970.86 L667.26 3972.25 L670.22 3973.63 L673.18 3975.01 L676.14 3976.39 L679.10 3977.75 L682.06 3979.12 L685.02 3980.47 L687.98 3981.83 L690.94 3983.17 L693.90 3984.52 L696.86 3985.85 L699.81 3987.19 L702.77 3988.51 L705.73 3989.84 L708.69 3991.15 L711.65 3992.47 L714.61 3993.78 L717.57 3995.08 L720.53 3996.39 L723.49 3997.68 L726.45 3998.98 L729.41 4000.27 L732.36 4001.55 L735.32 4002.84 L738.28 4004.12 L741.24 4005.39 L744.20 4006.67 L747.16 4007.94 L750.12 4009.20 L753.08 4010.47 L756.04 4011.73 L759.00 4012.99 L761.96 4014.24 L764.91 4015.50 L767.87 4016.75 L770.83 4018.00 L773.79 4019.24 L776.75 4020.49 L779.71 4021.73 L782.67 4022.97 L785.63 4024.21 L788.59 4025.45 L791.55 4026.69 L794.51 4027.92 L797.46 4029.16 L800.42 4030.39 L803.38 4031.62 L806.34 4032.85 L809.30 4034.08 L812.26 4035.31 L815.22 4036.54 L818.18 4037.77 L821.14 4039.00 L824.10 4040.22 L827.06 4041.45 L830.02 4042.68 L832.97 4043.90 L835.93 4045.13 L838.89 4046.35 L841.85 4047.58 L844.81 4048.80 L847.77 4050.03 L850.73 4051.25 L853.69 4052.48 L856.65 4053.70 L859.61 4054.92 L862.57 4056.15 L865.52 4057.37 L868.48 4058.59 L871.44 4059.81 L874.40 4061.04 L877.36 4062.26 L880.32 4063.48 L883.28 4064.70 L886.24 4065.92 L889.20 4067.14 L892.16 4068.36 L895.12 4069.57 L898.07 4070.79 L901.03 4072.01 L903.99 4073.23 L906.95 4074.45 L909.91 4075.66 L912.87 4076.88 L915.83 4078.09 L918.79 4079.31 L921.75 4080.53 L924.71 4081.74 L927.67 4082.95 L930.62 4084.17 L933.58 4085.38 L936.54 4086.59 L939.50 4087.81 L942.46 4089.02 L945.42 4090.23 L948.38 4091.44 L951.34 4092.65 L954.30 4093.86 L957.26 4095.07 L960.22 4096.28 L963.17 4097.49 L966.13 4098.70 L969.09 4099.90 L972.05 4101.11 L975.01 4102.32 L977.97 4103.52 L980.93 4104.73 L983.89 4105.93 L986.85 4107.14 L989.81 4108.34 L992.77 4109.54 L995.72 4110.75 L998.68 4111.95 L1001.64 4113.15 L1004.60 4114.35 L1007.56 4115.55 L1010.52 4116.75 L1013.48 4117.95 L1016.44 4119.15 L1019.40 4120.35 L1022.36 4121.55 L1025.32 4122.75 L1028.27 4123.94 L1031.23 4125.14 L1034.19 4126.33 L1037.15 4127.53 L1040.11 4128.72 L1043.07 4129.92 L1046.03 4131.11 L1048.99 4132.30 L1051.95 4133.50 L1054.91 4134.69 L1057.87 4135.88 L1060.82 4137.07 L1063.78 4138.26 L1066.74 4139.45 L1069.70 4140.63 L1072.66 4141.82 L1075.62 4143.01 L1078.58 4144.20 L1081.54 4145.38 L1084.50 4146.57 L1087.46 4147.75 L1090.42 4148.93 L1093.37 4150.12 L1096.33 4151.30 L1099.29 4152.48 L1102.25 4153.66 L1105.21 4154.84 L1108.17 4156.02 L1111.13 4157.20 L1114.09 4158.38 L1117.05 4159.56 L1120.01 4160.73 L1122.97 4161.91 L1125.92 4163.09 L1128.88 4164.26 L1131.84 4165.44 L1134.80 4166.61 L1137.76 4167.78 L1140.72 4168.95 L1143.68 4170.12 L1146.64 4171.29 L1149.60 4172.46 L1152.56 4173.63 L1155.52 4174.80 L1158.47 4175.97 L1161.43 4177.14 L1164.39 4178.30 L1167.35 4179.47 L1170.31 4180.63 L1173.27 4181.80 L1176.23 4182.96 L1179.19 4184.12 L1182.15 4185.28 L1185.11 4186.44 L1188.07 4187.60 L1191.03 4188.76 L1193.98 4189.92 L1196.94 4191.08 L1199.90 4192.23 L1202.86 4193.39 L1205.82 4194.54 L1208.78 4195.70 L1211.74 4196.85 L1214.70 4198.01 L1217.66 4199.16 L1220.62 4200.31 L1223.58 4201.46 L1226.53 4202.61 L1229.49 4203.76 L1232.45 4204.90 L1235.41 4206.05 L1238.37 4207.20 L1241.33 4208.34 L1244.29 4209.49 L1247.25 4210.63 L1250.21 4211.77 L1253.17 4212.91 L1256.13 4214.05 L1259.08 4215.19 L1262.04 4216.33 L1265.00 4217.47 L1267.96 4218.61 L1270.92 4219.74 L1273.88 4220.88 L1276.84 4222.01 L1279.80 4223.15 L1282.76 4224.28 L1285.72 4225.41 L1288.68 4226.54 L1291.63 4227.67 L1294.59 4228.80 L1297.55 4229.93 L1300.51 4231.06 L1303.47 4232.18 L1306.43 4233.31 L1309.39 4234.43 L1312.35 4235.56 L1315.31 4236.68 L1318.27 4237.80 L1321.23 4238.92 L1324.18 4240.04 L1327.14 4241.16 L1330.10 4242.28 L1333.06 4243.40 L1336.02 4244.51 L1338.98 4245.63 L1341.94 4246.74 L1344.90 4247.85 L1347.86 4248.97 L1350.82 4250.08 L1353.78 4251.19 L1356.73 4252.30 L1359.69 4253.40 L1362.65 4254.51 L1365.61 4255.62 L1368.57 4256.72 L1371.53 4257.83 L1374.49 4258.93 L1377.45 4260.03 L1380.41 4261.13 L1383.37 4262.23 L1386.33 4263.33 L1389.28 4264.43 L1392.24 4265.52 L1395.20 4266.62 L1398.16 4267.71 L1401.12 4268.81 L1404.08 4269.90 L1407.04 4270.99 L1410.00 4272.08 L1412.96 4273.17 L1415.92 4274.26 L1418.88 4275.35 L1421.83 4276.43 L1424.79 4277.52 L1427.75 4278.60 L1430.71 4279.69 L1433.67 4280.77 L1436.63 4281.85 L1439.59 4282.93 L1442.55 4284.01 L1445.51 4285.08 L1448.47 4286.16 L1451.43 4287.23 L1454.38 4288.31 L1457.34 4289.38 L1460.30 4290.45 L1463.26 4291.52 L1466.22 4292.59 L1469.18 4293.66 L1472.14 4294.73 L1475.10 4295.80 L1478.06 4296.86 L1481.02 4297.92 L1483.98 4298.99 L1486.93 4300.05 L1489.89 4301.11 L1492.85 4302.17 L1495.81 4303.23 L1498.77 4304.28 L1501.73 4305.34 L1504.69 4306.39 L1507.65 4307.45 L1510.61 4308.50 L1513.57 4309.55 L1516.53 4310.60 L1519.48 4311.65 L1522.44 4312.69 L1525.40 4313.74 L1528.36 4314.78 L1531.32 4315.83 L1534.28 4316.87 L1537.24 4317.91 L1540.20 4318.95 L1543.16 4319.99 L1546.12 4321.03 L1549.08 4322.06 L1552.04 4323.10 L1554.99 4324.13 L1557.95 4325.16 L1560.91 4326.20 L1563.87 4327.23 L1566.83 4328.25 L1569.79 4329.28 L1572.75 4330.31 L1575.71 4331.33 L1578.67 4332.36 L1581.63 4333.38 L1584.59 4334.40 L1587.54 4335.42 L1590.50 4336.44 L1593.46 4337.46 L1596.42 4338.47 L1599.38 4339.49 L1602.34 4340.50 L1605.30 4341.51 L1608.26 4342.52 L1611.22 4343.53 L1614.18 4344.54 L1617.14 4345.55 L1620.09 4346.55 L1623.05 4347.56 L1626.01 4348.56 L1628.97 4349.56 L1631.93 4350.56 L1634.89 4351.56 L1637.85 4352.56 L1640.81 4353.55 L1643.77 4354.55 L1646.73 4355.54 L1649.69 4356.53 L1652.64 4357.52 L1655.60 4358.51 L1658.56 4359.50 L1661.52 4360.49 L1664.48 4361.47 L1667.44 4362.45 L1670.40 4363.44 L1673.36 4364.42 L1676.32 4365.40 L1679.28 4366.37 L1682.24 4367.35 L1685.19 4368.33 L1688.15 4369.30 L1691.11 4370.27 L1694.07 4371.24 L1697.03 4372.21 L1699.99 4373.18 L1702.95 4374.15 L1705.91 4375.11 L1708.87 4376.08 L1711.83 4377.04 L1714.79 4378.00 L1717.74 4378.96 L1720.70 4379.92 L1723.66 4380.87 L1726.62 4381.83 L1729.58 4382.78 L1732.54 4383.74 L1735.50 4384.69 L1738.46 4385.64 L1741.42 4386.58 L1744.38 4387.53 L1747.34 4388.47 L1750.29 4389.42 L1753.25 4390.36 L1756.21 4391.30 L1759.17 4392.24 L1762.13 4393.18 L1765.09 4394.11 L1768.05 4395.05 L1771.01 4395.98 L1773.97 4396.91 L1776.93 4397.84 L1779.89 4398.77 L1782.84 4399.69 L1785.80 4400.62 L1788.76 4401.54 L1791.72 4402.47 L1794.68 4403.39 L1797.64 4404.30 L1800.60 4405.22 L1803.56 4406.14 L1806.52 4407.05 L1809.48 4407.96 L1812.44 4408.88 L1815.39 4409.79 L1818.35 4410.69 L1821.31 4411.60 L1824.27 4412.50 L1827.23 4413.41 L1830.19 4414.31 L1833.15 4415.21 L1836.11 4416.11 L1839.07 4417.00 L1842.03 4417.90 L1844.99 4418.79 L1847.94 4419.69 L1850.90 4420.58 L1853.86 4421.46 L1856.82 4422.35 L1859.78 4423.24 L1862.74 4424.12 L1865.70 4425.00 L1868.66 4425.88 L1871.62 4426.76 L1874.58 4427.64 L1877.54 4428.52 L1880.49 4429.39 L1883.45 4430.26 L1886.41 4431.13 L1889.37 4432.00 L1892.33 4432.87 L1895.29 4433.73 L1898.25 4434.60 L1901.21 4435.46 L1904.17 4436.32 L1907.13 4437.18 L1910.09 4438.04 L1913.05 4438.89 L1916.00 4439.75 L1918.96 4440.60 L1921.92 4441.45 L1924.88 4442.30 L1927.84 4443.14 L1930.80 4443.99 L1933.76 4444.83 L1936.72 4445.68 L1939.68 4446.52 L1942.64 4447.35 L1945.60 4448.19 L1948.55 4449.03 L1951.51 4449.86 L1954.47 4450.69 L1957.43 4451.52 L1960.39 4452.35 L1963.35 4453.17 L1966.31 4454.00 L1969.27 4454.82 L1972.23 4455.64 L1975.19 4456.46 L1978.15 4457.28 L1981.10 4458.09 L1984.06 4458.91 L1987.02 4459.72 L1989.98 4460.53 L1992.94 4461.34 L1995.90 4462.14 L1998.86 4462.95 L2001.82 4463.75 L2004.78 4464.55 L2007.74 4465.35 L2010.70 4466.15 L2013.65 4466.94 L2016.61 4467.74 L2019.57 4468.53 L2022.53 4469.32 L2025.49 4470.11 L2028.45 4470.90 L2031.41 4471.68 L2034.37 4472.46 L2037.33 4473.24 L2040.29 4474.02 L2043.25 4474.80 L2046.20 4475.58 L2049.16 4476.35 L2052.12 4477.12 L2055.08 4477.89 L2058.04 4478.66 L2061.00 4479.42" stroke="#ff0000" stroke-linecap="square"/>
<path d="M288.50 3276.94 L291.46 3280.63 L294.42 3284.34 L297.38 3288.07 L300.34 3291.83 L303.30 3295.61 L306.25 3299.41 L309.21 3303.23 L312.17 3307.07 L315.13 3310.93 L318.09 3314.81 L321.05 3318.71 L324.01 3322.63 L326.97 3326.56 L329.93 3330.51 L332.89 3334.47 L335.85 3338.45 L338.80 3342.44 L341.76 3346.45 L344.72 3350.47 L347.68 3354.50 L350.64 3358.54 L353.60 3362.60 L356.56 3366.66 L359.52 3370.74 L362.48 3374.82 L365.44 3378.91 L368.40 3383.01 L371.35 3387.12 L374.31 3391.23 L377.27 3395.35 L380.23 3399.48 L383.19 3403.61 L386.15 3407.74 L389.11 3411.88 L392.07 3416.01 L395.03 3420.16 L397.99 3424.30 L400.95 3428.44 L403.90 3432.58 L406.86 3436.73 L409.82 3440.87 L412.78 3445.01 L415.74 3449.14 L418.70 3453.28 L421.66 3457.40 L424.62 3461.53 L427.58 3465.65 L430.54 3469.76 L433.50 3473.87 L436.45 3477.97 L439.41 3482.07 L442.37 3486.15 L445.33 3490.23 L448.29 3494.30 L451.25 3498.36 L454.21 3502.41 L457.17 3506.45 L460.13 3510.49 L463.09 3514.52 L466.05 3518.54 L469.01 3522.55 L471.96 3526.55 L474.92 3530.55 L477.88 3534.54 L480.84 3538.51 L483.80 3542.48 L486.76 3546.45 L489.72 3550.40 L492.68 3554.35 L495.64 3558.28 L498.60 3562.21 L501.56 3566.13 L504.51 3570.05 L507.47 3573.95 L510.43 3577.85 L513.39 3581.74 L516.35 3585.61 L519.31 3589.49 L522.27 3593.35 L525.23 3597.20 L528.19 3601.05 L531.15 3604.89 L534.11 3608.72 L537.06 3612.54 L540.02 3616.35 L542.98 3620.15 L545.94 3623.95 L548.90 3627.74 L551.86 3631.51 L554.82 3635.28 L557.78 3639.05 L560.74 3642.80 L563.70 3646.54 L566.66 3650.27 L569.61 3653.99 L572.57 3657.70 L575.53 3661.40 L578.49 3665.09 L581.45 3668.76 L584.41 3672.42 L587.37 3676.07 L590.33 3679.70 L593.29 3683.32 L596.25 3686.92 L599.21 3690.51 L602.16 3694.08 L605.12 3697.63 L608.08 3701.17 L611.04 3704.69 L614.00 3708.19 L616.96 3711.68 L619.92 3715.14 L622.88 3718.59 L625.84 3722.01 L628.80 3725.42 L631.76 3728.80 L634.71 3732.16 L637.67 3735.51 L640.63 3738.83 L643.59 3742.13 L646.55 3745.41 L649.51 3748.67 L652.47 3751.91 L655.43 3755.13 L658.39 3758.33 L661.35 3761.51 L664.31 3764.67 L667.26 3767.82 L670.22 3770.95 L673.18 3774.05 L676.14 3777.15 L679.10 3780.22 L682.06 3783.28 L685.02 3786.32 L687.98 3789.34 L690.94 3792.35 L693.90 3795.34 L696.86 3798.31 L699.81 3801.27 L702.77 3804.22 L705.73 3807.15 L708.69 3810.06 L711.65 3812.96 L714.61 3815.85 L717.57 3818.72 L720.53 3821.58 L723.49 3824.43 L726.45 3827.26 L729.41 3830.08 L732.36 3832.89 L735.32 3835.69 L738.28 3838.47 L741.24 3841.24 L744.20 3844.00 L747.16 3846.75 L750.12 3849.49 L753.08 3852.22 L756.04 3854.94 L759.00 3857.65 L761.96 3860.34 L764.91 3863.03 L767.87 3865.70 L770.83 3868.37 L773.79 3871.02 L776.75 3873.66 L779.71 3876.30 L782.67 3878.92 L785.63 3881.53 L788.59 3884.14 L791.55 3886.73 L794.51 3889.31 L797.46 3891.89 L800.42 3894.45 L803.38 3897.01 L806.34 3899.55 L809.30 3902.09 L812.26 3904.61 L815.22 3907.13 L818.18 3909.64 L821.14 3912.14 L824.10 3914.63 L827.06 3917.11 L830.02 3919.58 L832.97 3922.05 L835.93 3924.50 L838.89 3926.95 L841.85 3929.38 L844.81 3931.81 L847.77 3934.23 L850.73 3936.65 L853.69 3939.05 L856.65 3941.45 L859.61 3943.84 L862.57 3946.22 L865.52 3948.59 L868.48 3950.95 L871.44 3953.31 L874.40 3955.66 L877.36 3958.00 L880.32 3960.33 L883.28 3962.66 L886.24 3964.97 L889.20 3967.28 L892.16 3969.58 L895.12 3971.88 L898.07 3974.17 L901.03 3976.44 L903.99 3978.71 L906.95 3980.98 L909.91 3983.23 L912.87 3985.48 L915.83 3987.72 L918.79 3989.95 L921.75 3992.18 L924.71 3994.40 L927.67 3996.61 L930.62 3998.81 L933.58 4001.00 L936.54 4003.19 L939.50 4005.37 L942.46 4007.54 L945.42 4009.71 L948.38 4011.86 L951.34 4014.01 L954.30 4016.16 L957.26 4018.29 L960.22 4020.42 L963.17 4022.54 L966.13 4024.65 L969.09 4026.76 L972.05 4028.85 L975.01 4030.95 L977.97 4033.03 L980.93 4035.11 L983.89 4037.17 L986.85 4039.24 L989.81 4041.29 L992.77 4043.34 L995.72 4045.38 L998.68 4047.41 L1001.64 4049.44 L1004.60 4051.46 L1007.56 4053.47 L1010.52 4055.47 L1013.48 4057.47 L1016.44 4059.46 L1019.40 4061.44 L1022.36 4063.42 L1025.32 4065.39 L1028.27 4067.35 L1031.23 4069.30 L1034.19 4071.25 L1037.15 4073.19 L1040.11 4075.13 L1043.07 4077.05 L1046.03 4078.97 L1048.99 4080.89 L1051.95 4082.79 L1054.91 4084.69 L1057.87 4086.59 L1060.82 4088.47 L1063.78 4090.35 L1066.74 4092.22 L1069.70 4094.09 L1072.66 4095.95 L1075.62 4097.80 L1078.58 4099.65 L1081.54 4101.48 L1084.50 4103.32 L1087.46 4105.14 L1090.42 4106.96 L1093.37 4108.77 L1096.33 4110.58 L1099.29 4112.37 L1102.25 4114.17 L1105.21 4115.95 L1108.17 4117.73 L1111.13 4119.50 L1114.09 4121.27 L1117.05 4123.03 L1120.01 4124.78 L1122.97 4126.53 L1125.92 4128.27 L1128.88 4130.00 L1131.84 4131.72 L1134.80 4133.45 L1137.76 4135.16 L1140.72 4136.87 L1143.68 4138.57 L1146.64 4140.26 L1149.60 4141.95 L1152.56 4143.63 L1155.52 4145.31 L1158.47 4146.98 L1161.43 4148.64 L1164.39 4150.30 L1167.35 4151.95 L1170.31 4153.59 L1173.27 4155.23 L1176.23 4156.86 L1179.19 4158.49 L1182.15 4160.11 L1185.11 4161.72 L1188.07 4163.33 L1191.03 4164.93 L1193.98 4166.52 L1196.94 4168.11 L1199.90 4169.70 L1202.86 4171.27 L1205.82 4172.84 L1208.78 4174.41 L1211.74 4175.97 L1214.70 4177.52 L1217.66 4179.07 L1220.62 4180.61 L1223.58 4182.14 L1226.53 4183.67 L1229.49 4185.19 L1232.45 4186.71 L1235.41 4188.22 L1238.37 4189.73 L1241.33 4191.23 L1244.29 4192.72 L1247.25 4194.21 L1250.21 4195.69 L1253.17 4197.17 L1256.13 4198.64 L1259.08 4200.10 L1262.04 4201.56 L1265.00 4203.01 L1267.96 4204.46 L1270.92 4205.90 L1273.88 4207.34 L1276.84 4208.77 L1279.80 4210.20 L1282.76 4211.62 L1285.72 4213.03 L1288.68 4214.44 L1291.63 4215.84 L1294.59 4217.24 L1297.55 4218.63 L1300.51 4220.02 L1303.47 4221.40 L1306.43 4222.77 L1309.39 4224.14 L1312.35 4225.50 L1315.31 4226.86 L1318.27 4228.22 L1321.23 4229.56 L1324.18 4230.91 L1327.14 4232.24 L1330.10 4233.58 L1333.06 4234.90 L1336.02 4236.22 L1338.98 4237.54 L1341.94 4238.85 L1344.90 4240.16 L1347.86 4241.46 L1350.82 4242.75 L1353.78 4244.04 L1356.73 4245.32 L1359.69 4246.60 L1362.65 4247.88 L1365.61 4249.15 L1368.57 4250.41 L1371.53 4251.67 L1374.49 4252.92 L1377.45 4254.17 L1380.41 4255.41 L1383.37 4256.65 L1386.33 4257.88 L1389.28 4259.11 L1392.24 4260.34 L1395.20 4261.55 L1398.16 4262.77 L1401.12 4263.97 L1404.08 4265.18 L1407.04 4266.38 L1410.00 4267.57 L1412.96 4268.76 L1415.92 4269.94 L1418.88 4271.12 L1421.83 4272.29 L1424.79 4273.46 L1427.75 4274.63 L1430.71 4275.79 L1433.67 4276.94 L1436.63 4278.09 L1439.59 4279.24 L1442.55 4280.38 L1445.51 4281.51 L1448.47 4282.64 L1451.43 4283.77 L1454.38 4284.89 L1457.34 4286.01 L1460.30 4287.12 L1463.26 4288.23 L1466.22 4289.33 L1469.18 4290.43 L1472.14 4291.52 L1475.10 4292.61 L1478.06 4293.70 L1481.02 4294.78 L1483.98 4295.85 L1486.93 4296.92 L1489.89 4297.99 L1492.85 4299.05 L1495.81 4300.11 L1498.77 4301.17 L1501.73 4302.21 L1504.69 4303.26 L1507.65 4304.30 L1510.61 4305.34 L1513.57 4306.37 L1516.53 4307.39 L1519.48 4308.42 L1522.44 4309.44 L1525.40 4310.45 L1528.36 4311.46 L1531.32 4312.47 L1534.28 4313.47 L1537.24 4314.47 L1540.20 4315.46 L1543.16 4316.45 L1546.12 4317.43 L1549.08 4318.41 L1552.04 4319.39 L1554.99 4320.36 L1557.95 4321.33 L1560.91 4322.29 L1563.87 4323.25 L1566.83 4324.21 L1569.79 4325.16 L1572.75 4326.11 L1575.71 4327.06 L1578.67 4328.00 L1581.63 4328.93 L1584.59 4329.86 L1587.54 4330.79 L1590.50 4331.72 L1593.46 4332.64 L1596.42 4333.55 L1599.38 4334.47 L1602.34 4335.37 L1605.30 4336.28 L1608.26 4337.18 L1611.22 4338.08 L1614.18 4338.97 L1617.14 4339.86 L1620.09 4340.75 L1623.05 4341.63 L1626.01 4342.51 L1628.97 4343.38 L1631.93 4344.25 L1634.89 4345.12 L1637.85 4345.99 L1640.81 4346.85 L1643.77 4347.70 L1646.73 4348.56 L1649.69 4349.41 L1652.64 4350.25 L1655.60 4351.09 L1658.56 4351.93 L1661.52 4352.77 L1664.48 4353.60 L1667.44 4354.43 L1670.40 4355.25 L1673.36 4356.07 L1676.32 4356.89 L1679.28 4357.70 L1682.24 4358.52 L1685.19 4359.32 L1688.15 4360.13 L1691.11 4360.93 L1694.07 4361.72 L1697.03 4362.52 L1699.99 4363.31 L1702.95 4364.10 L1705.91 4364.88 L1708.87 4365.66 L1711.83 4366.44 L1714.79 4367.21 L1717.74 4367.99 L1720.70 4368.75 L1723.66 4369.52 L1726.62 4370.28 L1729.58 4371.04 L1732.54 4371.79 L1735.50 4372.55 L1738.46 4373.29 L1741.42 4374.04 L1744.38 4374.78 L1747.34 4375.52 L1750.29 4376.26 L1753.25 4376.99 L1756.21 4377.72 L1759.17 4378.45 L1762.13 4379.18 L1765.09 4379.90 L1768.05 4380.62 L1771.01 4381.33 L1773.97 4382.05 L1776.93 4382.76 L1779.89 4383.46 L1782.84 4384.17 L1785.80 4384.87 L1788.76 4385.57 L1791.72 4386.27 L1794.68 4386.96 L1797.64 4387.65 L1800.60 4388.34 L1803.56 4389.02 L1806.52 4389.70 L1809.48 4390.38 L1812.44 4391.06 L1815.39 4391.73 L1818.35 4392.41 L1821.31 4393.07 L1824.27 4393.74 L1827.23 4394.40 L1830.19 4395.06 L1833.15 4395.72 L1836.11 4396.38 L1839.07 4397.03 L1842.03 4397.68 L1844.99 4398.33 L1847.94 4398.98 L1850.90 4399.62 L1853.86 4400.26 L1856.82 4400.90 L1859.78 4401.53 L1862.74 4402.17 L1865.70 4402.80 L1868.66 4403.43 L1871.62 4404.05 L1874.58 4404.68 L1877.54 4405.30 L1880.49 4405.92 L1883.45 4406.53 L1886.41 4407.15 L1889.37 4407.76 L1892.33 4408.37 L1895.29 4408.98 L1898.25 4409.59 L1901.21 4410.19 L1904.17 4410.79 L1907.13 4411.39 L1910.09 4411.99 L1913.05 4412.58 L1916.00 4413.17 L1918.96 4413.76 L1921.92 4414.35 L1924.88 4414.94 L1927.84 4415.52 L1930.80 4416.10 L1933.76 4416.68 L1936.72 4417.26 L1939.68 4417.84 L1942.64 4418.41 L1945.60 4418.99 L1948.55 4419.56 L1951.51 4420.12 L1954.47 4420.69 L1957.43 4421.25 L1960.39 4421.82 L1963.35 4422.38 L1966.31 4422.94 L1969.27 4423.49 L1972.23 4424.05 L1975.19 4424.60 L1978.15 4425.15 L1981.10 4425.70 L1984.06 4426.25 L1987.02 4426.80 L1989.98 4427.34 L1992.94 4427.89 L1995.90 4428.43 L1998.86 4428.97 L2001.82 4429.51 L2004.78 4430.04 L2007.74 4430.58 L2010.70 4431.11 L2013.65 4431.64 L2016.61 4432.17 L2019.57 4432.70 L2022.53 4433.23 L2025.49 4433.75 L2028.45 4434.28 L2031.41 4434.80 L2034.37 4435.32 L2037.33 4435.84 L2040.29 4436.36 L2043.25 4436.87 L2046.20 4437.39 L2049.16 4437.90 L2052.12 4438.41 L2055.08 4438.92 L2058.04 4439.43 L2061.00 4439.94" stroke="#228b22" stroke-linecap="butt" stroke-dasharray="95.30,23.82,14.89,23.82"/>
</g>
<rect x="288.50" y="3217.30" width="1772.50" height="1321.80" fill="none" stroke="#000" stroke-width="3.97" stroke-linejoin="miter"/>
<path d="M288.50 4539.10 V4556.50 M583.92 4539.10 V4556.50 M879.33 4539.10 V4556.50 M1174.75 4539.10 V4556.50 M1470.17 4539.10 V4556.50 M1765.58 4539.10 V4556.50 M2061.00 4539.10 V4556.50 M288.50 4429.16 H271.10 M288.50 4199.38 H271.10 M288.50 3969.60 H271.10 M288.50 3739.82 H271.10 M288.50 3510.04 H271.10 M288.50 3280.26 H271.10" stroke="#000" stroke-width="3.97" fill="none"/>
<text x="253.70" y="4447.31" font-size="49.63" text-anchor="end">−1.0</text>
<text x="253.70" y="4217.53" font-size="49.63" text-anchor="end">−0.5</text>
<text x="253.70" y="3987.75" font-size="49.63" text-anchor="end">0.0</text>
<text x="253.70" y="3757.97" font-size="49.63" text-anchor="end">0.5</text>
<text x="253.70" y="3528.19" font-size="49.63" text-anchor="end">1.0</text>
<text x="253.70" y="3298.41" font-size="49.63" text-anchor="end">1.5</text>
<text x="288.50" y="4611.4" font-size="49.63" text-anchor="middle">0</text>
<text x="583.92" y="4611.4" font-size="49.63" text-anchor="middle">10</text>
<text x="879.33" y="4611.4" font-size="49.63" text-anchor="middle">20</text>
<text x="1174.75" y="4611.4" font-size="49.63" text-anchor="middle">30</text>
<text x="1470.17" y="4611.4" font-size="49.63" text-anchor="middle">40</text>
<text x="1765.58" y="4611.4" font-size="49.63" text-anchor="middle">50</text>
<text x="2061.00" y="4611.4" font-size="49.63" text-anchor="middle">60</text>
<text x="1174.75" y="4710.4" font-size="89.3" text-anchor="middle">P (GPa)</text>
<text transform="translate(93.20 3878.20) rotate(-90)" font-size="89.3" text-anchor="middle">Δ H (eV)</text>
<text x="1173.60" y="3173.80" font-size="76.8" font-weight="bold" text-anchor="middle">c)</text>
<rect x="1649.20" y="3242.10" width="387.00" height="451.60" rx="9.93" ry="9.93" fill="#fff" fill-opacity="0.8" stroke="#ccc" stroke-opacity="0.8" stroke-width="4.96"/>
<path d="M1669.50 3282.15 H1768.80" stroke="#000000" stroke-width="14.89" stroke-linecap="square" fill="none"/>
<text x="1808.35" y="3299.70" font-size="49.63">Pnma</text>
<path d="M1669.50 3354.93 H1768.80" stroke="#8a2be2" stroke-width="14.89" stroke-dasharray="55.09,23.82" fill="none"/>
<text x="1808.35" y="3372.48" font-size="49.63">R-3m</text>
<path d="M1669.50 3427.71 H1768.80" stroke="#000080" stroke-width="14.89" stroke-dasharray="95.30,23.82,14.89,23.82" fill="none"/>
<text x="1808.35" y="3445.26" font-size="49.63">C2/c</text>
<path d="M1669.50 3500.49 H1768.80" stroke="#4169e1" stroke-width="14.89" stroke-dasharray="55.09,23.82" fill="none"/>
<text x="1808.35" y="3518.04" font-size="49.63">C2/m</text>
<path d="M1669.50 3573.27 H1768.80" stroke="#ff0000" stroke-width="14.89" stroke-linecap="square" fill="none"/>
<text x="1808.35" y="3590.82" font-size="49.63">Im-3m</text>
<path d="M1669.50 3646.05 H1768.80" stroke="#228b22" stroke-width="14.89" stroke-dasharray="95.30,23.82,14.89,23.82" fill="none"/>
<text x="1808.35" y="3663.60" font-size="49.63">I4/mmm</text>
</svg></body></html>
